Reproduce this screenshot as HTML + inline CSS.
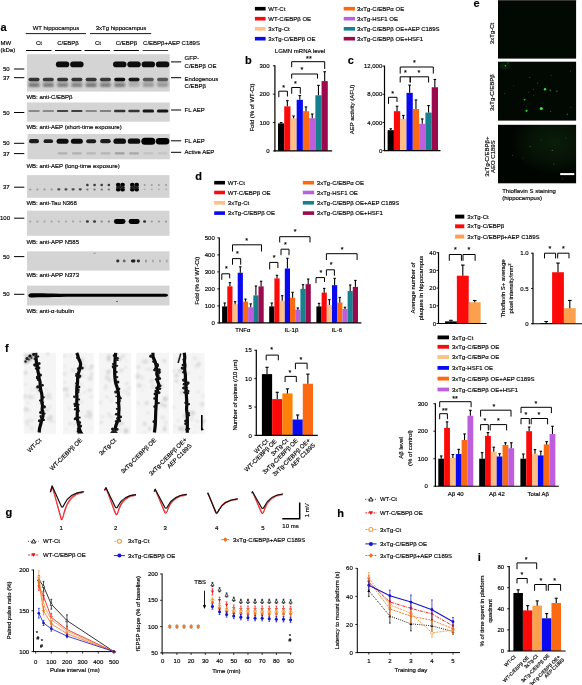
<!DOCTYPE html><html><head><meta charset="utf-8"><title>Figure</title><style>html,body{margin:0;padding:0;background:#fff;width:582px;height:685px;overflow:hidden}svg{display:block}text{stroke:#000;stroke-width:0.16px}</style></head><body><svg width="582" height="685" viewBox="0 0 582 685" font-family="'Liberation Sans', Arial, sans-serif" font-size="6"><defs>
<filter id="b4" x="-50%" y="-50%" width="200%" height="200%"><feGaussianBlur stdDeviation="0.4"/></filter>
<filter id="b5" x="-50%" y="-50%" width="200%" height="200%"><feGaussianBlur stdDeviation="0.5"/></filter>
<filter id="b6" x="-50%" y="-50%" width="200%" height="200%"><feGaussianBlur stdDeviation="0.6"/></filter>
<filter id="b8" x="-50%" y="-50%" width="200%" height="200%"><feGaussianBlur stdDeviation="0.8"/></filter>
<filter id="b9" x="-50%" y="-50%" width="200%" height="200%"><feGaussianBlur stdDeviation="0.9"/></filter>
<radialGradient id="g3" cx="0.72" cy="0.3" r="0.55"><stop offset="0" stop-color="#0a1d0a"/><stop offset="0.6" stop-color="#061206"/><stop offset="1" stop-color="#010501"/></radialGradient>
</defs><text x="0.5" y="30.5" font-size="11" font-weight="bold">a</text>
<text x="56.00" y="30.16" text-anchor="middle">WT hippocampus</text>
<text x="121.00" y="30.16" text-anchor="middle">3xTg hippocampus</text>
<line x1="25.80" y1="33.60" x2="86.00" y2="33.60" stroke="#000" stroke-width="0.9"/>
<line x1="90.00" y1="33.60" x2="151.20" y2="33.60" stroke="#000" stroke-width="0.9"/>
<text x="0.50" y="45.16">MW</text>
<text x="0.50" y="52.16">(kDa)</text>
<text x="39.00" y="45.16" text-anchor="middle">Ct</text>
<text x="68.00" y="45.16" text-anchor="middle">C/EBPβ</text>
<text x="98.00" y="45.16" text-anchor="middle">Ct</text>
<text x="126.50" y="45.16" text-anchor="middle">C/EBPβ</text>
<text x="171.50" y="45.16" text-anchor="middle">C/EBPβ+AEP C189S</text>
<line x1="26.00" y1="50.50" x2="51.50" y2="50.50" stroke="#000" stroke-width="1.0"/>
<line x1="55.00" y1="50.50" x2="81.40" y2="50.50" stroke="#000" stroke-width="1.0"/>
<line x1="84.50" y1="50.50" x2="110.00" y2="50.50" stroke="#000" stroke-width="1.0"/>
<line x1="113.70" y1="50.50" x2="138.90" y2="50.50" stroke="#000" stroke-width="1.0"/>
<line x1="142.60" y1="50.50" x2="168.10" y2="50.50" stroke="#3a3a3a" stroke-width="1.0"/>
<rect x="26.90" y="54.20" width="142.90" height="37.40" fill="#d4d4d4"/>
<rect x="26.90" y="102.50" width="142.90" height="19.20" fill="#d4d4d4"/>
<rect x="27.50" y="134.00" width="142.30" height="25.30" fill="#d4d4d4"/>
<rect x="27.00" y="175.10" width="142.50" height="22.70" fill="#d4d4d4"/>
<rect x="27.00" y="210.70" width="142.50" height="25.10" fill="#d4d4d4"/>
<rect x="27.00" y="251.30" width="142.50" height="19.30" fill="#d4d4d4"/>
<rect x="27.00" y="285.60" width="142.50" height="19.90" fill="#d4d4d4"/>
<text x="3.00" y="71.16">50</text>
<line x1="14.00" y1="69.00" x2="24.30" y2="69.00" stroke="#000" stroke-width="1.0"/>
<text x="3.00" y="79.86">37</text>
<line x1="14.00" y1="77.70" x2="24.30" y2="77.70" stroke="#000" stroke-width="1.0"/>
<text x="3.00" y="114.66">50</text>
<line x1="14.00" y1="112.50" x2="24.30" y2="112.50" stroke="#000" stroke-width="1.0"/>
<text x="3.00" y="145.46">50</text>
<line x1="14.00" y1="143.30" x2="24.30" y2="143.30" stroke="#000" stroke-width="1.0"/>
<text x="3.00" y="155.76">37</text>
<line x1="14.00" y1="153.60" x2="24.30" y2="153.60" stroke="#000" stroke-width="1.0"/>
<text x="3.00" y="189.36">37</text>
<line x1="14.00" y1="187.20" x2="24.30" y2="187.20" stroke="#000" stroke-width="1.0"/>
<text x="0.00" y="220.36">100</text>
<line x1="14.00" y1="218.20" x2="24.30" y2="218.20" stroke="#000" stroke-width="1.0"/>
<text x="3.00" y="258.76">50</text>
<line x1="14.00" y1="256.60" x2="24.30" y2="256.60" stroke="#000" stroke-width="1.0"/>
<text x="3.00" y="296.46">50</text>
<line x1="14.00" y1="294.30" x2="24.30" y2="294.30" stroke="#000" stroke-width="1.0"/>
<text x="26.40" y="98.66">WB: anti-C/EBPβ</text>
<text x="26.40" y="129.16">WB: anti-AEP (short-time exposure)</text>
<text x="26.40" y="168.26">WB: anti-AEP (long-time exposure)</text>
<text x="26.40" y="204.96">WB: anti-Tau N368</text>
<text x="26.40" y="244.16">WB: anti-APP N585</text>
<text x="26.40" y="277.36">WB: anti-APP N373</text>
<text x="26.40" y="312.76">WB: anti-α-tubulin</text>
<text x="184.60" y="59.86">GFP-</text>
<text x="184.60" y="67.76">C/EBPβ OE</text>
<text x="184.60" y="80.96">Endogenous</text>
<text x="184.60" y="87.66">C/EBPβ</text>
<text x="184.60" y="112.16">FL AEP</text>
<text x="184.60" y="142.96">FL AEP</text>
<text x="184.60" y="154.46">Active AEP</text>
<line x1="171.00" y1="61.90" x2="181.20" y2="61.90" stroke="#000" stroke-width="1.0"/>
<line x1="171.00" y1="77.70" x2="181.20" y2="77.70" stroke="#000" stroke-width="1.0"/>
<line x1="171.00" y1="110.00" x2="181.20" y2="110.00" stroke="#000" stroke-width="1.0"/>
<line x1="171.00" y1="140.80" x2="181.20" y2="140.80" stroke="#000" stroke-width="1.0"/>
<line x1="171.00" y1="152.30" x2="181.20" y2="152.30" stroke="#000" stroke-width="1.0"/>
<rect x="55.88" y="61.60" width="13.40" height="5.60" rx="2.80" fill="#0a0a0a" opacity="1.0" filter="url(#b5)"/>
<rect x="70.17" y="61.60" width="13.40" height="5.60" rx="2.80" fill="#0a0a0a" opacity="1.0" filter="url(#b5)"/>
<rect x="113.04" y="61.60" width="13.40" height="5.60" rx="2.80" fill="#0a0a0a" opacity="1.0" filter="url(#b5)"/>
<rect x="127.33" y="61.60" width="13.40" height="5.60" rx="2.80" fill="#0a0a0a" opacity="1.0" filter="url(#b5)"/>
<rect x="141.62" y="61.60" width="13.40" height="5.60" rx="2.80" fill="#0a0a0a" opacity="1.0" filter="url(#b5)"/>
<rect x="155.91" y="61.60" width="13.40" height="5.60" rx="2.80" fill="#0a0a0a" opacity="1.0" filter="url(#b5)"/>
<rect x="28.25" y="79.65" width="11.50" height="5.50" rx="2.75" fill="#acacac" opacity="1.0" filter="url(#b9)"/>
<rect x="28.50" y="77.80" width="11.00" height="3.40" rx="1.70" fill="#303030" opacity="1.0" filter="url(#b6)"/>
<rect x="42.54" y="79.65" width="11.50" height="5.50" rx="2.75" fill="#acacac" opacity="1.0" filter="url(#b9)"/>
<rect x="42.79" y="77.80" width="11.00" height="3.40" rx="1.70" fill="#383838" opacity="1.0" filter="url(#b6)"/>
<rect x="56.83" y="79.65" width="11.50" height="5.50" rx="2.75" fill="#acacac" opacity="1.0" filter="url(#b9)"/>
<rect x="57.08" y="77.80" width="11.00" height="3.40" rx="1.70" fill="#303030" opacity="1.0" filter="url(#b6)"/>
<rect x="71.12" y="79.65" width="11.50" height="5.50" rx="2.75" fill="#acacac" opacity="1.0" filter="url(#b9)"/>
<rect x="71.37" y="77.80" width="11.00" height="3.40" rx="1.70" fill="#303030" opacity="1.0" filter="url(#b6)"/>
<rect x="85.41" y="79.65" width="11.50" height="5.50" rx="2.75" fill="#acacac" opacity="1.0" filter="url(#b9)"/>
<rect x="85.66" y="77.80" width="11.00" height="3.40" rx="1.70" fill="#353535" opacity="1.0" filter="url(#b6)"/>
<rect x="99.70" y="79.65" width="11.50" height="5.50" rx="2.75" fill="#acacac" opacity="1.0" filter="url(#b9)"/>
<rect x="99.95" y="77.80" width="11.00" height="3.40" rx="1.70" fill="#383838" opacity="1.0" filter="url(#b6)"/>
<rect x="113.99" y="79.65" width="11.50" height="5.50" rx="2.75" fill="#acacac" opacity="1.0" filter="url(#b9)"/>
<rect x="114.24" y="77.80" width="11.00" height="3.40" rx="1.70" fill="#101010" opacity="1.0" filter="url(#b6)"/>
<rect x="128.28" y="79.65" width="11.50" height="5.50" rx="2.75" fill="#acacac" opacity="1.0" filter="url(#b9)"/>
<rect x="128.53" y="77.80" width="11.00" height="3.40" rx="1.70" fill="#151515" opacity="1.0" filter="url(#b6)"/>
<rect x="142.57" y="79.65" width="11.50" height="5.50" rx="2.75" fill="#acacac" opacity="1.0" filter="url(#b9)"/>
<rect x="142.82" y="77.80" width="11.00" height="3.40" rx="1.70" fill="#555" opacity="1.0" filter="url(#b6)"/>
<rect x="156.86" y="79.65" width="11.50" height="5.50" rx="2.75" fill="#acacac" opacity="1.0" filter="url(#b9)"/>
<rect x="157.11" y="77.80" width="11.00" height="3.40" rx="1.70" fill="#555" opacity="1.0" filter="url(#b6)"/>
<rect x="28.50" y="83.70" width="11.00" height="3.00" rx="1.50" fill="#6a6a6a" opacity="1.0" filter="url(#b9)"/>
<rect x="42.79" y="83.70" width="11.00" height="3.00" rx="1.50" fill="#707070" opacity="1.0" filter="url(#b9)"/>
<rect x="57.08" y="83.70" width="11.00" height="3.00" rx="1.50" fill="#777" opacity="1.0" filter="url(#b9)"/>
<rect x="71.37" y="83.70" width="11.00" height="3.00" rx="1.50" fill="#777" opacity="1.0" filter="url(#b9)"/>
<rect x="85.66" y="83.70" width="11.00" height="3.00" rx="1.50" fill="#6a6a6a" opacity="1.0" filter="url(#b9)"/>
<rect x="99.95" y="83.70" width="11.00" height="3.00" rx="1.50" fill="#707070" opacity="1.0" filter="url(#b9)"/>
<rect x="114.24" y="83.70" width="11.00" height="3.00" rx="1.50" fill="#707070" opacity="1.0" filter="url(#b9)"/>
<rect x="128.53" y="83.70" width="11.00" height="3.00" rx="1.50" fill="#aaa" opacity="1.0" filter="url(#b9)"/>
<rect x="142.82" y="83.70" width="11.00" height="3.00" rx="1.50" fill="#929292" opacity="1.0" filter="url(#b9)"/>
<rect x="157.11" y="83.70" width="11.00" height="3.00" rx="1.50" fill="#929292" opacity="1.0" filter="url(#b9)"/>
<rect x="28.25" y="110.10" width="11.50" height="1.80" rx="0.90" fill="#8a8a8a" opacity="1.0" filter="url(#b5)"/>
<rect x="42.54" y="110.10" width="11.50" height="1.80" rx="0.90" fill="#8a8a8a" opacity="1.0" filter="url(#b5)"/>
<rect x="56.83" y="109.90" width="11.50" height="2.20" rx="1.10" fill="#454545" opacity="1.0" filter="url(#b5)"/>
<rect x="71.12" y="109.90" width="11.50" height="2.20" rx="1.10" fill="#404040" opacity="1.0" filter="url(#b5)"/>
<rect x="85.41" y="110.10" width="11.50" height="1.80" rx="0.90" fill="#888" opacity="1.0" filter="url(#b5)"/>
<rect x="99.70" y="110.10" width="11.50" height="1.80" rx="0.90" fill="#808080" opacity="1.0" filter="url(#b5)"/>
<rect x="113.99" y="109.80" width="11.50" height="2.40" rx="1.20" fill="#333" opacity="1.0" filter="url(#b5)"/>
<rect x="128.28" y="109.80" width="11.50" height="2.40" rx="1.20" fill="#353535" opacity="1.0" filter="url(#b5)"/>
<rect x="142.57" y="109.50" width="11.50" height="3.00" rx="1.50" fill="#151515" opacity="1.0" filter="url(#b5)"/>
<rect x="156.86" y="109.50" width="11.50" height="3.00" rx="1.50" fill="#151515" opacity="1.0" filter="url(#b5)"/>
<rect x="29.00" y="139.10" width="10.00" height="4.20" rx="2.10" fill="#1a1a1a" opacity="1.0" filter="url(#b5)"/>
<rect x="43.54" y="139.30" width="9.50" height="3.80" rx="1.90" fill="#1f1f1f" opacity="1.0" filter="url(#b5)"/>
<rect x="56.58" y="138.70" width="12.00" height="5.00" rx="2.50" fill="#0a0a0a" opacity="1.0" filter="url(#b5)"/>
<rect x="70.87" y="138.70" width="12.00" height="5.00" rx="2.50" fill="#0c0c0c" opacity="1.0" filter="url(#b5)"/>
<rect x="86.16" y="139.20" width="10.00" height="4.00" rx="2.00" fill="#1c1c1c" opacity="1.0" filter="url(#b5)"/>
<rect x="100.20" y="139.10" width="10.50" height="4.20" rx="2.10" fill="#1c1c1c" opacity="1.0" filter="url(#b5)"/>
<rect x="113.49" y="138.60" width="12.50" height="5.20" rx="2.60" fill="#080808" opacity="1.0" filter="url(#b5)"/>
<rect x="127.78" y="138.60" width="12.50" height="5.20" rx="2.60" fill="#0a0a0a" opacity="1.0" filter="url(#b5)"/>
<rect x="141.32" y="137.70" width="14.00" height="7.00" rx="3.50" fill="#000" opacity="1.0" filter="url(#b5)"/>
<rect x="155.86" y="137.90" width="13.50" height="6.60" rx="3.30" fill="#000" opacity="1.0" filter="url(#b5)"/>
<rect x="57.58" y="152.20" width="10.00" height="2.20" rx="1.10" fill="#b0b0b0" opacity="1.0" filter="url(#b6)"/>
<rect x="71.87" y="152.20" width="10.00" height="2.20" rx="1.10" fill="#b0b0b0" opacity="1.0" filter="url(#b6)"/>
<rect x="86.16" y="152.20" width="10.00" height="2.20" rx="1.10" fill="#b8b8b8" opacity="1.0" filter="url(#b6)"/>
<rect x="100.45" y="152.20" width="10.00" height="2.20" rx="1.10" fill="#b5b5b5" opacity="1.0" filter="url(#b6)"/>
<rect x="114.74" y="152.20" width="10.00" height="2.20" rx="1.10" fill="#a0a0a0" opacity="1.0" filter="url(#b6)"/>
<rect x="129.03" y="152.20" width="10.00" height="2.20" rx="1.10" fill="#a8a8a8" opacity="1.0" filter="url(#b6)"/>
<rect x="143.32" y="152.20" width="10.00" height="2.20" rx="1.10" fill="#c2c2c2" opacity="1.0" filter="url(#b6)"/>
<rect x="157.61" y="152.20" width="10.00" height="2.20" rx="1.10" fill="#c4c4c4" opacity="1.0" filter="url(#b6)"/>
<rect x="29.10" y="188.60" width="2.20" height="1.80" rx="0.90" fill="#9a9a9a" opacity="1.0" filter="url(#b4)"/>
<rect x="36.25" y="188.60" width="2.20" height="1.80" rx="0.90" fill="#9a9a9a" opacity="1.0" filter="url(#b4)"/>
<rect x="43.40" y="188.60" width="2.20" height="1.80" rx="0.90" fill="#9a9a9a" opacity="1.0" filter="url(#b4)"/>
<rect x="50.55" y="188.60" width="2.20" height="1.80" rx="0.90" fill="#9a9a9a" opacity="1.0" filter="url(#b4)"/>
<rect x="57.20" y="188.20" width="3.20" height="2.20" rx="1.10" fill="#4a4a4a" opacity="1.0" filter="url(#b4)"/>
<rect x="64.35" y="188.20" width="3.20" height="2.20" rx="1.10" fill="#4a4a4a" opacity="1.0" filter="url(#b4)"/>
<rect x="71.50" y="188.20" width="3.20" height="2.20" rx="1.10" fill="#4a4a4a" opacity="1.0" filter="url(#b4)"/>
<rect x="78.65" y="188.20" width="3.20" height="2.20" rx="1.10" fill="#4a4a4a" opacity="1.0" filter="url(#b4)"/>
<rect x="86.10" y="183.80" width="2.60" height="2.40" rx="1.20" fill="#3a3a3a" opacity="1.0" filter="url(#b4)"/>
<rect x="86.20" y="188.40" width="2.40" height="2.00" rx="1.00" fill="#777" opacity="1.0" filter="url(#b4)"/>
<rect x="93.25" y="183.80" width="2.60" height="2.40" rx="1.20" fill="#3a3a3a" opacity="1.0" filter="url(#b4)"/>
<rect x="93.35" y="188.40" width="2.40" height="2.00" rx="1.00" fill="#777" opacity="1.0" filter="url(#b4)"/>
<rect x="100.40" y="183.80" width="2.60" height="2.40" rx="1.20" fill="#3a3a3a" opacity="1.0" filter="url(#b4)"/>
<rect x="100.50" y="188.40" width="2.40" height="2.00" rx="1.00" fill="#777" opacity="1.0" filter="url(#b4)"/>
<rect x="107.55" y="183.80" width="2.60" height="2.40" rx="1.20" fill="#3a3a3a" opacity="1.0" filter="url(#b4)"/>
<rect x="107.65" y="188.40" width="2.40" height="2.00" rx="1.00" fill="#777" opacity="1.0" filter="url(#b4)"/>
<rect x="143.60" y="184.00" width="2.00" height="2.00" rx="1.00" fill="#9a9a9a" opacity="1.0" filter="url(#b4)"/>
<rect x="143.60" y="188.60" width="2.00" height="1.60" rx="0.80" fill="#b0b0b0" opacity="1.0" filter="url(#b4)"/>
<rect x="150.75" y="184.00" width="2.00" height="2.00" rx="1.00" fill="#9a9a9a" opacity="1.0" filter="url(#b4)"/>
<rect x="150.75" y="188.60" width="2.00" height="1.60" rx="0.80" fill="#b0b0b0" opacity="1.0" filter="url(#b4)"/>
<rect x="157.90" y="184.00" width="2.00" height="2.00" rx="1.00" fill="#9a9a9a" opacity="1.0" filter="url(#b4)"/>
<rect x="157.90" y="188.60" width="2.00" height="1.60" rx="0.80" fill="#b0b0b0" opacity="1.0" filter="url(#b4)"/>
<rect x="165.05" y="184.00" width="2.00" height="2.00" rx="1.00" fill="#9a9a9a" opacity="1.0" filter="url(#b4)"/>
<rect x="165.05" y="188.60" width="2.00" height="1.60" rx="0.80" fill="#b0b0b0" opacity="1.0" filter="url(#b4)"/>
<rect x="115.90" y="182.70" width="4.60" height="4.20" rx="2.10" fill="#000" opacity="1.0" filter="url(#b4)"/>
<rect x="115.90" y="187.70" width="4.60" height="3.80" rx="1.90" fill="#000" opacity="1.0" filter="url(#b4)"/>
<rect x="120.30" y="182.70" width="4.60" height="4.20" rx="2.10" fill="#000" opacity="1.0" filter="url(#b4)"/>
<rect x="120.30" y="187.70" width="4.60" height="3.80" rx="1.90" fill="#000" opacity="1.0" filter="url(#b4)"/>
<rect x="116.15" y="185.70" width="8.50" height="3.00" rx="1.50" fill="#222" opacity="1.0" filter="url(#b4)"/>
<rect x="130.00" y="182.70" width="4.60" height="4.20" rx="2.10" fill="#000" opacity="1.0" filter="url(#b4)"/>
<rect x="130.00" y="187.70" width="4.60" height="3.80" rx="1.90" fill="#000" opacity="1.0" filter="url(#b4)"/>
<rect x="134.40" y="182.70" width="4.60" height="4.20" rx="2.10" fill="#000" opacity="1.0" filter="url(#b4)"/>
<rect x="134.40" y="187.70" width="4.60" height="3.80" rx="1.90" fill="#000" opacity="1.0" filter="url(#b4)"/>
<rect x="130.25" y="185.70" width="8.50" height="3.00" rx="1.50" fill="#222" opacity="1.0" filter="url(#b4)"/>
<rect x="29.10" y="220.60" width="2.20" height="1.80" rx="0.90" fill="#a5a5a5" opacity="1.0" filter="url(#b4)"/>
<rect x="36.25" y="220.60" width="2.20" height="1.80" rx="0.90" fill="#a5a5a5" opacity="1.0" filter="url(#b4)"/>
<rect x="43.40" y="220.60" width="2.20" height="1.80" rx="0.90" fill="#a5a5a5" opacity="1.0" filter="url(#b4)"/>
<rect x="50.55" y="220.60" width="2.20" height="1.80" rx="0.90" fill="#a5a5a5" opacity="1.0" filter="url(#b4)"/>
<rect x="57.70" y="220.60" width="2.20" height="1.80" rx="0.90" fill="#a5a5a5" opacity="1.0" filter="url(#b4)"/>
<rect x="64.85" y="220.60" width="2.20" height="1.80" rx="0.90" fill="#a5a5a5" opacity="1.0" filter="url(#b4)"/>
<rect x="72.00" y="220.60" width="2.20" height="1.80" rx="0.90" fill="#a5a5a5" opacity="1.0" filter="url(#b4)"/>
<rect x="79.15" y="220.60" width="2.20" height="1.80" rx="0.90" fill="#a5a5a5" opacity="1.0" filter="url(#b4)"/>
<rect x="85.90" y="220.20" width="3.00" height="2.60" rx="1.30" fill="#3a3a3a" opacity="1.0" filter="url(#b4)"/>
<rect x="93.05" y="220.20" width="3.00" height="2.60" rx="1.30" fill="#3a3a3a" opacity="1.0" filter="url(#b4)"/>
<rect x="100.50" y="220.50" width="2.40" height="2.00" rx="1.00" fill="#888" opacity="1.0" filter="url(#b4)"/>
<rect x="107.65" y="220.50" width="2.40" height="2.00" rx="1.00" fill="#888" opacity="1.0" filter="url(#b4)"/>
<rect x="143.10" y="220.20" width="3.00" height="2.60" rx="1.30" fill="#333" opacity="1.0" filter="url(#b4)"/>
<rect x="150.65" y="220.60" width="2.20" height="1.80" rx="0.90" fill="#999" opacity="1.0" filter="url(#b4)"/>
<rect x="157.80" y="220.60" width="2.20" height="1.80" rx="0.90" fill="#999" opacity="1.0" filter="url(#b4)"/>
<rect x="164.95" y="220.60" width="2.20" height="1.80" rx="0.90" fill="#999" opacity="1.0" filter="url(#b4)"/>
<rect x="113.90" y="219.10" width="11.60" height="4.80" rx="2.40" fill="#000" opacity="1.0" filter="url(#b4)"/>
<rect x="128.60" y="219.10" width="11.10" height="4.80" rx="2.40" fill="#000" opacity="1.0" filter="url(#b4)"/>
<rect x="116.20" y="259.60" width="3.20" height="2.80" rx="1.40" fill="#333" opacity="1.0" filter="url(#b4)"/>
<rect x="122.80" y="259.60" width="2.80" height="2.80" rx="1.40" fill="#666" opacity="1.0" filter="url(#b4)"/>
<rect x="130.95" y="259.60" width="4.50" height="2.80" rx="1.40" fill="#1a1a1a" opacity="1.0" filter="url(#b4)"/>
<rect x="136.80" y="259.60" width="3.20" height="2.80" rx="1.40" fill="#333" opacity="1.0" filter="url(#b4)"/>
<rect x="145.00" y="259.60" width="2.00" height="2.80" rx="1.00" fill="#999" opacity="1.0" filter="url(#b4)"/>
<rect x="152.00" y="259.60" width="2.00" height="2.80" rx="1.00" fill="#aaa" opacity="1.0" filter="url(#b4)"/>
<rect x="159.00" y="259.60" width="2.00" height="2.80" rx="1.00" fill="#aaa" opacity="1.0" filter="url(#b4)"/>
<rect x="165.80" y="259.60" width="2.00" height="2.80" rx="1.00" fill="#aaa" opacity="1.0" filter="url(#b4)"/>
<path d="M93.6,252.6 L94.6,254 L95.6,252.6" stroke="#777" stroke-width="0.6" fill="none"/>
<path d="M28.2,295.4 C28.6,293.7 30,293.2 33,293.2 C45,293.3 60,293.7 80,293.8 C110,293.9 140,293.6 165.5,293.7 C167.5,293.8 168,294.6 168,295.2 C168,296 167.3,296.6 165.5,296.7 C140,296.8 110,296.9 80,296.8 C60,296.8 45,297.3 33,297.5 C30,297.5 28.6,297.1 28.2,295.4 Z" fill="#060606" filter="url(#b5)"/>
<rect x="116.20" y="301.10" width="1.80" height="0.80" fill="#444"/>
<rect x="254.90" y="6.90" width="10.70" height="3.60" fill="#000000"/>
<text x="268.30" y="10.86">WT-Ct</text>
<rect x="254.90" y="16.90" width="10.70" height="3.60" fill="#fc0a0a"/>
<text x="268.30" y="20.86">WT-C/EBPβ OE</text>
<rect x="254.90" y="27.00" width="10.70" height="3.60" fill="#fdbf86"/>
<text x="268.30" y="30.96">3xTg-Ct</text>
<rect x="254.90" y="36.90" width="10.70" height="3.60" fill="#0a0af0"/>
<text x="268.30" y="40.86">3xTg-C/EBPβ OE</text>
<rect x="343.70" y="6.90" width="11.30" height="3.60" fill="#fb6a12"/>
<text x="357.00" y="10.86">3xTg-C/EBPα OE</text>
<rect x="343.70" y="16.90" width="11.30" height="3.60" fill="#bd5fdc"/>
<text x="357.00" y="20.86">3xTg-HSF1 OE</text>
<rect x="343.70" y="27.00" width="11.30" height="3.60" fill="#16808f"/>
<text x="357.00" y="30.96">3xTg-C/EBPβ OE+AEP C189S</text>
<rect x="343.70" y="36.90" width="11.30" height="3.60" fill="#9a0a4c"/>
<text x="357.00" y="40.86">3xTg-C/EBPβ OE+HSF1</text>
<text x="300.00" y="52.66" text-anchor="middle">LGMN mRNA level</text>
<text x="245" y="64.3" font-size="11" font-weight="bold">b</text>
<text x="347.8" y="64.3" font-size="11" font-weight="bold">c</text>
<line x1="274.90" y1="65.30" x2="274.90" y2="151.40" stroke="#000" stroke-width="1.2"/>
<line x1="272.90" y1="150.90" x2="274.90" y2="150.90" stroke="#000" stroke-width="0.9"/>
<text x="269.50" y="153.06" text-anchor="end">0</text>
<line x1="272.90" y1="122.53" x2="274.90" y2="122.53" stroke="#000" stroke-width="0.9"/>
<text x="269.50" y="124.69" text-anchor="end">100</text>
<line x1="272.90" y1="94.16" x2="274.90" y2="94.16" stroke="#000" stroke-width="0.9"/>
<text x="269.50" y="96.32" text-anchor="end">200</text>
<line x1="272.90" y1="65.79" x2="274.90" y2="65.79" stroke="#000" stroke-width="0.9"/>
<text x="269.50" y="67.95" text-anchor="end">300</text>
<rect x="278.00" y="123.38" width="6.22" height="27.52" fill="#000000"/>
<line x1="281.11" y1="123.38" x2="281.11" y2="122.53" stroke="#000" stroke-width="1.1"/>
<line x1="279.81" y1="122.53" x2="282.41" y2="122.53" stroke="#000" stroke-width="1.1"/>
<rect x="284.23" y="106.36" width="6.22" height="44.54" fill="#fc0a0a"/>
<line x1="287.34" y1="106.36" x2="287.34" y2="100.69" stroke="#000" stroke-width="1.1"/>
<line x1="286.04" y1="100.69" x2="288.64" y2="100.69" stroke="#000" stroke-width="1.1"/>
<rect x="290.45" y="118.27" width="6.22" height="32.63" fill="#fdbf86"/>
<line x1="293.56" y1="118.27" x2="293.56" y2="116.00" stroke="#000" stroke-width="1.1"/>
<line x1="292.26" y1="116.00" x2="294.86" y2="116.00" stroke="#000" stroke-width="1.1"/>
<rect x="296.68" y="99.83" width="6.22" height="51.07" fill="#0a0af0"/>
<line x1="299.79" y1="99.83" x2="299.79" y2="95.58" stroke="#000" stroke-width="1.1"/>
<line x1="298.49" y1="95.58" x2="301.09" y2="95.58" stroke="#000" stroke-width="1.1"/>
<rect x="302.90" y="111.18" width="6.22" height="39.72" fill="#fb6a12"/>
<line x1="306.01" y1="111.18" x2="306.01" y2="106.93" stroke="#000" stroke-width="1.1"/>
<line x1="304.71" y1="106.93" x2="307.31" y2="106.93" stroke="#000" stroke-width="1.1"/>
<rect x="309.12" y="118.27" width="6.22" height="32.63" fill="#bd5fdc"/>
<line x1="312.24" y1="118.27" x2="312.24" y2="114.02" stroke="#000" stroke-width="1.1"/>
<line x1="310.94" y1="114.02" x2="313.54" y2="114.02" stroke="#000" stroke-width="1.1"/>
<rect x="315.35" y="95.29" width="6.22" height="55.61" fill="#16808f"/>
<line x1="318.46" y1="95.29" x2="318.46" y2="85.37" stroke="#000" stroke-width="1.1"/>
<line x1="317.16" y1="85.37" x2="319.76" y2="85.37" stroke="#000" stroke-width="1.1"/>
<rect x="321.57" y="81.11" width="6.22" height="69.79" fill="#9a0a4c"/>
<line x1="324.69" y1="81.11" x2="324.69" y2="71.75" stroke="#000" stroke-width="1.1"/>
<line x1="323.39" y1="71.75" x2="325.99" y2="71.75" stroke="#000" stroke-width="1.1"/>
<line x1="274.40" y1="150.90" x2="332.10" y2="150.90" stroke="#000" stroke-width="1.1"/>
<text transform="translate(252.20,107.60) rotate(-90)" y="2.16" text-anchor="middle">Fold (% of WT-Ct)</text>
<polyline points="278.80,97.20 278.80,91.20 287.40,91.20 287.40,96.50" fill="none" stroke="#000" stroke-width="1.0"/>
<text x="283.60" y="90.19" text-anchor="middle" font-size="7.2">*</text>
<polyline points="291.70,93.80 291.70,87.50 300.30,87.50 300.30,93.80" fill="none" stroke="#000" stroke-width="1.0"/>
<text x="295.50" y="86.19" text-anchor="middle" font-size="7.2">*</text>
<polyline points="291.70,78.60 291.70,74.00 317.50,74.00 317.50,78.60" fill="none" stroke="#000" stroke-width="1.0"/>
<text x="302.00" y="72.39" text-anchor="middle" font-size="7.2">*</text>
<polyline points="291.70,67.20 291.70,61.70 324.70,61.70 324.70,68.90" fill="none" stroke="#000" stroke-width="1.0"/>
<text x="308.90" y="61.19" text-anchor="middle" font-size="7.2">**</text>
<line x1="384.50" y1="65.60" x2="384.50" y2="151.10" stroke="#000" stroke-width="1.2"/>
<line x1="382.50" y1="150.60" x2="384.50" y2="150.60" stroke="#000" stroke-width="0.9"/>
<text x="382.30" y="152.76" text-anchor="end">0</text>
<line x1="382.50" y1="122.43" x2="384.50" y2="122.43" stroke="#000" stroke-width="0.9"/>
<text x="382.30" y="124.59" text-anchor="end">4,000</text>
<line x1="382.50" y1="94.27" x2="384.50" y2="94.27" stroke="#000" stroke-width="0.9"/>
<text x="382.30" y="96.43" text-anchor="end">8,000</text>
<line x1="382.50" y1="66.10" x2="384.50" y2="66.10" stroke="#000" stroke-width="0.9"/>
<text x="382.30" y="68.26" text-anchor="end">12,000</text>
<rect x="387.60" y="130.18" width="6.30" height="20.42" fill="#000000"/>
<line x1="390.75" y1="130.18" x2="390.75" y2="128.77" stroke="#000" stroke-width="1.1"/>
<line x1="389.45" y1="128.77" x2="392.05" y2="128.77" stroke="#000" stroke-width="1.1"/>
<rect x="393.90" y="111.17" width="6.30" height="39.43" fill="#fc0a0a"/>
<line x1="397.05" y1="111.17" x2="397.05" y2="106.24" stroke="#000" stroke-width="1.1"/>
<line x1="395.75" y1="106.24" x2="398.35" y2="106.24" stroke="#000" stroke-width="1.1"/>
<rect x="400.20" y="118.91" width="6.30" height="31.69" fill="#fdbf86"/>
<line x1="403.35" y1="118.91" x2="403.35" y2="115.39" stroke="#000" stroke-width="1.1"/>
<line x1="402.05" y1="115.39" x2="404.65" y2="115.39" stroke="#000" stroke-width="1.1"/>
<rect x="406.50" y="92.86" width="6.30" height="57.74" fill="#0a0af0"/>
<line x1="409.65" y1="92.86" x2="409.65" y2="85.11" stroke="#000" stroke-width="1.1"/>
<line x1="408.35" y1="85.11" x2="410.95" y2="85.11" stroke="#000" stroke-width="1.1"/>
<rect x="412.80" y="109.05" width="6.30" height="41.55" fill="#fb6a12"/>
<line x1="415.95" y1="109.05" x2="415.95" y2="99.90" stroke="#000" stroke-width="1.1"/>
<line x1="414.65" y1="99.90" x2="417.25" y2="99.90" stroke="#000" stroke-width="1.1"/>
<rect x="419.10" y="123.84" width="6.30" height="26.76" fill="#bd5fdc"/>
<line x1="422.25" y1="123.84" x2="422.25" y2="118.91" stroke="#000" stroke-width="1.1"/>
<line x1="420.95" y1="118.91" x2="423.55" y2="118.91" stroke="#000" stroke-width="1.1"/>
<rect x="425.40" y="112.57" width="6.30" height="38.02" fill="#16808f"/>
<line x1="428.55" y1="112.57" x2="428.55" y2="105.53" stroke="#000" stroke-width="1.1"/>
<line x1="427.25" y1="105.53" x2="429.85" y2="105.53" stroke="#000" stroke-width="1.1"/>
<rect x="431.70" y="87.22" width="6.30" height="63.38" fill="#9a0a4c"/>
<line x1="434.85" y1="87.22" x2="434.85" y2="79.48" stroke="#000" stroke-width="1.1"/>
<line x1="433.55" y1="79.48" x2="436.15" y2="79.48" stroke="#000" stroke-width="1.1"/>
<line x1="384.00" y1="150.60" x2="440.50" y2="150.60" stroke="#000" stroke-width="1.1"/>
<text transform="translate(352.00,109.50) rotate(-90)" y="2.16" text-anchor="middle">AEP activity (AFU)</text>
<polyline points="388.50,103.90 388.50,97.30 397.00,97.30 397.00,102.00" fill="none" stroke="#000" stroke-width="1.0"/>
<text x="392.70" y="95.59" text-anchor="middle" font-size="7.2">*</text>
<polyline points="400.20,82.50 400.20,76.80 410.20,76.80 410.20,82.50" fill="none" stroke="#000" stroke-width="1.0"/>
<text x="405.30" y="74.79" text-anchor="middle" font-size="7.2">*</text>
<polyline points="410.20,82.50 410.20,76.80 428.60,76.80 428.60,82.50" fill="none" stroke="#000" stroke-width="1.0"/>
<text x="419.00" y="74.79" text-anchor="middle" font-size="7.2">*</text>
<polyline points="400.20,73.60 400.20,67.00 433.30,67.00 433.30,73.60" fill="none" stroke="#000" stroke-width="1.0"/>
<text x="414.40" y="65.29" text-anchor="middle" font-size="7.2">*</text>
<text x="195.3" y="180.4" font-size="11" font-weight="bold">d</text>
<rect x="214.20" y="180.90" width="10.80" height="3.60" fill="#000000"/>
<text x="227.80" y="184.86">WT-Ct</text>
<rect x="214.20" y="190.70" width="10.80" height="3.60" fill="#fc0a0a"/>
<text x="227.80" y="194.66">WT-C/EBPβ OE</text>
<rect x="214.20" y="201.00" width="10.80" height="3.60" fill="#fdbf86"/>
<text x="227.80" y="204.96">3xTg-Ct</text>
<rect x="214.20" y="211.30" width="10.80" height="3.60" fill="#0a0af0"/>
<text x="227.80" y="215.26">3xTg-C/EBPβ OE</text>
<rect x="302.80" y="180.90" width="11.30" height="3.60" fill="#fb6a12"/>
<text x="316.80" y="184.86">3xTg-C/EBPα OE</text>
<rect x="302.80" y="190.70" width="11.30" height="3.60" fill="#bd5fdc"/>
<text x="316.80" y="194.66">3xTg-HSF1 OE</text>
<rect x="302.80" y="201.00" width="11.30" height="3.60" fill="#16808f"/>
<text x="316.80" y="204.96">3xTg-C/EBPβ OE+AEP C189S</text>
<rect x="302.80" y="211.30" width="11.30" height="3.60" fill="#9a0a4c"/>
<text x="316.80" y="215.26">3xTg-C/EBPβ OE+HSF1</text>
<line x1="219.30" y1="237.40" x2="219.30" y2="323.40" stroke="#000" stroke-width="1.2"/>
<line x1="217.30" y1="322.90" x2="219.30" y2="322.90" stroke="#000" stroke-width="0.9"/>
<text x="214.80" y="325.06" text-anchor="end">0</text>
<line x1="217.30" y1="305.90" x2="219.30" y2="305.90" stroke="#000" stroke-width="0.9"/>
<text x="214.80" y="308.06" text-anchor="end">100</text>
<line x1="217.30" y1="288.90" x2="219.30" y2="288.90" stroke="#000" stroke-width="0.9"/>
<text x="214.80" y="291.06" text-anchor="end">200</text>
<line x1="217.30" y1="271.90" x2="219.30" y2="271.90" stroke="#000" stroke-width="0.9"/>
<text x="214.80" y="274.06" text-anchor="end">300</text>
<line x1="217.30" y1="254.90" x2="219.30" y2="254.90" stroke="#000" stroke-width="0.9"/>
<text x="214.80" y="257.06" text-anchor="end">400</text>
<line x1="217.30" y1="237.90" x2="219.30" y2="237.90" stroke="#000" stroke-width="0.9"/>
<text x="214.80" y="240.06" text-anchor="end">500</text>
<rect x="222.10" y="306.41" width="5.20" height="16.49" fill="#000000"/>
<line x1="224.70" y1="306.41" x2="224.70" y2="303.01" stroke="#000" stroke-width="1.1"/>
<line x1="223.50" y1="303.01" x2="225.90" y2="303.01" stroke="#000" stroke-width="1.1"/>
<rect x="227.30" y="286.35" width="5.20" height="36.55" fill="#fc0a0a"/>
<line x1="229.90" y1="286.35" x2="229.90" y2="282.61" stroke="#000" stroke-width="1.1"/>
<line x1="228.70" y1="282.61" x2="231.10" y2="282.61" stroke="#000" stroke-width="1.1"/>
<rect x="232.50" y="304.20" width="5.20" height="18.70" fill="#fdbf86"/>
<line x1="235.10" y1="304.20" x2="235.10" y2="301.65" stroke="#000" stroke-width="1.1"/>
<line x1="233.90" y1="301.65" x2="236.30" y2="301.65" stroke="#000" stroke-width="1.1"/>
<rect x="237.70" y="272.75" width="5.20" height="50.15" fill="#0a0af0"/>
<line x1="240.30" y1="272.75" x2="240.30" y2="266.80" stroke="#000" stroke-width="1.1"/>
<line x1="239.10" y1="266.80" x2="241.50" y2="266.80" stroke="#000" stroke-width="1.1"/>
<rect x="242.90" y="301.65" width="5.20" height="21.25" fill="#fb6a12"/>
<line x1="245.50" y1="301.65" x2="245.50" y2="299.10" stroke="#000" stroke-width="1.1"/>
<line x1="244.30" y1="299.10" x2="246.70" y2="299.10" stroke="#000" stroke-width="1.1"/>
<rect x="248.10" y="307.26" width="5.20" height="15.64" fill="#bd5fdc"/>
<line x1="250.70" y1="307.26" x2="250.70" y2="303.86" stroke="#000" stroke-width="1.1"/>
<line x1="249.50" y1="303.86" x2="251.90" y2="303.86" stroke="#000" stroke-width="1.1"/>
<rect x="253.30" y="295.36" width="5.20" height="27.54" fill="#16808f"/>
<line x1="255.90" y1="295.36" x2="255.90" y2="286.01" stroke="#000" stroke-width="1.1"/>
<line x1="254.70" y1="286.01" x2="257.10" y2="286.01" stroke="#000" stroke-width="1.1"/>
<rect x="258.50" y="286.35" width="5.20" height="36.55" fill="#9a0a4c"/>
<line x1="261.10" y1="286.35" x2="261.10" y2="281.25" stroke="#000" stroke-width="1.1"/>
<line x1="259.90" y1="281.25" x2="262.30" y2="281.25" stroke="#000" stroke-width="1.1"/>
<rect x="269.20" y="306.41" width="5.20" height="16.49" fill="#000000"/>
<line x1="271.80" y1="306.41" x2="271.80" y2="303.01" stroke="#000" stroke-width="1.1"/>
<line x1="270.60" y1="303.01" x2="273.00" y2="303.01" stroke="#000" stroke-width="1.1"/>
<rect x="274.40" y="278.36" width="5.20" height="44.54" fill="#fc0a0a"/>
<line x1="277.00" y1="278.36" x2="277.00" y2="275.30" stroke="#000" stroke-width="1.1"/>
<line x1="275.80" y1="275.30" x2="278.20" y2="275.30" stroke="#000" stroke-width="1.1"/>
<rect x="279.60" y="300.80" width="5.20" height="22.10" fill="#fdbf86"/>
<line x1="282.20" y1="300.80" x2="282.20" y2="295.70" stroke="#000" stroke-width="1.1"/>
<line x1="281.00" y1="295.70" x2="283.40" y2="295.70" stroke="#000" stroke-width="1.1"/>
<rect x="284.80" y="268.50" width="5.20" height="54.40" fill="#0a0af0"/>
<line x1="287.40" y1="268.50" x2="287.40" y2="258.30" stroke="#000" stroke-width="1.1"/>
<line x1="286.20" y1="258.30" x2="288.60" y2="258.30" stroke="#000" stroke-width="1.1"/>
<rect x="290.00" y="297.74" width="5.20" height="25.16" fill="#fb6a12"/>
<line x1="292.60" y1="297.74" x2="292.60" y2="292.30" stroke="#000" stroke-width="1.1"/>
<line x1="291.40" y1="292.30" x2="293.80" y2="292.30" stroke="#000" stroke-width="1.1"/>
<rect x="295.20" y="309.64" width="5.20" height="13.26" fill="#bd5fdc"/>
<line x1="297.80" y1="309.64" x2="297.80" y2="307.94" stroke="#000" stroke-width="1.1"/>
<line x1="296.60" y1="307.94" x2="299.00" y2="307.94" stroke="#000" stroke-width="1.1"/>
<rect x="300.40" y="288.90" width="5.20" height="34.00" fill="#16808f"/>
<line x1="303.00" y1="288.90" x2="303.00" y2="284.65" stroke="#000" stroke-width="1.1"/>
<line x1="301.80" y1="284.65" x2="304.20" y2="284.65" stroke="#000" stroke-width="1.1"/>
<rect x="305.60" y="284.14" width="5.20" height="38.76" fill="#9a0a4c"/>
<line x1="308.20" y1="284.14" x2="308.20" y2="279.04" stroke="#000" stroke-width="1.1"/>
<line x1="307.00" y1="279.04" x2="309.40" y2="279.04" stroke="#000" stroke-width="1.1"/>
<rect x="316.40" y="306.41" width="5.20" height="16.49" fill="#000000"/>
<line x1="319.00" y1="306.41" x2="319.00" y2="303.35" stroke="#000" stroke-width="1.1"/>
<line x1="317.80" y1="303.35" x2="320.20" y2="303.35" stroke="#000" stroke-width="1.1"/>
<rect x="321.60" y="292.64" width="5.20" height="30.26" fill="#fc0a0a"/>
<line x1="324.20" y1="292.64" x2="324.20" y2="288.39" stroke="#000" stroke-width="1.1"/>
<line x1="323.00" y1="288.39" x2="325.40" y2="288.39" stroke="#000" stroke-width="1.1"/>
<rect x="326.80" y="305.05" width="5.20" height="17.85" fill="#fdbf86"/>
<line x1="329.40" y1="305.05" x2="329.40" y2="299.61" stroke="#000" stroke-width="1.1"/>
<line x1="328.20" y1="299.61" x2="330.60" y2="299.61" stroke="#000" stroke-width="1.1"/>
<rect x="332.00" y="285.16" width="5.20" height="37.74" fill="#0a0af0"/>
<line x1="334.60" y1="285.16" x2="334.60" y2="278.36" stroke="#000" stroke-width="1.1"/>
<line x1="333.40" y1="278.36" x2="335.80" y2="278.36" stroke="#000" stroke-width="1.1"/>
<rect x="337.20" y="302.50" width="5.20" height="20.40" fill="#fb6a12"/>
<line x1="339.80" y1="302.50" x2="339.80" y2="297.40" stroke="#000" stroke-width="1.1"/>
<line x1="338.60" y1="297.40" x2="341.00" y2="297.40" stroke="#000" stroke-width="1.1"/>
<rect x="342.40" y="308.96" width="5.20" height="13.94" fill="#bd5fdc"/>
<line x1="345.00" y1="308.96" x2="345.00" y2="307.26" stroke="#000" stroke-width="1.1"/>
<line x1="343.80" y1="307.26" x2="346.20" y2="307.26" stroke="#000" stroke-width="1.1"/>
<rect x="347.60" y="290.94" width="5.20" height="31.96" fill="#16808f"/>
<line x1="350.20" y1="290.94" x2="350.20" y2="284.99" stroke="#000" stroke-width="1.1"/>
<line x1="349.00" y1="284.99" x2="351.40" y2="284.99" stroke="#000" stroke-width="1.1"/>
<rect x="352.80" y="286.86" width="5.20" height="36.04" fill="#9a0a4c"/>
<line x1="355.40" y1="286.86" x2="355.40" y2="280.40" stroke="#000" stroke-width="1.1"/>
<line x1="354.20" y1="280.40" x2="356.60" y2="280.40" stroke="#000" stroke-width="1.1"/>
<line x1="218.80" y1="322.90" x2="361.40" y2="322.90" stroke="#000" stroke-width="1.1"/>
<text x="242.90" y="332.26" text-anchor="middle">TNFα</text>
<text x="291.50" y="332.26" text-anchor="middle">IL-1β</text>
<text x="336.80" y="332.26" text-anchor="middle">IL-6</text>
<text transform="translate(196.60,280.80) rotate(-90)" y="2.16" text-anchor="middle">Fold (% of WT-Ct)</text>
<polyline points="221.80,279.80 221.80,273.80 229.70,273.80 229.70,278.30" fill="none" stroke="#000" stroke-width="1.0"/>
<text x="226.30" y="271.19" text-anchor="middle" font-size="7.2">*</text>
<polyline points="232.50,264.70 232.50,258.60 240.70,258.60 240.70,264.70" fill="none" stroke="#000" stroke-width="1.0"/>
<text x="237.30" y="255.99" text-anchor="middle" font-size="7.2">*</text>
<polyline points="232.50,251.50 232.50,244.80 261.50,244.80 261.50,251.50" fill="none" stroke="#000" stroke-width="1.0"/>
<text x="246.70" y="242.79" text-anchor="middle" font-size="7.2">*</text>
<polyline points="269.70,269.40 269.70,262.40 277.90,262.40 277.90,268.00" fill="none" stroke="#000" stroke-width="1.0"/>
<text x="274.10" y="259.79" text-anchor="middle" font-size="7.2">*</text>
<polyline points="281.00,255.20 281.00,249.20 289.00,249.20 289.00,255.20" fill="none" stroke="#000" stroke-width="1.0"/>
<text x="285.40" y="246.89" text-anchor="middle" font-size="7.2">*</text>
<polyline points="279.70,242.40 279.70,236.70 310.00,236.70 310.00,242.40" fill="none" stroke="#000" stroke-width="1.0"/>
<text x="295.20" y="234.29" text-anchor="middle" font-size="7.2">*</text>
<polyline points="316.00,283.20 316.00,277.60 324.50,277.60 324.50,282.00" fill="none" stroke="#000" stroke-width="1.0"/>
<text x="320.80" y="275.49" text-anchor="middle" font-size="7.2">*</text>
<polyline points="326.40,275.70 326.40,269.80 334.40,269.80 334.40,275.70" fill="none" stroke="#000" stroke-width="1.0"/>
<text x="331.20" y="267.39" text-anchor="middle" font-size="7.2">*</text>
<polyline points="326.40,260.00 326.40,253.70 357.10,253.70 357.10,260.00" fill="none" stroke="#000" stroke-width="1.0"/>
<text x="342.10" y="251.69" text-anchor="middle" font-size="7.2">*</text>
<text x="473.4" y="6.6" font-size="11" font-weight="bold">e</text>
<rect x="498.0" y="0" width="78.1" height="58.6" fill="#020902"/>
<rect x="498.0" y="0" width="78.1" height="0.8" fill="#444"/>
<rect x="498.0" y="61.7" width="78.1" height="58.9" fill="#020802"/>
<rect x="498.0" y="124.8" width="78.1" height="58.5" fill="url(#g3)"/>
<ellipse cx="505" cy="66" rx="5.5" ry="3.5" fill="#0c3a0c" opacity="0.5" filter="url(#b9)"/>
<circle cx="505.4" cy="65.8" r="0.8" fill="#2fb02f" filter="url(#b4)"/>
<circle cx="508.1" cy="62.8" r="0.6" fill="#2a8a2a" filter="url(#b4)"/>
<circle cx="545" cy="89.2" r="1.2" fill="#3ae03a" filter="url(#b4)"/>
<circle cx="541.3" cy="108.4" r="1.5" fill="#3ae83a" filter="url(#b4)"/>
<circle cx="526.5" cy="110.8" r="1.1" fill="#38d838" filter="url(#b4)"/>
<circle cx="524.6" cy="99.7" r="0.9" fill="#30b030" filter="url(#b4)"/>
<circle cx="550.3" cy="90.3" r="0.75" fill="#2a9a2a" filter="url(#b4)"/>
<circle cx="556.8" cy="91.3" r="0.75" fill="#237023" filter="url(#b4)"/>
<circle cx="537.6" cy="83" r="0.6" fill="#237523" filter="url(#b4)"/>
<circle cx="533.5" cy="89.2" r="0.55" fill="#237023" filter="url(#b4)"/>
<circle cx="528.3" cy="92.3" r="0.5" fill="#1e621e" filter="url(#b4)"/>
<circle cx="529.7" cy="77.4" r="0.55" fill="#1e641e" filter="url(#b4)"/>
<circle cx="570.5" cy="71.1" r="0.55" fill="#1e641e" filter="url(#b4)"/>
<circle cx="567.3" cy="114.3" r="0.7" fill="#3a6a3a" filter="url(#b4)"/>
<circle cx="550.6" cy="111.5" r="0.6" fill="#2a602a" filter="url(#b4)"/>
<circle cx="570.8" cy="107.3" r="0.5" fill="#2a5a2a" filter="url(#b4)"/>
<circle cx="504.7" cy="93.4" r="0.5" fill="#1e5e1e" filter="url(#b4)"/>
<circle cx="533.9" cy="95.5" r="0.5" fill="#1e5e1e" filter="url(#b4)"/>
<circle cx="526.2" cy="106" r="0.5" fill="#1e5e1e" filter="url(#b4)"/>
<circle cx="513.7" cy="85.7" r="0.5" fill="#1a4a1a" filter="url(#b4)"/>
<circle cx="551.3" cy="75.3" r="0.5" fill="#1a4a1a" filter="url(#b4)"/>
<circle cx="530.2" cy="146.6" r="0.5" fill="#4a7a4a" filter="url(#b4)"/>
<circle cx="552.2" cy="150.4" r="0.55" fill="#4a7a4a" filter="url(#b4)"/>
<circle cx="553.9" cy="164" r="0.55" fill="#4a7a4a" filter="url(#b4)"/>
<circle cx="562.3" cy="178.7" r="0.45" fill="#4a7a4a" filter="url(#b4)"/>
<circle cx="512.4" cy="155.2" r="0.45" fill="#4a7a4a" filter="url(#b4)"/>
<circle cx="541" cy="140" r="0.4" fill="#4a7a4a" filter="url(#b4)"/>
<circle cx="566" cy="138" r="0.4" fill="#4a7a4a" filter="url(#b4)"/>
<circle cx="523" cy="158" r="0.4" fill="#4a7a4a" filter="url(#b4)"/>
<rect x="560.20" y="173.10" width="14.10" height="2.00" fill="#ffffff"/>
<text transform="translate(491.90,33.50) rotate(-90)" y="2.16" text-anchor="middle">3xTg-Ct</text>
<text transform="translate(491.40,92.70) rotate(-90)" y="2.16" text-anchor="middle">3xTg-C/EBPβ</text>
<text transform="translate(486.60,156.70) rotate(-90)" y="2.16" text-anchor="middle">3xTg-C/EBPβ+</text>
<text transform="translate(493.20,156.70) rotate(-90)" y="2.16" text-anchor="middle">AEO C189S</text>
<text x="502.20" y="193.16">Thioflavin S staining</text>
<text x="502.20" y="200.46">(hippocampus)</text>
<rect x="455.10" y="214.65" width="9.20" height="3.90" fill="#000000"/>
<text x="467.30" y="218.76">3xTg-Ct</text>
<rect x="455.10" y="224.35" width="9.20" height="3.90" fill="#fc0a0a"/>
<text x="467.30" y="228.46">3xTg-C/EBPβ</text>
<rect x="455.10" y="234.65" width="9.20" height="3.90" fill="#fba04c"/>
<text x="467.30" y="238.76">3xTg-C/EBPβ+AEP C189S</text>
<line x1="438.50" y1="252.20" x2="438.50" y2="324.00" stroke="#000" stroke-width="1.2"/>
<line x1="436.50" y1="323.50" x2="438.50" y2="323.50" stroke="#000" stroke-width="0.9"/>
<text x="436.00" y="325.66" text-anchor="end">0</text>
<line x1="436.50" y1="305.80" x2="438.50" y2="305.80" stroke="#000" stroke-width="0.9"/>
<text x="436.00" y="307.96" text-anchor="end">10</text>
<line x1="436.50" y1="288.10" x2="438.50" y2="288.10" stroke="#000" stroke-width="0.9"/>
<text x="436.00" y="290.26" text-anchor="end">20</text>
<line x1="436.50" y1="270.40" x2="438.50" y2="270.40" stroke="#000" stroke-width="0.9"/>
<text x="436.00" y="272.56" text-anchor="end">30</text>
<line x1="436.50" y1="252.70" x2="438.50" y2="252.70" stroke="#000" stroke-width="0.9"/>
<text x="436.00" y="254.86" text-anchor="end">40</text>
<rect x="445.00" y="321.38" width="11.87" height="2.12" fill="#000000"/>
<line x1="450.94" y1="321.38" x2="450.94" y2="320.31" stroke="#000" stroke-width="1.1"/>
<line x1="449.13" y1="320.31" x2="452.74" y2="320.31" stroke="#000" stroke-width="1.1"/>
<rect x="456.87" y="275.71" width="11.87" height="47.79" fill="#fc0a0a"/>
<line x1="462.81" y1="275.71" x2="462.81" y2="265.09" stroke="#000" stroke-width="1.1"/>
<line x1="461.00" y1="265.09" x2="464.61" y2="265.09" stroke="#000" stroke-width="1.1"/>
<rect x="468.74" y="302.26" width="11.87" height="21.24" fill="#fba04c"/>
<line x1="474.68" y1="302.26" x2="474.68" y2="300.49" stroke="#000" stroke-width="1.1"/>
<line x1="472.88" y1="300.49" x2="476.48" y2="300.49" stroke="#000" stroke-width="1.1"/>
<line x1="438.00" y1="323.50" x2="486.60" y2="323.50" stroke="#000" stroke-width="1.1"/>
<text transform="translate(412.70,288.00) rotate(-90)" y="2.16" text-anchor="middle">Average number of</text>
<text transform="translate(420.50,288.00) rotate(-90)" y="2.16" text-anchor="middle">plaques in hippocampus</text>
<polyline points="449.30,260.80 449.30,254.50 461.40,254.50 461.40,260.80" fill="none" stroke="#000" stroke-width="1.0"/>
<text x="455.30" y="252.39" text-anchor="middle" font-size="7.2">*</text>
<polyline points="463.00,260.80 463.00,254.50 475.10,254.50 475.10,260.80" fill="none" stroke="#000" stroke-width="1.0"/>
<text x="468.90" y="252.39" text-anchor="middle" font-size="7.2">*</text>
<line x1="533.00" y1="252.70" x2="533.00" y2="324.20" stroke="#000" stroke-width="1.2"/>
<line x1="531.00" y1="323.70" x2="533.00" y2="323.70" stroke="#000" stroke-width="0.9"/>
<text x="528.70" y="325.86" text-anchor="end">0</text>
<line x1="531.00" y1="288.45" x2="533.00" y2="288.45" stroke="#000" stroke-width="0.9"/>
<text x="528.70" y="290.61" text-anchor="end">0.5</text>
<line x1="531.00" y1="253.20" x2="533.00" y2="253.20" stroke="#000" stroke-width="0.9"/>
<text x="528.70" y="255.36" text-anchor="end">1.0</text>
<rect x="540.30" y="323.00" width="11.80" height="0.70" fill="#000000"/>
<line x1="546.20" y1="323.00" x2="546.20" y2="321.58" stroke="#000" stroke-width="1.1"/>
<line x1="544.40" y1="321.58" x2="548.00" y2="321.58" stroke="#000" stroke-width="1.1"/>
<rect x="552.10" y="272.24" width="11.80" height="51.46" fill="#fc0a0a"/>
<line x1="558.00" y1="272.24" x2="558.00" y2="263.07" stroke="#000" stroke-width="1.1"/>
<line x1="556.20" y1="263.07" x2="559.80" y2="263.07" stroke="#000" stroke-width="1.1"/>
<rect x="563.90" y="308.19" width="11.80" height="15.51" fill="#fba04c"/>
<line x1="569.80" y1="308.19" x2="569.80" y2="300.44" stroke="#000" stroke-width="1.1"/>
<line x1="568.00" y1="300.44" x2="571.60" y2="300.44" stroke="#000" stroke-width="1.1"/>
<line x1="532.50" y1="323.70" x2="582.00" y2="323.70" stroke="#000" stroke-width="1.1"/>
<text transform="translate(502.60,288.50) rotate(-90)" y="2.16" text-anchor="middle">Thioflavin S+ average</text>
<text transform="translate(511.3,288.5) rotate(-90)" y="2.16" text-anchor="middle">pixel intensity/mm<tspan font-size="4.2" dy="-2.2">2</tspan></text>
<polyline points="544.50,258.40 544.50,253.20 555.60,253.20 555.60,258.40" fill="none" stroke="#000" stroke-width="1.0"/>
<text x="550.00" y="251.39" text-anchor="middle" font-size="7.2">*</text>
<polyline points="557.70,258.40 557.70,253.20 569.00,253.20 569.00,258.40" fill="none" stroke="#000" stroke-width="1.0"/>
<text x="563.50" y="251.39" text-anchor="middle" font-size="7.2">*</text>
<text x="5" y="351.5" font-size="11" font-weight="bold">f</text>
<rect x="23.7" y="352.8" width="32.30" height="81.00" fill="#f5f5f5"/>
<circle cx="28.8" cy="420.7" r="2.0" fill="#c8c8c8" opacity="0.40" filter="url(#b8)"/>
<circle cx="39.7" cy="389.3" r="1.8" fill="#c8c8c8" opacity="0.62" filter="url(#b8)"/>
<circle cx="27.5" cy="356.0" r="2.1" fill="#c8c8c8" opacity="0.47" filter="url(#b8)"/>
<circle cx="47.8" cy="354.0" r="1.5" fill="#c8c8c8" opacity="0.59" filter="url(#b8)"/>
<circle cx="31.6" cy="428.5" r="2.2" fill="#c8c8c8" opacity="0.31" filter="url(#b8)"/>
<circle cx="25.5" cy="396.6" r="2.3" fill="#c8c8c8" opacity="0.45" filter="url(#b8)"/>
<circle cx="31.3" cy="387.1" r="0.8" fill="#c8c8c8" opacity="0.39" filter="url(#b8)"/>
<circle cx="38.0" cy="393.0" r="1.2" fill="#c8c8c8" opacity="0.39" filter="url(#b8)"/>
<circle cx="31.3" cy="390.1" r="1.3" fill="#c8c8c8" opacity="0.31" filter="url(#b8)"/>
<circle cx="50.1" cy="397.8" r="1.8" fill="#c8c8c8" opacity="0.37" filter="url(#b8)"/>
<circle cx="54.8" cy="421.7" r="1.0" fill="#c8c8c8" opacity="0.43" filter="url(#b8)"/>
<circle cx="46.6" cy="410.0" r="2.3" fill="#c8c8c8" opacity="0.47" filter="url(#b8)"/>
<circle cx="49.9" cy="406.8" r="1.3" fill="#c8c8c8" opacity="0.54" filter="url(#b8)"/>
<circle cx="51.4" cy="420.6" r="1.6" fill="#c8c8c8" opacity="0.54" filter="url(#b8)"/>
<circle cx="25.7" cy="373.0" r="2.1" fill="#c8c8c8" opacity="0.47" filter="url(#b8)"/>
<circle cx="29.9" cy="397.2" r="1.9" fill="#c8c8c8" opacity="0.57" filter="url(#b8)"/>
<circle cx="36.1" cy="388.5" r="1.6" fill="#c8c8c8" opacity="0.61" filter="url(#b8)"/>
<circle cx="40.5" cy="384.9" r="1.6" fill="#c8c8c8" opacity="0.31" filter="url(#b8)"/>
<circle cx="26.0" cy="409.4" r="2.4" fill="#c8c8c8" opacity="0.54" filter="url(#b8)"/>
<circle cx="36.6" cy="367.3" r="1.6" fill="#c8c8c8" opacity="0.69" filter="url(#b8)"/>
<circle cx="48.0" cy="396.4" r="2.2" fill="#c8c8c8" opacity="0.39" filter="url(#b8)"/>
<circle cx="40.3" cy="429.0" r="1.7" fill="#c8c8c8" opacity="0.48" filter="url(#b8)"/>
<circle cx="32.9" cy="397.1" r="2.3" fill="#c8c8c8" opacity="0.30" filter="url(#b8)"/>
<circle cx="48.4" cy="418.6" r="2.2" fill="#c8c8c8" opacity="0.60" filter="url(#b8)"/>
<circle cx="49.2" cy="394.8" r="1.7" fill="#c8c8c8" opacity="0.47" filter="url(#b8)"/>
<circle cx="26.4" cy="422.5" r="1.7" fill="#c8c8c8" opacity="0.38" filter="url(#b8)"/>
<circle cx="40.0" cy="392.1" r="1.4" fill="#c8c8c8" opacity="0.44" filter="url(#b8)"/>
<circle cx="41.0" cy="403.1" r="1.8" fill="#c8c8c8" opacity="0.48" filter="url(#b8)"/>
<circle cx="25.5" cy="371.9" r="1.1" fill="#c8c8c8" opacity="0.53" filter="url(#b8)"/>
<circle cx="50.8" cy="416.9" r="2.1" fill="#c8c8c8" opacity="0.63" filter="url(#b8)"/>
<circle cx="32.4" cy="420.3" r="1.9" fill="#c8c8c8" opacity="0.33" filter="url(#b8)"/>
<circle cx="25.2" cy="355.0" r="2.0" fill="#c8c8c8" opacity="0.40" filter="url(#b8)"/>
<circle cx="28.0" cy="403.2" r="1.4" fill="#c8c8c8" opacity="0.33" filter="url(#b8)"/>
<circle cx="29.5" cy="395.5" r="1.1" fill="#c8c8c8" opacity="0.41" filter="url(#b8)"/>
<circle cx="46.3" cy="389.7" r="1.3" fill="#c8c8c8" opacity="0.49" filter="url(#b8)"/>
<circle cx="25.4" cy="384.3" r="1.5" fill="#c8c8c8" opacity="0.38" filter="url(#b8)"/>
<circle cx="28.0" cy="424.9" r="1.6" fill="#c8c8c8" opacity="0.38" filter="url(#b8)"/>
<circle cx="43.1" cy="418.3" r="0.8" fill="#c8c8c8" opacity="0.31" filter="url(#b8)"/>
<circle cx="29.1" cy="410.6" r="1.1" fill="#c8c8c8" opacity="0.58" filter="url(#b8)"/>
<circle cx="45.2" cy="396.8" r="1.2" fill="#c8c8c8" opacity="0.69" filter="url(#b8)"/>
<path d="M35.70,352.80 C35.76,353.54 35.93,355.77 36.04,357.25 C36.15,358.73 36.14,360.22 36.37,361.70 C36.60,363.18 37.19,364.67 37.42,366.15 C37.66,367.63 37.59,369.23 37.79,370.60 C38.00,371.97 38.44,373.12 38.65,374.38 C38.86,375.63 38.84,376.89 39.07,378.15 C39.31,379.41 39.87,380.67 40.06,381.93 C40.24,383.18 40.04,384.38 40.16,385.70 C40.27,387.02 40.48,388.45 40.75,389.82 C41.02,391.20 41.56,392.57 41.77,393.95 C41.98,395.32 42.02,396.70 42.03,398.07 C42.03,399.45 41.72,400.94 41.81,402.20 C41.89,403.46 42.47,404.50 42.53,405.65 C42.59,406.80 42.09,407.95 42.16,409.10 C42.23,410.25 42.83,411.40 42.96,412.55 C43.09,413.70 43.15,414.74 42.94,416.00 C42.74,417.26 42.11,418.75 41.74,420.12 C41.37,421.50 41.06,422.88 40.70,424.25 C40.34,425.62 39.83,427.00 39.58,428.38 C39.33,429.75 39.26,431.81 39.20,432.50" stroke="#0a0a0a" stroke-width="3.2" fill="none" stroke-linejoin="round" stroke-linecap="butt"/>
<line x1="41.5" y1="421.2" x2="39.4" y2="420.7" stroke="#151515" stroke-width="1.1"/>
<circle cx="39.4" cy="420.7" r="1.5" fill="#151515"/>
<line x1="41.0" y1="390.8" x2="39.3" y2="390.5" stroke="#151515" stroke-width="1.1"/>
<circle cx="39.3" cy="390.5" r="1.0" fill="#151515"/>
<line x1="42.4" y1="406.8" x2="44.4" y2="406.8" stroke="#151515" stroke-width="1.1"/>
<circle cx="44.4" cy="406.8" r="1.6" fill="#151515"/>
<line x1="40.1" y1="385.3" x2="41.4" y2="385.5" stroke="#151515" stroke-width="1.1"/>
<circle cx="41.4" cy="385.5" r="1.1" fill="#151515"/>
<line x1="39.0" y1="377.4" x2="37.5" y2="377.1" stroke="#151515" stroke-width="1.1"/>
<circle cx="37.5" cy="377.1" r="1.6" fill="#151515"/>
<line x1="43.0" y1="414.0" x2="44.8" y2="413.6" stroke="#151515" stroke-width="1.1"/>
<circle cx="44.8" cy="413.6" r="0.9" fill="#151515"/>
<line x1="40.1" y1="384.5" x2="42.6" y2="385.2" stroke="#151515" stroke-width="1.1"/>
<circle cx="42.6" cy="385.2" r="1.2" fill="#151515"/>
<line x1="43.0" y1="413.0" x2="41.7" y2="412.1" stroke="#151515" stroke-width="1.1"/>
<circle cx="41.7" cy="412.1" r="0.9" fill="#151515"/>
<line x1="37.6" y1="368.8" x2="36.1" y2="368.5" stroke="#151515" stroke-width="1.1"/>
<circle cx="36.1" cy="368.5" r="1.2" fill="#151515"/>
<line x1="38.8" y1="375.5" x2="40.5" y2="375.1" stroke="#151515" stroke-width="1.1"/>
<circle cx="40.5" cy="375.1" r="1.5" fill="#151515"/>
<line x1="41.8" y1="402.2" x2="43.2" y2="402.3" stroke="#151515" stroke-width="1.1"/>
<circle cx="43.2" cy="402.3" r="0.9" fill="#151515"/>
<line x1="36.1" y1="357.9" x2="34.4" y2="358.9" stroke="#151515" stroke-width="1.1"/>
<circle cx="34.4" cy="358.9" r="0.9" fill="#151515"/>
<line x1="37.2" y1="365.3" x2="35.2" y2="365.8" stroke="#151515" stroke-width="1.1"/>
<circle cx="35.2" cy="365.8" r="1.1" fill="#151515"/>
<line x1="41.9" y1="399.6" x2="40.0" y2="400.5" stroke="#151515" stroke-width="1.1"/>
<circle cx="40.0" cy="400.5" r="1.1" fill="#151515"/>
<line x1="39.1" y1="378.4" x2="37.3" y2="378.0" stroke="#151515" stroke-width="1.1"/>
<circle cx="37.3" cy="378.0" r="1.4" fill="#151515"/>
<line x1="42.6" y1="417.2" x2="40.5" y2="416.2" stroke="#151515" stroke-width="1.1"/>
<circle cx="40.5" cy="416.2" r="1.1" fill="#151515"/>
<line x1="42.6" y1="417.1" x2="41.2" y2="417.6" stroke="#151515" stroke-width="1.1"/>
<circle cx="41.2" cy="417.6" r="1.3" fill="#151515"/>
<line x1="37.6" y1="368.4" x2="39.0" y2="367.9" stroke="#151515" stroke-width="1.1"/>
<circle cx="39.0" cy="367.9" r="1.4" fill="#151515"/>
<line x1="36.8" y1="363.4" x2="39.1" y2="363.5" stroke="#151515" stroke-width="1.1"/>
<circle cx="39.1" cy="363.5" r="1.5" fill="#151515"/>
<line x1="42.0" y1="397.9" x2="43.7" y2="397.3" stroke="#151515" stroke-width="1.1"/>
<circle cx="43.7" cy="397.3" r="1.1" fill="#151515"/>
<line x1="36.0" y1="356.9" x2="38.2" y2="356.5" stroke="#151515" stroke-width="1.1"/>
<circle cx="38.2" cy="356.5" r="1.1" fill="#151515"/>
<line x1="40.2" y1="385.9" x2="37.7" y2="386.9" stroke="#151515" stroke-width="1.1"/>
<circle cx="37.7" cy="386.9" r="1.6" fill="#151515"/>
<line x1="36.9" y1="364.1" x2="34.6" y2="364.7" stroke="#151515" stroke-width="1.1"/>
<circle cx="34.6" cy="364.7" r="1.5" fill="#151515"/>
<line x1="41.7" y1="420.4" x2="43.8" y2="419.9" stroke="#151515" stroke-width="1.1"/>
<circle cx="43.8" cy="419.9" r="1.2" fill="#151515"/>
<line x1="39.4" y1="379.3" x2="37.7" y2="379.9" stroke="#151515" stroke-width="1.1"/>
<circle cx="37.7" cy="379.9" r="0.9" fill="#151515"/>
<line x1="42.9" y1="412.1" x2="40.7" y2="412.4" stroke="#151515" stroke-width="1.1"/>
<circle cx="40.7" cy="412.4" r="1.6" fill="#151515"/>
<path d="M24.5,360 C26,357 29,354.5 33,353 L37,354 C35,357 32,360 29,362 C27,363.5 25.5,364 24.5,364 Z" fill="#777" opacity="0.55" filter="url(#b8)"/><circle cx="27" cy="358.5" r="1.5" fill="#1a1a1a"/><circle cx="30" cy="356" r="1.6" fill="#111"/><circle cx="33.5" cy="354.5" r="1.4" fill="#111"/><circle cx="25.5" cy="361.5" r="1.2" fill="#222"/><circle cx="29" cy="359.5" r="1.0" fill="#333"/><circle cx="31.5" cy="358" r="0.9" fill="#333"/>
<rect x="63.0" y="352.8" width="30.80" height="81.00" fill="#f5f5f5"/>
<circle cx="91.5" cy="428.7" r="0.9" fill="#c8c8c8" opacity="0.33" filter="url(#b8)"/>
<circle cx="88.1" cy="411.9" r="1.9" fill="#c8c8c8" opacity="0.42" filter="url(#b8)"/>
<circle cx="81.5" cy="401.7" r="1.7" fill="#c8c8c8" opacity="0.36" filter="url(#b8)"/>
<circle cx="76.4" cy="384.9" r="2.0" fill="#c8c8c8" opacity="0.70" filter="url(#b8)"/>
<circle cx="91.3" cy="396.8" r="1.5" fill="#c8c8c8" opacity="0.41" filter="url(#b8)"/>
<circle cx="65.0" cy="356.0" r="1.5" fill="#c8c8c8" opacity="0.43" filter="url(#b8)"/>
<circle cx="74.9" cy="424.3" r="1.6" fill="#c8c8c8" opacity="0.52" filter="url(#b8)"/>
<circle cx="70.8" cy="355.7" r="1.3" fill="#c8c8c8" opacity="0.35" filter="url(#b8)"/>
<circle cx="78.7" cy="432.7" r="1.9" fill="#c8c8c8" opacity="0.37" filter="url(#b8)"/>
<circle cx="89.7" cy="416.7" r="2.0" fill="#c8c8c8" opacity="0.66" filter="url(#b8)"/>
<circle cx="86.0" cy="416.2" r="1.4" fill="#c8c8c8" opacity="0.69" filter="url(#b8)"/>
<circle cx="91.7" cy="366.5" r="2.0" fill="#c8c8c8" opacity="0.59" filter="url(#b8)"/>
<circle cx="77.3" cy="395.7" r="1.6" fill="#c8c8c8" opacity="0.67" filter="url(#b8)"/>
<circle cx="78.4" cy="419.5" r="1.4" fill="#c8c8c8" opacity="0.65" filter="url(#b8)"/>
<circle cx="89.9" cy="390.2" r="1.7" fill="#c8c8c8" opacity="0.67" filter="url(#b8)"/>
<circle cx="84.8" cy="392.2" r="1.2" fill="#c8c8c8" opacity="0.43" filter="url(#b8)"/>
<circle cx="84.1" cy="366.9" r="2.3" fill="#c8c8c8" opacity="0.41" filter="url(#b8)"/>
<circle cx="90.2" cy="378.3" r="2.3" fill="#c8c8c8" opacity="0.58" filter="url(#b8)"/>
<circle cx="78.5" cy="394.7" r="1.8" fill="#c8c8c8" opacity="0.54" filter="url(#b8)"/>
<circle cx="73.0" cy="370.2" r="1.6" fill="#c8c8c8" opacity="0.67" filter="url(#b8)"/>
<circle cx="82.0" cy="359.8" r="2.1" fill="#c8c8c8" opacity="0.59" filter="url(#b8)"/>
<circle cx="90.1" cy="368.9" r="2.0" fill="#c8c8c8" opacity="0.32" filter="url(#b8)"/>
<circle cx="82.8" cy="375.4" r="1.2" fill="#c8c8c8" opacity="0.65" filter="url(#b8)"/>
<circle cx="67.1" cy="395.1" r="2.2" fill="#c8c8c8" opacity="0.40" filter="url(#b8)"/>
<circle cx="70.1" cy="423.4" r="1.5" fill="#c8c8c8" opacity="0.59" filter="url(#b8)"/>
<circle cx="64.9" cy="382.4" r="1.1" fill="#c8c8c8" opacity="0.57" filter="url(#b8)"/>
<circle cx="66.4" cy="429.2" r="0.8" fill="#c8c8c8" opacity="0.59" filter="url(#b8)"/>
<circle cx="64.6" cy="374.0" r="2.1" fill="#c8c8c8" opacity="0.36" filter="url(#b8)"/>
<circle cx="69.3" cy="408.4" r="1.4" fill="#c8c8c8" opacity="0.32" filter="url(#b8)"/>
<circle cx="92.5" cy="365.8" r="0.9" fill="#c8c8c8" opacity="0.44" filter="url(#b8)"/>
<circle cx="81.7" cy="412.5" r="1.0" fill="#c8c8c8" opacity="0.43" filter="url(#b8)"/>
<circle cx="64.9" cy="389.2" r="2.0" fill="#c8c8c8" opacity="0.60" filter="url(#b8)"/>
<circle cx="90.0" cy="413.5" r="2.2" fill="#c8c8c8" opacity="0.58" filter="url(#b8)"/>
<circle cx="77.6" cy="371.6" r="1.9" fill="#c8c8c8" opacity="0.43" filter="url(#b8)"/>
<circle cx="66.9" cy="389.2" r="2.2" fill="#c8c8c8" opacity="0.35" filter="url(#b8)"/>
<circle cx="80.8" cy="384.8" r="1.6" fill="#c8c8c8" opacity="0.36" filter="url(#b8)"/>
<circle cx="91.6" cy="374.3" r="1.8" fill="#c8c8c8" opacity="0.47" filter="url(#b8)"/>
<circle cx="64.5" cy="397.9" r="1.0" fill="#c8c8c8" opacity="0.32" filter="url(#b8)"/>
<circle cx="65.0" cy="366.5" r="1.0" fill="#c8c8c8" opacity="0.55" filter="url(#b8)"/>
<circle cx="78.6" cy="431.5" r="2.3" fill="#c8c8c8" opacity="0.70" filter="url(#b8)"/>
<path d="M76.73,352.80 C76.91,353.25 77.52,354.62 77.82,355.52 C78.11,356.43 78.18,357.34 78.50,358.25 C78.82,359.16 79.36,360.07 79.72,360.98 C80.07,361.88 80.56,362.67 80.62,363.70 C80.69,364.73 80.32,366.00 80.10,367.15 C79.88,368.30 79.63,369.45 79.31,370.60 C78.99,371.75 78.44,372.90 78.16,374.05 C77.88,375.20 77.72,376.07 77.62,377.50 C77.52,378.93 77.68,380.93 77.55,382.65 C77.42,384.37 76.99,386.08 76.85,387.80 C76.71,389.52 76.70,391.23 76.71,392.95 C76.72,394.67 76.90,396.38 76.91,398.10 C76.92,399.82 76.68,401.53 76.79,403.25 C76.90,404.97 77.49,406.68 77.57,408.40 C77.65,410.12 77.31,411.83 77.27,413.55 C77.22,415.27 77.16,417.27 77.30,418.70 C77.44,420.13 77.83,421.00 78.08,422.15 C78.34,423.30 78.59,424.45 78.83,425.60 C79.07,426.75 79.24,427.90 79.52,429.05 C79.80,430.20 80.34,431.93 80.50,432.50" stroke="#0a0a0a" stroke-width="3.2" fill="none" stroke-linejoin="round" stroke-linecap="butt"/>
<line x1="76.8" y1="389.9" x2="78.6" y2="389.9" stroke="#151515" stroke-width="1.1"/>
<circle cx="78.6" cy="389.9" r="1.1" fill="#151515"/>
<line x1="77.2" y1="406.1" x2="75.0" y2="405.9" stroke="#151515" stroke-width="1.1"/>
<circle cx="75.0" cy="405.9" r="1.2" fill="#151515"/>
<line x1="76.8" y1="395.8" x2="74.4" y2="396.7" stroke="#151515" stroke-width="1.1"/>
<circle cx="74.4" cy="396.7" r="1.3" fill="#151515"/>
<line x1="78.9" y1="425.9" x2="80.6" y2="425.9" stroke="#151515" stroke-width="1.1"/>
<circle cx="80.6" cy="425.9" r="1.5" fill="#151515"/>
<line x1="76.9" y1="398.7" x2="79.1" y2="399.6" stroke="#151515" stroke-width="1.1"/>
<circle cx="79.1" cy="399.6" r="1.0" fill="#151515"/>
<line x1="78.2" y1="422.8" x2="79.6" y2="422.4" stroke="#151515" stroke-width="1.1"/>
<circle cx="79.6" cy="422.4" r="1.5" fill="#151515"/>
<line x1="77.0" y1="404.9" x2="74.7" y2="404.0" stroke="#151515" stroke-width="1.1"/>
<circle cx="74.7" cy="404.0" r="1.3" fill="#151515"/>
<line x1="77.3" y1="384.2" x2="76.1" y2="383.2" stroke="#151515" stroke-width="1.1"/>
<circle cx="76.1" cy="383.2" r="1.0" fill="#151515"/>
<line x1="77.5" y1="409.9" x2="75.2" y2="409.3" stroke="#151515" stroke-width="1.1"/>
<circle cx="75.2" cy="409.3" r="1.3" fill="#151515"/>
<line x1="77.7" y1="377.2" x2="79.1" y2="376.9" stroke="#151515" stroke-width="1.1"/>
<circle cx="79.1" cy="376.9" r="1.5" fill="#151515"/>
<line x1="79.9" y1="368.1" x2="78.6" y2="368.8" stroke="#151515" stroke-width="1.1"/>
<circle cx="78.6" cy="368.8" r="1.3" fill="#151515"/>
<line x1="79.4" y1="428.4" x2="78.2" y2="428.8" stroke="#151515" stroke-width="1.1"/>
<circle cx="78.2" cy="428.8" r="1.4" fill="#151515"/>
<line x1="77.5" y1="409.9" x2="79.1" y2="410.8" stroke="#151515" stroke-width="1.1"/>
<circle cx="79.1" cy="410.8" r="0.9" fill="#151515"/>
<line x1="77.8" y1="376.1" x2="79.8" y2="376.1" stroke="#151515" stroke-width="1.1"/>
<circle cx="79.8" cy="376.1" r="1.6" fill="#151515"/>
<line x1="77.3" y1="417.9" x2="79.7" y2="417.5" stroke="#151515" stroke-width="1.1"/>
<circle cx="79.7" cy="417.5" r="1.0" fill="#151515"/>
<line x1="77.0" y1="386.7" x2="79.0" y2="387.1" stroke="#151515" stroke-width="1.1"/>
<circle cx="79.0" cy="387.1" r="1.4" fill="#151515"/>
<line x1="78.5" y1="358.3" x2="77.2" y2="357.7" stroke="#151515" stroke-width="1.1"/>
<circle cx="77.2" cy="357.7" r="1.2" fill="#151515"/>
<line x1="77.3" y1="418.1" x2="75.0" y2="418.9" stroke="#151515" stroke-width="1.1"/>
<circle cx="75.0" cy="418.9" r="1.3" fill="#151515"/>
<line x1="77.3" y1="418.4" x2="75.9" y2="418.0" stroke="#151515" stroke-width="1.1"/>
<circle cx="75.9" cy="418.0" r="1.0" fill="#151515"/>
<line x1="77.0" y1="404.7" x2="78.8" y2="404.7" stroke="#151515" stroke-width="1.1"/>
<circle cx="78.8" cy="404.7" r="0.9" fill="#151515"/>
<line x1="76.7" y1="391.8" x2="78.1" y2="391.9" stroke="#151515" stroke-width="1.1"/>
<circle cx="78.1" cy="391.9" r="1.4" fill="#151515"/>
<line x1="79.8" y1="368.3" x2="78.0" y2="368.7" stroke="#151515" stroke-width="1.1"/>
<circle cx="78.0" cy="368.7" r="1.1" fill="#151515"/>
<line x1="80.0" y1="430.8" x2="78.2" y2="431.2" stroke="#151515" stroke-width="1.1"/>
<circle cx="78.2" cy="431.2" r="1.4" fill="#151515"/>
<line x1="77.8" y1="376.7" x2="76.0" y2="375.8" stroke="#151515" stroke-width="1.1"/>
<circle cx="76.0" cy="375.8" r="1.0" fill="#151515"/>
<line x1="79.9" y1="368.1" x2="82.1" y2="368.0" stroke="#151515" stroke-width="1.1"/>
<circle cx="82.1" cy="368.0" r="1.6" fill="#151515"/>
<line x1="78.4" y1="373.2" x2="76.2" y2="373.9" stroke="#151515" stroke-width="1.1"/>
<circle cx="76.2" cy="373.9" r="1.0" fill="#151515"/>
<path d="M78.2,426 L83.5,433.6 L77.5,433.6 Z" fill="#0a0a0a"/>
<rect x="99.1" y="352.8" width="31.90" height="81.00" fill="#f5f5f5"/>
<circle cx="107.2" cy="396.8" r="1.4" fill="#c8c8c8" opacity="0.54" filter="url(#b8)"/>
<circle cx="118.8" cy="359.0" r="0.8" fill="#c8c8c8" opacity="0.63" filter="url(#b8)"/>
<circle cx="107.9" cy="372.3" r="2.4" fill="#c8c8c8" opacity="0.49" filter="url(#b8)"/>
<circle cx="125.1" cy="391.4" r="1.8" fill="#c8c8c8" opacity="0.36" filter="url(#b8)"/>
<circle cx="119.1" cy="422.4" r="1.6" fill="#c8c8c8" opacity="0.60" filter="url(#b8)"/>
<circle cx="120.2" cy="358.9" r="2.0" fill="#c8c8c8" opacity="0.54" filter="url(#b8)"/>
<circle cx="109.1" cy="356.2" r="2.2" fill="#c8c8c8" opacity="0.49" filter="url(#b8)"/>
<circle cx="121.6" cy="423.2" r="1.9" fill="#c8c8c8" opacity="0.67" filter="url(#b8)"/>
<circle cx="111.9" cy="417.1" r="1.5" fill="#c8c8c8" opacity="0.67" filter="url(#b8)"/>
<circle cx="126.4" cy="361.5" r="1.0" fill="#c8c8c8" opacity="0.39" filter="url(#b8)"/>
<circle cx="129.0" cy="388.3" r="1.8" fill="#c8c8c8" opacity="0.42" filter="url(#b8)"/>
<circle cx="115.3" cy="384.3" r="1.4" fill="#c8c8c8" opacity="0.53" filter="url(#b8)"/>
<circle cx="117.6" cy="425.2" r="1.9" fill="#c8c8c8" opacity="0.67" filter="url(#b8)"/>
<circle cx="125.7" cy="432.1" r="1.9" fill="#c8c8c8" opacity="0.37" filter="url(#b8)"/>
<circle cx="125.8" cy="430.0" r="2.2" fill="#c8c8c8" opacity="0.53" filter="url(#b8)"/>
<circle cx="121.4" cy="370.5" r="2.1" fill="#c8c8c8" opacity="0.53" filter="url(#b8)"/>
<circle cx="108.6" cy="358.8" r="2.2" fill="#c8c8c8" opacity="0.70" filter="url(#b8)"/>
<circle cx="102.7" cy="417.0" r="1.5" fill="#c8c8c8" opacity="0.36" filter="url(#b8)"/>
<circle cx="108.9" cy="414.5" r="2.2" fill="#c8c8c8" opacity="0.32" filter="url(#b8)"/>
<circle cx="118.5" cy="357.4" r="1.9" fill="#c8c8c8" opacity="0.43" filter="url(#b8)"/>
<circle cx="126.4" cy="431.3" r="1.6" fill="#c8c8c8" opacity="0.70" filter="url(#b8)"/>
<circle cx="109.4" cy="359.9" r="1.8" fill="#c8c8c8" opacity="0.31" filter="url(#b8)"/>
<circle cx="106.0" cy="386.0" r="1.8" fill="#c8c8c8" opacity="0.36" filter="url(#b8)"/>
<circle cx="101.4" cy="422.4" r="1.3" fill="#c8c8c8" opacity="0.68" filter="url(#b8)"/>
<circle cx="126.9" cy="383.6" r="1.5" fill="#c8c8c8" opacity="0.51" filter="url(#b8)"/>
<circle cx="119.4" cy="400.9" r="1.7" fill="#c8c8c8" opacity="0.55" filter="url(#b8)"/>
<circle cx="128.2" cy="393.9" r="1.5" fill="#c8c8c8" opacity="0.59" filter="url(#b8)"/>
<circle cx="107.2" cy="377.6" r="2.4" fill="#c8c8c8" opacity="0.51" filter="url(#b8)"/>
<circle cx="116.5" cy="354.7" r="1.5" fill="#c8c8c8" opacity="0.53" filter="url(#b8)"/>
<circle cx="100.7" cy="402.4" r="1.8" fill="#c8c8c8" opacity="0.32" filter="url(#b8)"/>
<circle cx="118.9" cy="390.6" r="1.9" fill="#c8c8c8" opacity="0.44" filter="url(#b8)"/>
<circle cx="121.2" cy="412.1" r="0.8" fill="#c8c8c8" opacity="0.32" filter="url(#b8)"/>
<circle cx="120.3" cy="429.9" r="1.2" fill="#c8c8c8" opacity="0.48" filter="url(#b8)"/>
<circle cx="117.8" cy="379.1" r="1.4" fill="#c8c8c8" opacity="0.43" filter="url(#b8)"/>
<circle cx="111.1" cy="400.9" r="1.3" fill="#c8c8c8" opacity="0.45" filter="url(#b8)"/>
<circle cx="123.2" cy="355.9" r="1.7" fill="#c8c8c8" opacity="0.59" filter="url(#b8)"/>
<circle cx="109.4" cy="371.4" r="2.1" fill="#c8c8c8" opacity="0.40" filter="url(#b8)"/>
<circle cx="105.7" cy="388.2" r="1.9" fill="#c8c8c8" opacity="0.34" filter="url(#b8)"/>
<circle cx="109.7" cy="380.2" r="2.1" fill="#c8c8c8" opacity="0.48" filter="url(#b8)"/>
<circle cx="125.7" cy="367.2" r="1.3" fill="#c8c8c8" opacity="0.56" filter="url(#b8)"/>
<path d="M115.68,352.80 C115.60,353.83 115.29,356.92 115.15,358.98 C115.01,361.03 114.91,363.09 114.83,365.15 C114.74,367.21 114.60,369.27 114.62,371.32 C114.64,373.38 114.76,375.61 114.93,377.50 C115.10,379.39 115.23,380.93 115.62,382.65 C116.00,384.37 116.81,386.08 117.26,387.80 C117.71,389.52 118.08,391.23 118.31,392.95 C118.55,394.67 118.63,396.38 118.68,398.10 C118.74,399.82 118.57,401.53 118.63,403.25 C118.68,404.97 119.00,406.68 119.01,408.40 C119.02,410.12 118.74,411.83 118.69,413.55 C118.64,415.27 118.96,417.27 118.71,418.70 C118.46,420.13 117.66,421.00 117.20,422.15 C116.73,423.30 116.29,424.45 115.93,425.60 C115.57,426.75 115.33,427.90 115.04,429.05 C114.75,430.20 114.34,431.93 114.20,432.50" stroke="#0a0a0a" stroke-width="3.2" fill="none" stroke-linejoin="round" stroke-linecap="butt"/>
<line x1="117.9" y1="420.5" x2="119.8" y2="420.7" stroke="#151515" stroke-width="1.1"/>
<circle cx="119.8" cy="420.7" r="1.0" fill="#151515"/>
<line x1="118.6" y1="403.5" x2="116.2" y2="402.8" stroke="#151515" stroke-width="1.1"/>
<circle cx="116.2" cy="402.8" r="0.8" fill="#151515"/>
<line x1="115.2" y1="428.4" x2="117.2" y2="429.4" stroke="#151515" stroke-width="1.1"/>
<circle cx="117.2" cy="429.4" r="1.4" fill="#151515"/>
<line x1="115.2" y1="357.8" x2="117.6" y2="358.2" stroke="#151515" stroke-width="1.1"/>
<circle cx="117.6" cy="358.2" r="1.2" fill="#151515"/>
<line x1="115.5" y1="381.4" x2="117.9" y2="382.1" stroke="#151515" stroke-width="1.1"/>
<circle cx="117.9" cy="382.1" r="1.5" fill="#151515"/>
<line x1="114.8" y1="429.9" x2="112.5" y2="428.9" stroke="#151515" stroke-width="1.1"/>
<circle cx="112.5" cy="428.9" r="1.5" fill="#151515"/>
<line x1="118.7" y1="413.4" x2="116.2" y2="414.2" stroke="#151515" stroke-width="1.1"/>
<circle cx="116.2" cy="414.2" r="1.3" fill="#151515"/>
<line x1="115.4" y1="356.0" x2="114.0" y2="355.6" stroke="#151515" stroke-width="1.1"/>
<circle cx="114.0" cy="355.6" r="1.3" fill="#151515"/>
<line x1="118.7" y1="400.1" x2="119.9" y2="400.9" stroke="#151515" stroke-width="1.1"/>
<circle cx="119.9" cy="400.9" r="0.9" fill="#151515"/>
<line x1="114.8" y1="366.7" x2="117.1" y2="365.8" stroke="#151515" stroke-width="1.1"/>
<circle cx="117.1" cy="365.8" r="1.0" fill="#151515"/>
<line x1="114.8" y1="366.4" x2="113.3" y2="367.0" stroke="#151515" stroke-width="1.1"/>
<circle cx="113.3" cy="367.0" r="1.5" fill="#151515"/>
<line x1="117.6" y1="421.1" x2="115.8" y2="421.3" stroke="#151515" stroke-width="1.1"/>
<circle cx="115.8" cy="421.3" r="1.1" fill="#151515"/>
<line x1="118.7" y1="418.4" x2="117.1" y2="418.4" stroke="#151515" stroke-width="1.1"/>
<circle cx="117.1" cy="418.4" r="1.1" fill="#151515"/>
<line x1="118.5" y1="396.0" x2="116.1" y2="396.5" stroke="#151515" stroke-width="1.1"/>
<circle cx="116.1" cy="396.5" r="0.8" fill="#151515"/>
<line x1="115.1" y1="359.5" x2="117.7" y2="360.2" stroke="#151515" stroke-width="1.1"/>
<circle cx="117.7" cy="360.2" r="0.9" fill="#151515"/>
<line x1="118.7" y1="398.3" x2="120.1" y2="397.4" stroke="#151515" stroke-width="1.1"/>
<circle cx="120.1" cy="397.4" r="1.1" fill="#151515"/>
<line x1="117.6" y1="389.4" x2="119.3" y2="388.8" stroke="#151515" stroke-width="1.1"/>
<circle cx="119.3" cy="388.8" r="1.1" fill="#151515"/>
<line x1="114.8" y1="366.5" x2="112.6" y2="366.3" stroke="#151515" stroke-width="1.1"/>
<circle cx="112.6" cy="366.3" r="0.9" fill="#151515"/>
<line x1="114.6" y1="371.7" x2="116.5" y2="372.0" stroke="#151515" stroke-width="1.1"/>
<circle cx="116.5" cy="372.0" r="1.2" fill="#151515"/>
<line x1="119.0" y1="408.9" x2="116.9" y2="408.8" stroke="#151515" stroke-width="1.1"/>
<circle cx="116.9" cy="408.8" r="1.1" fill="#151515"/>
<line x1="118.7" y1="397.8" x2="120.5" y2="398.2" stroke="#151515" stroke-width="1.1"/>
<circle cx="120.5" cy="398.2" r="1.2" fill="#151515"/>
<line x1="115.0" y1="377.9" x2="117.2" y2="377.1" stroke="#151515" stroke-width="1.1"/>
<circle cx="117.2" cy="377.1" r="1.1" fill="#151515"/>
<line x1="118.2" y1="392.2" x2="115.7" y2="392.0" stroke="#151515" stroke-width="1.1"/>
<circle cx="115.7" cy="392.0" r="1.5" fill="#151515"/>
<line x1="118.0" y1="420.3" x2="119.4" y2="420.7" stroke="#151515" stroke-width="1.1"/>
<circle cx="119.4" cy="420.7" r="1.6" fill="#151515"/>
<line x1="118.7" y1="416.4" x2="120.8" y2="416.9" stroke="#151515" stroke-width="1.1"/>
<circle cx="120.8" cy="416.9" r="1.3" fill="#151515"/>
<line x1="114.9" y1="364.6" x2="113.0" y2="364.0" stroke="#151515" stroke-width="1.1"/>
<circle cx="113.0" cy="364.0" r="1.1" fill="#151515"/>
<path d="M110,433 L114,428 L118,433 Z" fill="#222"/>
<rect x="136.2" y="352.8" width="32.60" height="81.00" fill="#f5f5f5"/>
<circle cx="144.4" cy="362.0" r="1.4" fill="#c8c8c8" opacity="0.36" filter="url(#b8)"/>
<circle cx="139.2" cy="385.5" r="2.3" fill="#c8c8c8" opacity="0.62" filter="url(#b8)"/>
<circle cx="160.6" cy="371.3" r="1.7" fill="#c8c8c8" opacity="0.41" filter="url(#b8)"/>
<circle cx="142.5" cy="362.2" r="1.1" fill="#c8c8c8" opacity="0.67" filter="url(#b8)"/>
<circle cx="162.6" cy="417.5" r="2.1" fill="#c8c8c8" opacity="0.38" filter="url(#b8)"/>
<circle cx="146.7" cy="403.3" r="2.0" fill="#c8c8c8" opacity="0.64" filter="url(#b8)"/>
<circle cx="164.1" cy="360.7" r="1.8" fill="#c8c8c8" opacity="0.57" filter="url(#b8)"/>
<circle cx="152.7" cy="367.8" r="1.6" fill="#c8c8c8" opacity="0.34" filter="url(#b8)"/>
<circle cx="165.8" cy="422.2" r="1.7" fill="#c8c8c8" opacity="0.42" filter="url(#b8)"/>
<circle cx="165.0" cy="399.0" r="2.2" fill="#c8c8c8" opacity="0.64" filter="url(#b8)"/>
<circle cx="152.8" cy="386.5" r="1.8" fill="#c8c8c8" opacity="0.47" filter="url(#b8)"/>
<circle cx="142.1" cy="377.9" r="2.1" fill="#c8c8c8" opacity="0.32" filter="url(#b8)"/>
<circle cx="138.6" cy="403.3" r="1.2" fill="#c8c8c8" opacity="0.51" filter="url(#b8)"/>
<circle cx="151.6" cy="380.9" r="2.4" fill="#c8c8c8" opacity="0.38" filter="url(#b8)"/>
<circle cx="149.8" cy="369.8" r="1.8" fill="#c8c8c8" opacity="0.41" filter="url(#b8)"/>
<circle cx="148.1" cy="412.8" r="1.3" fill="#c8c8c8" opacity="0.52" filter="url(#b8)"/>
<circle cx="164.9" cy="361.8" r="0.9" fill="#c8c8c8" opacity="0.39" filter="url(#b8)"/>
<circle cx="160.6" cy="402.4" r="1.2" fill="#c8c8c8" opacity="0.43" filter="url(#b8)"/>
<circle cx="142.6" cy="390.1" r="0.9" fill="#c8c8c8" opacity="0.58" filter="url(#b8)"/>
<circle cx="164.6" cy="429.2" r="2.0" fill="#c8c8c8" opacity="0.68" filter="url(#b8)"/>
<circle cx="137.8" cy="376.6" r="2.3" fill="#c8c8c8" opacity="0.61" filter="url(#b8)"/>
<circle cx="149.8" cy="428.3" r="1.8" fill="#c8c8c8" opacity="0.63" filter="url(#b8)"/>
<circle cx="146.2" cy="368.9" r="1.5" fill="#c8c8c8" opacity="0.35" filter="url(#b8)"/>
<circle cx="148.9" cy="429.8" r="1.3" fill="#c8c8c8" opacity="0.30" filter="url(#b8)"/>
<circle cx="138.6" cy="367.2" r="2.1" fill="#c8c8c8" opacity="0.45" filter="url(#b8)"/>
<circle cx="146.1" cy="361.5" r="2.4" fill="#c8c8c8" opacity="0.47" filter="url(#b8)"/>
<circle cx="143.6" cy="358.5" r="0.9" fill="#c8c8c8" opacity="0.37" filter="url(#b8)"/>
<circle cx="157.9" cy="365.6" r="0.9" fill="#c8c8c8" opacity="0.50" filter="url(#b8)"/>
<circle cx="144.8" cy="432.6" r="1.0" fill="#c8c8c8" opacity="0.51" filter="url(#b8)"/>
<circle cx="160.9" cy="386.1" r="2.4" fill="#c8c8c8" opacity="0.49" filter="url(#b8)"/>
<circle cx="144.6" cy="386.2" r="0.9" fill="#c8c8c8" opacity="0.47" filter="url(#b8)"/>
<circle cx="144.8" cy="424.1" r="2.1" fill="#c8c8c8" opacity="0.50" filter="url(#b8)"/>
<circle cx="138.2" cy="373.9" r="1.2" fill="#c8c8c8" opacity="0.38" filter="url(#b8)"/>
<circle cx="144.3" cy="422.5" r="1.0" fill="#c8c8c8" opacity="0.32" filter="url(#b8)"/>
<circle cx="165.6" cy="398.5" r="2.4" fill="#c8c8c8" opacity="0.46" filter="url(#b8)"/>
<circle cx="164.8" cy="405.5" r="2.1" fill="#c8c8c8" opacity="0.60" filter="url(#b8)"/>
<circle cx="152.3" cy="361.1" r="1.1" fill="#c8c8c8" opacity="0.65" filter="url(#b8)"/>
<circle cx="164.7" cy="426.8" r="1.3" fill="#c8c8c8" opacity="0.56" filter="url(#b8)"/>
<circle cx="161.7" cy="404.6" r="2.1" fill="#c8c8c8" opacity="0.51" filter="url(#b8)"/>
<circle cx="157.2" cy="408.0" r="1.2" fill="#c8c8c8" opacity="0.67" filter="url(#b8)"/>
<path d="M152.96,352.80 C152.99,353.54 152.81,355.77 153.17,357.25 C153.54,358.73 154.66,360.22 155.17,361.70 C155.69,363.18 155.95,364.67 156.26,366.15 C156.58,367.63 156.98,369.28 157.07,370.60 C157.15,371.92 156.62,372.90 156.77,374.05 C156.92,375.20 157.83,376.35 157.95,377.50 C158.07,378.65 157.38,379.80 157.50,380.95 C157.62,382.10 158.61,383.08 158.67,384.40 C158.73,385.72 158.19,387.37 157.87,388.85 C157.55,390.33 157.01,391.82 156.76,393.30 C156.51,394.78 156.44,396.27 156.37,397.75 C156.30,399.23 156.43,400.20 156.34,402.20 C156.24,404.20 155.95,407.25 155.82,409.77 C155.69,412.30 155.64,414.83 155.55,417.35 C155.46,419.88 155.47,422.40 155.28,424.93 C155.09,427.45 154.55,431.24 154.40,432.50" stroke="#0a0a0a" stroke-width="3.2" fill="none" stroke-linejoin="round" stroke-linecap="butt"/>
<line x1="156.8" y1="369.2" x2="155.3" y2="368.5" stroke="#151515" stroke-width="1.1"/>
<circle cx="155.3" cy="368.5" r="1.3" fill="#151515"/>
<line x1="157.0" y1="371.5" x2="159.3" y2="372.1" stroke="#151515" stroke-width="1.1"/>
<circle cx="159.3" cy="372.1" r="1.5" fill="#151515"/>
<line x1="158.0" y1="387.9" x2="156.6" y2="388.1" stroke="#151515" stroke-width="1.1"/>
<circle cx="156.6" cy="388.1" r="1.5" fill="#151515"/>
<line x1="157.9" y1="388.7" x2="160.4" y2="388.5" stroke="#151515" stroke-width="1.1"/>
<circle cx="160.4" cy="388.5" r="0.9" fill="#151515"/>
<line x1="156.4" y1="397.8" x2="154.5" y2="398.5" stroke="#151515" stroke-width="1.1"/>
<circle cx="154.5" cy="398.5" r="1.3" fill="#151515"/>
<line x1="155.7" y1="363.7" x2="157.0" y2="364.5" stroke="#151515" stroke-width="1.1"/>
<circle cx="157.0" cy="364.5" r="1.5" fill="#151515"/>
<line x1="156.8" y1="373.6" x2="159.2" y2="372.8" stroke="#151515" stroke-width="1.1"/>
<circle cx="159.2" cy="372.8" r="1.2" fill="#151515"/>
<line x1="157.9" y1="378.1" x2="159.6" y2="378.6" stroke="#151515" stroke-width="1.1"/>
<circle cx="159.6" cy="378.6" r="1.5" fill="#151515"/>
<line x1="157.7" y1="379.1" x2="156.4" y2="379.3" stroke="#151515" stroke-width="1.1"/>
<circle cx="156.4" cy="379.3" r="1.5" fill="#151515"/>
<line x1="158.5" y1="385.3" x2="160.3" y2="385.7" stroke="#151515" stroke-width="1.1"/>
<circle cx="160.3" cy="385.7" r="1.2" fill="#151515"/>
<line x1="156.8" y1="393.2" x2="154.7" y2="394.0" stroke="#151515" stroke-width="1.1"/>
<circle cx="154.7" cy="394.0" r="1.2" fill="#151515"/>
<line x1="155.3" y1="362.3" x2="153.6" y2="361.6" stroke="#151515" stroke-width="1.1"/>
<circle cx="153.6" cy="361.6" r="1.4" fill="#151515"/>
<line x1="157.2" y1="375.2" x2="158.7" y2="376.2" stroke="#151515" stroke-width="1.1"/>
<circle cx="158.7" cy="376.2" r="0.8" fill="#151515"/>
<line x1="156.2" y1="365.8" x2="157.5" y2="365.0" stroke="#151515" stroke-width="1.1"/>
<circle cx="157.5" cy="365.0" r="1.4" fill="#151515"/>
<line x1="157.3" y1="391.3" x2="155.3" y2="391.1" stroke="#151515" stroke-width="1.1"/>
<circle cx="155.3" cy="391.1" r="1.0" fill="#151515"/>
<line x1="156.9" y1="369.9" x2="154.4" y2="370.1" stroke="#151515" stroke-width="1.1"/>
<circle cx="154.4" cy="370.1" r="1.3" fill="#151515"/>
<line x1="157.1" y1="391.9" x2="159.1" y2="392.7" stroke="#151515" stroke-width="1.1"/>
<circle cx="159.1" cy="392.7" r="1.4" fill="#151515"/>
<line x1="157.8" y1="389.1" x2="159.9" y2="389.0" stroke="#151515" stroke-width="1.1"/>
<circle cx="159.9" cy="389.0" r="0.9" fill="#151515"/>
<line x1="156.3" y1="403.4" x2="158.8" y2="403.1" stroke="#151515" stroke-width="1.1"/>
<circle cx="158.8" cy="403.1" r="1.1" fill="#151515"/>
<line x1="157.2" y1="391.6" x2="155.6" y2="392.5" stroke="#151515" stroke-width="1.1"/>
<circle cx="155.6" cy="392.5" r="1.0" fill="#151515"/>
<line x1="156.1" y1="406.1" x2="154.8" y2="406.4" stroke="#151515" stroke-width="1.1"/>
<circle cx="154.8" cy="406.4" r="1.5" fill="#151515"/>
<line x1="157.2" y1="375.4" x2="158.9" y2="375.0" stroke="#151515" stroke-width="1.1"/>
<circle cx="158.9" cy="375.0" r="0.8" fill="#151515"/>
<line x1="153.1" y1="355.6" x2="150.8" y2="356.2" stroke="#151515" stroke-width="1.1"/>
<circle cx="150.8" cy="356.2" r="1.6" fill="#151515"/>
<line x1="156.0" y1="365.1" x2="158.1" y2="366.0" stroke="#151515" stroke-width="1.1"/>
<circle cx="158.1" cy="366.0" r="0.9" fill="#151515"/>
<line x1="155.4" y1="421.4" x2="154.0" y2="421.4" stroke="#151515" stroke-width="1.1"/>
<circle cx="154.0" cy="421.4" r="1.5" fill="#151515"/>
<line x1="156.9" y1="369.4" x2="159.2" y2="369.8" stroke="#151515" stroke-width="1.1"/>
<circle cx="159.2" cy="369.8" r="1.5" fill="#151515"/>
<rect x="172.9" y="352.8" width="31.70" height="81.00" fill="#f5f5f5"/>
<circle cx="192.4" cy="412.4" r="2.1" fill="#c8c8c8" opacity="0.68" filter="url(#b8)"/>
<circle cx="195.9" cy="426.7" r="0.8" fill="#c8c8c8" opacity="0.49" filter="url(#b8)"/>
<circle cx="201.9" cy="405.1" r="2.2" fill="#c8c8c8" opacity="0.35" filter="url(#b8)"/>
<circle cx="187.8" cy="373.3" r="1.7" fill="#c8c8c8" opacity="0.53" filter="url(#b8)"/>
<circle cx="174.3" cy="370.9" r="1.2" fill="#c8c8c8" opacity="0.67" filter="url(#b8)"/>
<circle cx="196.6" cy="366.4" r="2.1" fill="#c8c8c8" opacity="0.36" filter="url(#b8)"/>
<circle cx="192.2" cy="363.8" r="0.8" fill="#c8c8c8" opacity="0.65" filter="url(#b8)"/>
<circle cx="180.1" cy="370.8" r="2.4" fill="#c8c8c8" opacity="0.65" filter="url(#b8)"/>
<circle cx="182.5" cy="429.8" r="1.7" fill="#c8c8c8" opacity="0.57" filter="url(#b8)"/>
<circle cx="180.0" cy="428.1" r="1.9" fill="#c8c8c8" opacity="0.69" filter="url(#b8)"/>
<circle cx="200.4" cy="377.4" r="1.4" fill="#c8c8c8" opacity="0.37" filter="url(#b8)"/>
<circle cx="178.2" cy="358.9" r="1.3" fill="#c8c8c8" opacity="0.54" filter="url(#b8)"/>
<circle cx="174.0" cy="407.4" r="1.3" fill="#c8c8c8" opacity="0.42" filter="url(#b8)"/>
<circle cx="198.2" cy="391.8" r="1.3" fill="#c8c8c8" opacity="0.49" filter="url(#b8)"/>
<circle cx="194.8" cy="358.3" r="2.4" fill="#c8c8c8" opacity="0.31" filter="url(#b8)"/>
<circle cx="196.2" cy="420.5" r="0.8" fill="#c8c8c8" opacity="0.62" filter="url(#b8)"/>
<circle cx="184.8" cy="399.5" r="0.8" fill="#c8c8c8" opacity="0.32" filter="url(#b8)"/>
<circle cx="179.3" cy="429.3" r="1.1" fill="#c8c8c8" opacity="0.60" filter="url(#b8)"/>
<circle cx="201.5" cy="428.2" r="1.4" fill="#c8c8c8" opacity="0.44" filter="url(#b8)"/>
<circle cx="189.5" cy="415.1" r="1.0" fill="#c8c8c8" opacity="0.60" filter="url(#b8)"/>
<circle cx="197.6" cy="421.7" r="0.9" fill="#c8c8c8" opacity="0.68" filter="url(#b8)"/>
<circle cx="176.6" cy="380.7" r="1.8" fill="#c8c8c8" opacity="0.67" filter="url(#b8)"/>
<circle cx="184.0" cy="426.8" r="1.7" fill="#c8c8c8" opacity="0.42" filter="url(#b8)"/>
<circle cx="183.3" cy="367.8" r="0.9" fill="#c8c8c8" opacity="0.36" filter="url(#b8)"/>
<circle cx="194.4" cy="432.5" r="1.1" fill="#c8c8c8" opacity="0.32" filter="url(#b8)"/>
<circle cx="203.2" cy="395.9" r="1.4" fill="#c8c8c8" opacity="0.39" filter="url(#b8)"/>
<circle cx="191.5" cy="419.1" r="1.5" fill="#c8c8c8" opacity="0.47" filter="url(#b8)"/>
<circle cx="175.6" cy="426.2" r="0.9" fill="#c8c8c8" opacity="0.50" filter="url(#b8)"/>
<circle cx="198.8" cy="364.1" r="2.0" fill="#c8c8c8" opacity="0.68" filter="url(#b8)"/>
<circle cx="192.6" cy="416.1" r="1.0" fill="#c8c8c8" opacity="0.47" filter="url(#b8)"/>
<circle cx="178.3" cy="420.5" r="1.3" fill="#c8c8c8" opacity="0.48" filter="url(#b8)"/>
<circle cx="203.6" cy="421.1" r="2.4" fill="#c8c8c8" opacity="0.48" filter="url(#b8)"/>
<circle cx="188.4" cy="411.4" r="1.6" fill="#c8c8c8" opacity="0.42" filter="url(#b8)"/>
<circle cx="185.9" cy="365.4" r="1.4" fill="#c8c8c8" opacity="0.70" filter="url(#b8)"/>
<circle cx="202.4" cy="403.3" r="1.6" fill="#c8c8c8" opacity="0.44" filter="url(#b8)"/>
<circle cx="176.5" cy="375.3" r="2.1" fill="#c8c8c8" opacity="0.65" filter="url(#b8)"/>
<circle cx="184.6" cy="415.9" r="2.0" fill="#c8c8c8" opacity="0.58" filter="url(#b8)"/>
<circle cx="193.6" cy="413.8" r="1.4" fill="#c8c8c8" opacity="0.58" filter="url(#b8)"/>
<circle cx="182.2" cy="392.2" r="2.0" fill="#c8c8c8" opacity="0.58" filter="url(#b8)"/>
<circle cx="182.6" cy="428.5" r="1.8" fill="#c8c8c8" opacity="0.53" filter="url(#b8)"/>
<path d="M184.21,352.80 C184.30,353.50 184.71,355.62 184.75,357.02 C184.79,358.43 184.43,359.84 184.45,361.25 C184.47,362.66 184.84,364.07 184.87,365.48 C184.91,366.88 184.58,368.18 184.66,369.70 C184.74,371.22 185.20,372.98 185.34,374.62 C185.48,376.27 185.39,377.91 185.50,379.55 C185.60,381.19 185.91,382.83 185.97,384.47 C186.03,386.12 185.79,387.76 185.85,389.40 C185.91,391.04 186.20,392.68 186.32,394.32 C186.44,395.97 186.50,397.61 186.59,399.25 C186.68,400.89 186.86,402.53 186.85,404.18 C186.85,405.82 186.49,407.29 186.55,409.10 C186.61,410.91 187.06,413.05 187.19,415.03 C187.33,417.00 187.35,418.98 187.37,420.95 C187.39,422.93 187.35,424.90 187.34,426.88 C187.33,428.85 187.31,431.81 187.30,432.80" stroke="#0a0a0a" stroke-width="3.2" fill="none" stroke-linejoin="round" stroke-linecap="butt"/>
<line x1="187.3" y1="428.7" x2="189.3" y2="428.8" stroke="#151515" stroke-width="1.1"/>
<circle cx="189.3" cy="428.8" r="0.9" fill="#151515"/>
<line x1="187.2" y1="416.0" x2="188.8" y2="415.2" stroke="#151515" stroke-width="1.1"/>
<circle cx="188.8" cy="415.2" r="1.3" fill="#151515"/>
<line x1="185.8" y1="383.1" x2="187.5" y2="383.2" stroke="#151515" stroke-width="1.1"/>
<circle cx="187.5" cy="383.2" r="1.5" fill="#151515"/>
<line x1="185.0" y1="372.1" x2="183.5" y2="372.2" stroke="#151515" stroke-width="1.1"/>
<circle cx="183.5" cy="372.2" r="1.3" fill="#151515"/>
<line x1="184.9" y1="365.9" x2="182.8" y2="365.0" stroke="#151515" stroke-width="1.1"/>
<circle cx="182.8" cy="365.0" r="1.2" fill="#151515"/>
<line x1="184.7" y1="368.8" x2="182.3" y2="368.1" stroke="#151515" stroke-width="1.1"/>
<circle cx="182.3" cy="368.1" r="1.6" fill="#151515"/>
<line x1="185.9" y1="388.1" x2="184.1" y2="387.8" stroke="#151515" stroke-width="1.1"/>
<circle cx="184.1" cy="387.8" r="1.3" fill="#151515"/>
<line x1="184.6" y1="358.8" x2="183.1" y2="359.6" stroke="#151515" stroke-width="1.1"/>
<circle cx="183.1" cy="359.6" r="0.8" fill="#151515"/>
<line x1="185.8" y1="382.2" x2="188.2" y2="383.0" stroke="#151515" stroke-width="1.1"/>
<circle cx="188.2" cy="383.0" r="1.4" fill="#151515"/>
<line x1="186.2" y1="393.0" x2="184.2" y2="392.6" stroke="#151515" stroke-width="1.1"/>
<circle cx="184.2" cy="392.6" r="1.0" fill="#151515"/>
<line x1="185.9" y1="390.4" x2="188.5" y2="391.0" stroke="#151515" stroke-width="1.1"/>
<circle cx="188.5" cy="391.0" r="1.1" fill="#151515"/>
<line x1="187.1" y1="413.9" x2="188.9" y2="413.2" stroke="#151515" stroke-width="1.1"/>
<circle cx="188.9" cy="413.2" r="1.1" fill="#151515"/>
<line x1="185.9" y1="387.7" x2="183.3" y2="387.9" stroke="#151515" stroke-width="1.1"/>
<circle cx="183.3" cy="387.9" r="1.1" fill="#151515"/>
<line x1="187.4" y1="421.2" x2="185.6" y2="420.9" stroke="#151515" stroke-width="1.1"/>
<circle cx="185.6" cy="420.9" r="1.5" fill="#151515"/>
<line x1="186.1" y1="392.4" x2="188.2" y2="393.2" stroke="#151515" stroke-width="1.1"/>
<circle cx="188.2" cy="393.2" r="1.1" fill="#151515"/>
<line x1="185.9" y1="384.2" x2="184.1" y2="384.2" stroke="#151515" stroke-width="1.1"/>
<circle cx="184.1" cy="384.2" r="1.4" fill="#151515"/>
<line x1="185.6" y1="380.6" x2="183.6" y2="380.1" stroke="#151515" stroke-width="1.1"/>
<circle cx="183.6" cy="380.1" r="1.6" fill="#151515"/>
<line x1="185.9" y1="389.1" x2="187.1" y2="390.0" stroke="#151515" stroke-width="1.1"/>
<circle cx="187.1" cy="390.0" r="1.0" fill="#151515"/>
<line x1="187.4" y1="424.5" x2="185.5" y2="423.7" stroke="#151515" stroke-width="1.1"/>
<circle cx="185.5" cy="423.7" r="1.3" fill="#151515"/>
<line x1="186.0" y1="385.1" x2="187.2" y2="384.4" stroke="#151515" stroke-width="1.1"/>
<circle cx="187.2" cy="384.4" r="1.1" fill="#151515"/>
<line x1="185.9" y1="387.9" x2="187.4" y2="387.9" stroke="#151515" stroke-width="1.1"/>
<circle cx="187.4" cy="387.9" r="0.8" fill="#151515"/>
<line x1="185.9" y1="388.7" x2="183.7" y2="388.2" stroke="#151515" stroke-width="1.1"/>
<circle cx="183.7" cy="388.2" r="1.2" fill="#151515"/>
<line x1="187.3" y1="430.2" x2="186.1" y2="429.5" stroke="#151515" stroke-width="1.1"/>
<circle cx="186.1" cy="429.5" r="1.0" fill="#151515"/>
<line x1="186.8" y1="405.1" x2="189.0" y2="404.2" stroke="#151515" stroke-width="1.1"/>
<circle cx="189.0" cy="404.2" r="1.1" fill="#151515"/>
<line x1="186.8" y1="403.1" x2="185.5" y2="402.7" stroke="#151515" stroke-width="1.1"/>
<circle cx="185.5" cy="402.7" r="1.2" fill="#151515"/>
<line x1="187.4" y1="423.3" x2="186.1" y2="423.9" stroke="#151515" stroke-width="1.1"/>
<circle cx="186.1" cy="423.9" r="1.1" fill="#151515"/>
<path d="M178.1,363 L180.8,353.5" stroke="#222" stroke-width="1.6"/>
<rect x="201.00" y="415.00" width="1.60" height="15.00" fill="#000"/>
<path d="M201,427 L204,430 L201,430.5 Z" fill="#000"/>
<text transform="translate(40.30,439.20) rotate(-45)" y="2.16" text-anchor="end">WT-Ct</text>
<text transform="translate(81.00,439.00) rotate(-45)" y="2.16" text-anchor="end">WT-C/EBPβ OE</text>
<text transform="translate(115.00,439.20) rotate(-45)" y="2.16" text-anchor="end">3xTg-Ct</text>
<text transform="translate(155.00,439.00) rotate(-45)" y="2.16" text-anchor="end">3xTg-C/EBPβ OE</text>
<text transform="translate(185.70,438.60) rotate(-45)" y="2.16" text-anchor="end">3xTg-C/EBPβ OE+</text>
<text transform="translate(190.50,444.70) rotate(-45)" y="2.16" text-anchor="end">AEP C189S</text>
<line x1="256.30" y1="349.80" x2="256.30" y2="435.90" stroke="#000" stroke-width="1.2"/>
<line x1="254.30" y1="435.40" x2="256.30" y2="435.40" stroke="#000" stroke-width="0.9"/>
<text x="251.80" y="437.56" text-anchor="end">0</text>
<line x1="254.30" y1="407.03" x2="256.30" y2="407.03" stroke="#000" stroke-width="0.9"/>
<text x="251.80" y="409.19" text-anchor="end">5</text>
<line x1="254.30" y1="378.66" x2="256.30" y2="378.66" stroke="#000" stroke-width="0.9"/>
<text x="251.80" y="380.82" text-anchor="end">10</text>
<line x1="254.30" y1="350.29" x2="256.30" y2="350.29" stroke="#000" stroke-width="0.9"/>
<text x="251.80" y="352.45" text-anchor="end">15</text>
<rect x="261.90" y="374.12" width="10.22" height="61.28" fill="#000000"/>
<line x1="267.01" y1="374.12" x2="267.01" y2="367.31" stroke="#000" stroke-width="1.1"/>
<line x1="265.41" y1="367.31" x2="268.61" y2="367.31" stroke="#000" stroke-width="1.1"/>
<rect x="272.12" y="399.09" width="10.22" height="36.31" fill="#fc0a0a"/>
<line x1="277.23" y1="399.09" x2="277.23" y2="392.28" stroke="#000" stroke-width="1.1"/>
<line x1="275.63" y1="392.28" x2="278.83" y2="392.28" stroke="#000" stroke-width="1.1"/>
<rect x="282.34" y="393.41" width="10.22" height="41.99" fill="#ff8208"/>
<line x1="287.45" y1="393.41" x2="287.45" y2="388.87" stroke="#000" stroke-width="1.1"/>
<line x1="285.85" y1="388.87" x2="289.05" y2="388.87" stroke="#000" stroke-width="1.1"/>
<rect x="292.56" y="419.51" width="10.22" height="15.89" fill="#0a0af0"/>
<line x1="297.67" y1="419.51" x2="297.67" y2="414.97" stroke="#000" stroke-width="1.1"/>
<line x1="296.07" y1="414.97" x2="299.27" y2="414.97" stroke="#000" stroke-width="1.1"/>
<rect x="302.78" y="383.77" width="10.22" height="51.63" fill="#fb6a12"/>
<line x1="307.89" y1="383.77" x2="307.89" y2="374.12" stroke="#000" stroke-width="1.1"/>
<line x1="306.29" y1="374.12" x2="309.49" y2="374.12" stroke="#000" stroke-width="1.1"/>
<line x1="255.80" y1="435.40" x2="317.80" y2="435.40" stroke="#000" stroke-width="1.1"/>
<text transform="translate(234.50,395.00) rotate(-90)" y="2.16" text-anchor="middle">Number of spines (/10 μm)</text>
<polyline points="266.20,360.30 266.20,355.10 278.30,355.10 278.30,360.30" fill="none" stroke="#000" stroke-width="1.0"/>
<text x="271.70" y="351.79" text-anchor="middle" font-size="7.2">*</text>
<polyline points="285.10,382.10 285.10,376.40 296.30,376.40 296.30,382.10" fill="none" stroke="#000" stroke-width="1.0"/>
<text x="290.00" y="374.89" text-anchor="middle" font-size="7.2">*</text>
<polyline points="295.40,369.20 295.40,363.20 307.10,363.20 307.10,369.20" fill="none" stroke="#000" stroke-width="1.0"/>
<text x="301.00" y="361.59" text-anchor="middle" font-size="7.2">*</text>
<text transform="translate(267.00,440.10) rotate(-45)" y="2.16" text-anchor="end">WT-Ct</text>
<text transform="translate(275.60,440.10) rotate(-45)" y="2.16" text-anchor="end">WT-C/EBPβ OE</text>
<text transform="translate(286.80,439.50) rotate(-45)" y="2.16" text-anchor="end">3xTg-Ct</text>
<text transform="translate(296.90,439.50) rotate(-45)" y="2.16" text-anchor="end">3xTg-C/EBPβ OE</text>
<text transform="translate(309.20,439.20) rotate(-45)" y="2.16" text-anchor="end">3xTg-C/EBPβ OE+</text>
<text transform="translate(314.00,444.10) rotate(-45)" y="2.16" text-anchor="end">AEP C189S</text>
<rect x="437.50" y="335.50" width="11.50" height="3.80" fill="#000000"/>
<text x="452.00" y="339.56">3xTg-Ct</text>
<rect x="437.50" y="344.90" width="11.50" height="3.80" fill="#fc0a0a"/>
<text x="452.00" y="348.96">3xTg-C/EBPβ OE</text>
<rect x="437.50" y="355.10" width="11.50" height="3.80" fill="#fdbf86"/>
<text x="452.00" y="359.16">3xTg-C/EBPα OE</text>
<rect x="437.50" y="366.00" width="11.50" height="3.80" fill="#0a0af0"/>
<text x="452.00" y="370.06">3xTg-HSF1 OE</text>
<rect x="437.50" y="376.70" width="11.50" height="3.80" fill="#fb6a12"/>
<text x="452.00" y="380.76">3xTg-C/EBPβ OE+AEP C189S</text>
<rect x="437.50" y="387.60" width="11.50" height="3.80" fill="#bd5fdc"/>
<text x="452.00" y="391.66">3xTg-C/EBPβ OE+HSF1</text>
<line x1="435.40" y1="403.20" x2="435.40" y2="486.70" stroke="#000" stroke-width="1.2"/>
<line x1="433.40" y1="486.20" x2="435.40" y2="486.20" stroke="#000" stroke-width="0.9"/>
<text x="427.80" y="488.36" text-anchor="end">0</text>
<line x1="433.40" y1="458.70" x2="435.40" y2="458.70" stroke="#000" stroke-width="0.9"/>
<text x="427.80" y="460.86" text-anchor="end">100</text>
<line x1="433.40" y1="431.20" x2="435.40" y2="431.20" stroke="#000" stroke-width="0.9"/>
<text x="427.80" y="433.36" text-anchor="end">200</text>
<line x1="433.40" y1="403.70" x2="435.40" y2="403.70" stroke="#000" stroke-width="0.9"/>
<text x="427.80" y="405.86" text-anchor="end">300</text>
<rect x="438.30" y="458.70" width="5.83" height="27.50" fill="#000000"/>
<line x1="441.22" y1="458.70" x2="441.22" y2="455.95" stroke="#000" stroke-width="1.1"/>
<line x1="439.92" y1="455.95" x2="442.52" y2="455.95" stroke="#000" stroke-width="1.1"/>
<rect x="444.13" y="427.90" width="5.83" height="58.30" fill="#fc0a0a"/>
<line x1="447.05" y1="427.90" x2="447.05" y2="421.85" stroke="#000" stroke-width="1.1"/>
<line x1="445.75" y1="421.85" x2="448.35" y2="421.85" stroke="#000" stroke-width="1.1"/>
<rect x="449.96" y="457.88" width="5.83" height="28.33" fill="#fdbf86"/>
<line x1="452.88" y1="457.88" x2="452.88" y2="454.57" stroke="#000" stroke-width="1.1"/>
<line x1="451.58" y1="454.57" x2="454.18" y2="454.57" stroke="#000" stroke-width="1.1"/>
<rect x="455.79" y="454.02" width="5.83" height="32.18" fill="#0a0af0"/>
<line x1="458.71" y1="454.02" x2="458.71" y2="449.35" stroke="#000" stroke-width="1.1"/>
<line x1="457.41" y1="449.35" x2="460.01" y2="449.35" stroke="#000" stroke-width="1.1"/>
<rect x="461.62" y="440.00" width="5.83" height="46.20" fill="#fb6a12"/>
<line x1="464.54" y1="440.00" x2="464.54" y2="433.95" stroke="#000" stroke-width="1.1"/>
<line x1="463.24" y1="433.95" x2="465.84" y2="433.95" stroke="#000" stroke-width="1.1"/>
<rect x="467.45" y="415.80" width="5.83" height="70.40" fill="#bd5fdc"/>
<line x1="470.37" y1="415.80" x2="470.37" y2="410.30" stroke="#000" stroke-width="1.1"/>
<line x1="469.06" y1="410.30" x2="471.67" y2="410.30" stroke="#000" stroke-width="1.1"/>
<rect x="479.20" y="458.70" width="5.83" height="27.50" fill="#000000"/>
<line x1="482.12" y1="458.70" x2="482.12" y2="452.65" stroke="#000" stroke-width="1.1"/>
<line x1="480.81" y1="452.65" x2="483.42" y2="452.65" stroke="#000" stroke-width="1.1"/>
<rect x="485.03" y="435.88" width="5.83" height="50.33" fill="#fc0a0a"/>
<line x1="487.94" y1="435.88" x2="487.94" y2="432.57" stroke="#000" stroke-width="1.1"/>
<line x1="486.64" y1="432.57" x2="489.25" y2="432.57" stroke="#000" stroke-width="1.1"/>
<rect x="490.86" y="451.82" width="5.83" height="34.38" fill="#fdbf86"/>
<line x1="493.78" y1="451.82" x2="493.78" y2="447.15" stroke="#000" stroke-width="1.1"/>
<line x1="492.48" y1="447.15" x2="495.08" y2="447.15" stroke="#000" stroke-width="1.1"/>
<rect x="496.69" y="456.50" width="5.83" height="29.70" fill="#0a0af0"/>
<line x1="499.61" y1="456.50" x2="499.61" y2="453.75" stroke="#000" stroke-width="1.1"/>
<line x1="498.31" y1="453.75" x2="500.91" y2="453.75" stroke="#000" stroke-width="1.1"/>
<rect x="502.52" y="444.95" width="5.83" height="41.25" fill="#fb6a12"/>
<line x1="505.44" y1="444.95" x2="505.44" y2="442.75" stroke="#000" stroke-width="1.1"/>
<line x1="504.13" y1="442.75" x2="506.74" y2="442.75" stroke="#000" stroke-width="1.1"/>
<rect x="508.35" y="448.25" width="5.83" height="37.95" fill="#bd5fdc"/>
<line x1="511.26" y1="448.25" x2="511.26" y2="442.75" stroke="#000" stroke-width="1.1"/>
<line x1="509.96" y1="442.75" x2="512.56" y2="442.75" stroke="#000" stroke-width="1.1"/>
<rect x="520.40" y="458.70" width="5.83" height="27.50" fill="#000000"/>
<line x1="523.31" y1="458.70" x2="523.31" y2="454.02" stroke="#000" stroke-width="1.1"/>
<line x1="522.01" y1="454.02" x2="524.61" y2="454.02" stroke="#000" stroke-width="1.1"/>
<rect x="526.23" y="431.20" width="5.83" height="55.00" fill="#fc0a0a"/>
<line x1="529.14" y1="431.20" x2="529.14" y2="427.07" stroke="#000" stroke-width="1.1"/>
<line x1="527.85" y1="427.07" x2="530.44" y2="427.07" stroke="#000" stroke-width="1.1"/>
<rect x="532.06" y="453.75" width="5.83" height="32.45" fill="#fdbf86"/>
<line x1="534.97" y1="453.75" x2="534.97" y2="449.62" stroke="#000" stroke-width="1.1"/>
<line x1="533.67" y1="449.62" x2="536.27" y2="449.62" stroke="#000" stroke-width="1.1"/>
<rect x="537.89" y="455.40" width="5.83" height="30.80" fill="#0a0af0"/>
<line x1="540.80" y1="455.40" x2="540.80" y2="451.27" stroke="#000" stroke-width="1.1"/>
<line x1="539.50" y1="451.27" x2="542.10" y2="451.27" stroke="#000" stroke-width="1.1"/>
<rect x="543.72" y="444.40" width="5.83" height="41.80" fill="#fb6a12"/>
<line x1="546.63" y1="444.40" x2="546.63" y2="441.65" stroke="#000" stroke-width="1.1"/>
<line x1="545.34" y1="441.65" x2="547.93" y2="441.65" stroke="#000" stroke-width="1.1"/>
<rect x="549.55" y="433.95" width="5.83" height="52.25" fill="#bd5fdc"/>
<line x1="552.46" y1="433.95" x2="552.46" y2="426.25" stroke="#000" stroke-width="1.1"/>
<line x1="551.16" y1="426.25" x2="553.76" y2="426.25" stroke="#000" stroke-width="1.1"/>
<line x1="434.90" y1="486.20" x2="558.90" y2="486.20" stroke="#000" stroke-width="1.1"/>
<text x="455.70" y="496.06" text-anchor="middle">Aβ 40</text>
<text x="496.90" y="496.06" text-anchor="middle">Aβ 42</text>
<text x="538.30" y="496.06" text-anchor="middle">Total Aβ</text>
<text transform="translate(401.30,448.00) rotate(-90)" y="2.16" text-anchor="middle">Aβ level</text>
<text transform="translate(409.60,448.10) rotate(-90)" y="2.16" text-anchor="middle">(% of  control)</text>
<polyline points="439.70,419.20 439.70,413.70 447.40,413.70 447.40,419.20" fill="none" stroke="#000" stroke-width="1.0"/>
<text x="444.80" y="412.59" text-anchor="middle" font-size="7.2">**</text>
<polyline points="439.70,407.20 439.70,401.70 471.10,401.70 471.10,407.20" fill="none" stroke="#000" stroke-width="1.0"/>
<text x="455.10" y="400.59" text-anchor="middle" font-size="7.2">**</text>
<polyline points="480.60,430.40 480.60,424.60 488.30,424.60 488.30,430.40" fill="none" stroke="#000" stroke-width="1.0"/>
<text x="485.00" y="423.19" text-anchor="middle" font-size="7.2">*</text>
<polyline points="490.20,430.40 490.20,424.60 506.60,424.60 506.60,430.40" fill="none" stroke="#000" stroke-width="1.0"/>
<text x="498.50" y="423.19" text-anchor="middle" font-size="7.2">*</text>
<polyline points="480.60,416.60 480.60,410.20 511.00,410.20 511.00,416.60" fill="none" stroke="#000" stroke-width="1.0"/>
<text x="494.00" y="408.79" text-anchor="middle" font-size="7.2">*</text>
<polyline points="521.00,424.30 521.00,418.50 529.30,418.50 529.30,424.30" fill="none" stroke="#000" stroke-width="1.0"/>
<text x="525.80" y="416.89" text-anchor="middle" font-size="7.2">*</text>
<polyline points="531.20,424.30 531.20,418.50 547.60,418.50 547.60,424.30" fill="none" stroke="#000" stroke-width="1.0"/>
<text x="538.90" y="416.89" text-anchor="middle" font-size="7.2">*</text>
<polyline points="521.00,413.10 521.00,407.30 551.40,407.30 551.40,413.10" fill="none" stroke="#000" stroke-width="1.0"/>
<text x="535.80" y="405.89" text-anchor="middle" font-size="7.2">*</text>
<text x="5.5" y="516" font-size="11" font-weight="bold">g</text>
<path d="M50.20,492.00 L52.20,486.00 L60.89,518.40 Q61.80,522.40 63.41,515.14 Q67.93,493.81 83.70,491.70" fill="none" stroke="#e8202a" stroke-width="1.1" stroke-linejoin="round"/>
<path d="M50.20,492.60 L52.20,486.60 L61.21,517.42 Q62.20,521.40 63.87,514.54 Q68.65,494.48 83.70,492.50" fill="none" stroke="#f04848" stroke-width="0.8" stroke-linejoin="round"/>
<path d="M50.50,492.00 L52.20,486.00 L61.03,505.77 Q62.20,509.00 64.05,504.70 Q69.51,492.87 83.70,491.70" fill="none" stroke="#111" stroke-width="1.2" stroke-linejoin="round"/>
<text x="61.10" y="529.96" text-anchor="middle">1</text>
<path d="M104.30,490.30 L106.00,487.70 L114.45,511.28 Q116.50,517.60 117.93,512.04 Q121.96,496.17 136.00,494.60" fill="none" stroke="#e8202a" stroke-width="1.1" stroke-linejoin="round"/>
<path d="M104.30,490.90 L106.00,488.30 L114.67,510.34 Q116.90,516.60 118.39,511.44 Q122.63,496.84 136.00,495.40" fill="none" stroke="#f04848" stroke-width="0.8" stroke-linejoin="round"/>
<path d="M104.60,490.30 L106.00,487.70 L114.92,506.31 Q116.30,509.80 118.00,505.97 Q123.00,495.62 136.00,494.60" fill="none" stroke="#111" stroke-width="1.2" stroke-linejoin="round"/>
<text x="115.60" y="529.96" text-anchor="middle">2</text>
<path d="M154.00,491.50 L155.20,489.20 L164.11,511.05 Q165.80,515.80 167.34,510.60 Q171.65,495.86 186.70,494.40" fill="none" stroke="#e8202a" stroke-width="1.1" stroke-linejoin="round"/>
<path d="M154.00,492.10 L155.20,489.80 L164.36,510.12 Q166.20,514.80 167.79,509.99 Q172.35,496.53 186.70,495.20" fill="none" stroke="#f04848" stroke-width="0.8" stroke-linejoin="round"/>
<path d="M154.30,491.50 L155.20,489.20 L164.50,506.67 Q166.00,510.10 167.78,506.16 Q173.04,495.46 186.70,494.40" fill="none" stroke="#111" stroke-width="1.2" stroke-linejoin="round"/>
<text x="165.20" y="529.96" text-anchor="middle">3</text>
<path d="M207.30,493.70 L208.00,493.20 L215.43,512.02 Q216.60,515.60 218.15,511.41 Q222.51,499.93 237.70,498.80" fill="none" stroke="#e8202a" stroke-width="1.1" stroke-linejoin="round"/>
<path d="M207.30,494.30 L208.00,493.80 L215.70,511.08 Q217.00,514.60 218.61,510.81 Q223.21,500.61 237.70,499.60" fill="none" stroke="#f04848" stroke-width="0.8" stroke-linejoin="round"/>
<path d="M207.60,493.70 L208.00,493.20 L215.48,511.34 Q216.70,514.90 218.51,510.87 Q223.84,499.88 237.70,498.80" fill="none" stroke="#111" stroke-width="1.2" stroke-linejoin="round"/>
<text x="216.70" y="529.96" text-anchor="middle">4</text>
<path d="M251.60,492.80 L252.50,491.80 L260.84,511.28 Q262.60,516.00 264.09,510.66 Q268.28,495.50 282.90,494.00" fill="none" stroke="#e8202a" stroke-width="1.1" stroke-linejoin="round"/>
<path d="M251.60,493.40 L252.50,492.40 L261.07,510.36 Q263.00,515.00 264.55,510.06 Q268.97,496.17 282.90,494.80" fill="none" stroke="#f04848" stroke-width="0.8" stroke-linejoin="round"/>
<path d="M251.90,492.80 L252.50,491.80 L261.20,506.93 Q262.80,510.30 264.53,506.22 Q269.63,495.10 282.90,494.00" fill="none" stroke="#111" stroke-width="1.2" stroke-linejoin="round"/>
<text x="262.80" y="529.96" text-anchor="middle">5</text>
<polyline points="299.70,502.40 299.70,518.70 282.30,518.70" fill="none" stroke="#000" stroke-width="1.5"/>
<text transform="translate(307.00,510.30) rotate(-90)" y="2.16" text-anchor="middle">1 mV</text>
<text x="290.50" y="528.06" text-anchor="middle">10 ms</text>
<line x1="28.20" y1="541.30" x2="38.60" y2="541.30" stroke="#000" stroke-width="0.9" stroke-dasharray="0.8,1.7"/>
<path d="M33.60,539.20 L35.70,542.98 L31.50,542.98 Z" fill="#fff" stroke="#000" stroke-width="0.88"/>
<text x="43.00" y="543.46">WT-Ct</text>
<line x1="28.20" y1="555.00" x2="38.70" y2="555.00" stroke="#e8101a" stroke-width="0.9" stroke-dasharray="1.8,0.9"/>
<path d="M31.30,553.32 L35.50,553.32 L33.40,557.10 Z" fill="#e8101a"/>
<text x="43.00" y="557.16">WT-C/EBPβ OE</text>
<line x1="114.30" y1="541.30" x2="122.50" y2="541.30" stroke="#f39a3c" stroke-width="0.9" stroke-dasharray="2,1"/>
<circle cx="119.40" cy="541.30" r="1.99" fill="#fff" stroke="#f39a3c" stroke-width="1.05"/>
<text x="128.00" y="543.46">3xTg-Ct</text>
<line x1="113.90" y1="555.60" x2="124.90" y2="555.60" stroke="#1414c8" stroke-width="0.9"/>
<circle cx="119.40" cy="555.60" r="1.99" fill="#1414c8"/>
<text x="128.00" y="557.76">3xTg-C/EBPβ OE</text>
<line x1="221.20" y1="539.60" x2="229.80" y2="539.60" stroke="#f0701e" stroke-width="0.9" stroke-dasharray="2,1"/>
<path d="M225.30,537.29 L227.61,539.60 L225.30,541.91 L222.99,539.60 Z" fill="#f0701e"/>
<text x="233.00" y="541.76">3xTg-C/EBPβ+AEP C189S</text>
<line x1="33.50" y1="569.50" x2="33.50" y2="652.10" stroke="#000" stroke-width="1.0"/>
<line x1="31.50" y1="651.60" x2="33.50" y2="651.60" stroke="#000" stroke-width="0.8"/>
<text x="29.20" y="653.76" text-anchor="end">100</text>
<line x1="31.50" y1="610.80" x2="33.50" y2="610.80" stroke="#000" stroke-width="0.8"/>
<text x="29.20" y="612.96" text-anchor="end">150</text>
<line x1="31.50" y1="570.00" x2="33.50" y2="570.00" stroke="#000" stroke-width="0.8"/>
<text x="29.20" y="572.16" text-anchor="end">200</text>
<line x1="33.00" y1="651.60" x2="116.10" y2="651.60" stroke="#000" stroke-width="1.0"/>
<line x1="35.70" y1="651.60" x2="35.70" y2="653.60" stroke="#000" stroke-width="0.8"/>
<text x="35.70" y="663.76" text-anchor="middle">0</text>
<line x1="51.34" y1="651.60" x2="51.34" y2="653.60" stroke="#000" stroke-width="0.8"/>
<text x="51.34" y="663.76" text-anchor="middle">100</text>
<line x1="66.98" y1="651.60" x2="66.98" y2="653.60" stroke="#000" stroke-width="0.8"/>
<text x="66.98" y="663.76" text-anchor="middle">200</text>
<line x1="82.62" y1="651.60" x2="82.62" y2="653.60" stroke="#000" stroke-width="0.8"/>
<text x="82.62" y="663.76" text-anchor="middle">300</text>
<line x1="98.26" y1="651.60" x2="98.26" y2="653.60" stroke="#000" stroke-width="0.8"/>
<text x="98.26" y="663.76" text-anchor="middle">400</text>
<line x1="113.90" y1="651.60" x2="113.90" y2="653.60" stroke="#000" stroke-width="0.8"/>
<text x="113.90" y="663.76" text-anchor="middle">500</text>
<text x="74.80" y="672.06" text-anchor="middle">Pulse interval (ms)</text>
<text transform="translate(8.90,610.30) rotate(-90)" y="2.16" text-anchor="middle">Paired pulse ratio (%)</text>
<polyline points="38.83,579.79 43.52,586.32 51.34,604.27 66.98,620.59 113.90,651.60" fill="none" stroke="#000" stroke-width="0.8"/>
<line x1="38.83" y1="575.71" x2="38.83" y2="583.87" stroke="#000" stroke-width="0.7"/>
<line x1="37.93" y1="575.71" x2="39.73" y2="575.71" stroke="#000" stroke-width="0.7"/>
<line x1="37.93" y1="583.87" x2="39.73" y2="583.87" stroke="#000" stroke-width="0.7"/>
<line x1="43.52" y1="581.42" x2="43.52" y2="591.22" stroke="#000" stroke-width="0.7"/>
<line x1="42.62" y1="581.42" x2="44.42" y2="581.42" stroke="#000" stroke-width="0.7"/>
<line x1="42.62" y1="591.22" x2="44.42" y2="591.22" stroke="#000" stroke-width="0.7"/>
<line x1="51.34" y1="599.38" x2="51.34" y2="609.17" stroke="#000" stroke-width="0.7"/>
<line x1="50.44" y1="599.38" x2="52.24" y2="599.38" stroke="#000" stroke-width="0.7"/>
<line x1="50.44" y1="609.17" x2="52.24" y2="609.17" stroke="#000" stroke-width="0.7"/>
<line x1="66.98" y1="614.88" x2="66.98" y2="626.30" stroke="#000" stroke-width="0.7"/>
<line x1="66.08" y1="614.88" x2="67.88" y2="614.88" stroke="#000" stroke-width="0.7"/>
<line x1="66.08" y1="626.30" x2="67.88" y2="626.30" stroke="#000" stroke-width="0.7"/>
<path d="M38.83,578.39 L40.23,580.91 L37.43,580.91 Z" fill="#fff" stroke="#000" stroke-width="0.59"/>
<path d="M43.52,584.92 L44.92,587.44 L42.12,587.44 Z" fill="#fff" stroke="#000" stroke-width="0.59"/>
<path d="M51.34,602.87 L52.74,605.39 L49.94,605.39 Z" fill="#fff" stroke="#000" stroke-width="0.59"/>
<path d="M66.98,619.19 L68.38,621.71 L65.58,621.71 Z" fill="#fff" stroke="#000" stroke-width="0.59"/>
<path d="M113.90,650.20 L115.30,652.72 L112.50,652.72 Z" fill="#fff" stroke="#000" stroke-width="0.59"/>
<polyline points="38.83,586.32 43.52,596.11 51.34,617.33 66.98,629.57 113.90,651.60" fill="none" stroke="#e8101a" stroke-width="0.8"/>
<line x1="38.83" y1="582.24" x2="38.83" y2="590.40" stroke="#e8101a" stroke-width="0.7"/>
<line x1="37.93" y1="582.24" x2="39.73" y2="582.24" stroke="#e8101a" stroke-width="0.7"/>
<line x1="37.93" y1="590.40" x2="39.73" y2="590.40" stroke="#e8101a" stroke-width="0.7"/>
<line x1="43.52" y1="592.03" x2="43.52" y2="600.19" stroke="#e8101a" stroke-width="0.7"/>
<line x1="42.62" y1="592.03" x2="44.42" y2="592.03" stroke="#e8101a" stroke-width="0.7"/>
<line x1="42.62" y1="600.19" x2="44.42" y2="600.19" stroke="#e8101a" stroke-width="0.7"/>
<line x1="51.34" y1="613.25" x2="51.34" y2="621.41" stroke="#e8101a" stroke-width="0.7"/>
<line x1="50.44" y1="613.25" x2="52.24" y2="613.25" stroke="#e8101a" stroke-width="0.7"/>
<line x1="50.44" y1="621.41" x2="52.24" y2="621.41" stroke="#e8101a" stroke-width="0.7"/>
<line x1="66.98" y1="627.12" x2="66.98" y2="632.02" stroke="#e8101a" stroke-width="0.7"/>
<line x1="66.08" y1="627.12" x2="67.88" y2="627.12" stroke="#e8101a" stroke-width="0.7"/>
<line x1="66.08" y1="632.02" x2="67.88" y2="632.02" stroke="#e8101a" stroke-width="0.7"/>
<path d="M37.43,585.20 L40.23,585.20 L38.83,587.72 Z" fill="#e8101a"/>
<path d="M42.12,594.99 L44.92,594.99 L43.52,597.51 Z" fill="#e8101a"/>
<path d="M49.94,616.21 L52.74,616.21 L51.34,618.73 Z" fill="#e8101a"/>
<path d="M65.58,628.45 L68.38,628.45 L66.98,630.97 Z" fill="#e8101a"/>
<path d="M112.50,650.48 L115.30,650.48 L113.90,653.00 Z" fill="#e8101a"/>
<polyline points="38.83,577.34 43.52,605.09 51.34,619.78 66.98,631.20 113.90,651.60" fill="none" stroke="#f39a3c" stroke-width="0.8"/>
<line x1="38.83" y1="570.82" x2="38.83" y2="583.87" stroke="#f39a3c" stroke-width="0.7"/>
<line x1="37.93" y1="570.82" x2="39.73" y2="570.82" stroke="#f39a3c" stroke-width="0.7"/>
<line x1="37.93" y1="583.87" x2="39.73" y2="583.87" stroke="#f39a3c" stroke-width="0.7"/>
<line x1="43.52" y1="601.01" x2="43.52" y2="609.17" stroke="#f39a3c" stroke-width="0.7"/>
<line x1="42.62" y1="601.01" x2="44.42" y2="601.01" stroke="#f39a3c" stroke-width="0.7"/>
<line x1="42.62" y1="609.17" x2="44.42" y2="609.17" stroke="#f39a3c" stroke-width="0.7"/>
<line x1="51.34" y1="615.70" x2="51.34" y2="623.86" stroke="#f39a3c" stroke-width="0.7"/>
<line x1="50.44" y1="615.70" x2="52.24" y2="615.70" stroke="#f39a3c" stroke-width="0.7"/>
<line x1="50.44" y1="623.86" x2="52.24" y2="623.86" stroke="#f39a3c" stroke-width="0.7"/>
<line x1="66.98" y1="628.75" x2="66.98" y2="633.65" stroke="#f39a3c" stroke-width="0.7"/>
<line x1="66.08" y1="628.75" x2="67.88" y2="628.75" stroke="#f39a3c" stroke-width="0.7"/>
<line x1="66.08" y1="633.65" x2="67.88" y2="633.65" stroke="#f39a3c" stroke-width="0.7"/>
<circle cx="38.83" cy="577.34" r="1.33" fill="#fff" stroke="#f39a3c" stroke-width="0.70"/>
<circle cx="43.52" cy="605.09" r="1.33" fill="#fff" stroke="#f39a3c" stroke-width="0.70"/>
<circle cx="51.34" cy="619.78" r="1.33" fill="#fff" stroke="#f39a3c" stroke-width="0.70"/>
<circle cx="66.98" cy="631.20" r="1.33" fill="#fff" stroke="#f39a3c" stroke-width="0.70"/>
<circle cx="113.90" cy="651.60" r="1.33" fill="#fff" stroke="#f39a3c" stroke-width="0.70"/>
<polyline points="38.83,582.24 43.52,610.80 51.34,623.86 66.98,633.65 113.90,651.60" fill="none" stroke="#f0701e" stroke-width="0.8"/>
<line x1="38.83" y1="577.34" x2="38.83" y2="587.14" stroke="#f0701e" stroke-width="0.7"/>
<line x1="37.93" y1="577.34" x2="39.73" y2="577.34" stroke="#f0701e" stroke-width="0.7"/>
<line x1="37.93" y1="587.14" x2="39.73" y2="587.14" stroke="#f0701e" stroke-width="0.7"/>
<line x1="43.52" y1="606.72" x2="43.52" y2="614.88" stroke="#f0701e" stroke-width="0.7"/>
<line x1="42.62" y1="606.72" x2="44.42" y2="606.72" stroke="#f0701e" stroke-width="0.7"/>
<line x1="42.62" y1="614.88" x2="44.42" y2="614.88" stroke="#f0701e" stroke-width="0.7"/>
<line x1="51.34" y1="620.59" x2="51.34" y2="627.12" stroke="#f0701e" stroke-width="0.7"/>
<line x1="50.44" y1="620.59" x2="52.24" y2="620.59" stroke="#f0701e" stroke-width="0.7"/>
<line x1="50.44" y1="627.12" x2="52.24" y2="627.12" stroke="#f0701e" stroke-width="0.7"/>
<line x1="66.98" y1="631.20" x2="66.98" y2="636.10" stroke="#f0701e" stroke-width="0.7"/>
<line x1="66.08" y1="631.20" x2="67.88" y2="631.20" stroke="#f0701e" stroke-width="0.7"/>
<line x1="66.08" y1="636.10" x2="67.88" y2="636.10" stroke="#f0701e" stroke-width="0.7"/>
<path d="M38.83,580.70 L40.37,582.24 L38.83,583.78 L37.29,582.24 Z" fill="#f0701e"/>
<path d="M43.52,609.26 L45.06,610.80 L43.52,612.34 L41.98,610.80 Z" fill="#f0701e"/>
<path d="M51.34,622.32 L52.88,623.86 L51.34,625.40 L49.80,623.86 Z" fill="#f0701e"/>
<path d="M66.98,632.11 L68.52,633.65 L66.98,635.19 L65.44,633.65 Z" fill="#f0701e"/>
<path d="M113.90,650.06 L115.44,651.60 L113.90,653.14 L112.36,651.60 Z" fill="#f0701e"/>
<polyline points="38.83,613.25 43.52,623.04 51.34,628.75 66.98,636.10 113.90,651.60" fill="none" stroke="#1414c8" stroke-width="0.8"/>
<line x1="38.83" y1="608.35" x2="38.83" y2="618.14" stroke="#1414c8" stroke-width="0.7"/>
<line x1="37.93" y1="608.35" x2="39.73" y2="608.35" stroke="#1414c8" stroke-width="0.7"/>
<line x1="37.93" y1="618.14" x2="39.73" y2="618.14" stroke="#1414c8" stroke-width="0.7"/>
<line x1="43.52" y1="620.59" x2="43.52" y2="625.49" stroke="#1414c8" stroke-width="0.7"/>
<line x1="42.62" y1="620.59" x2="44.42" y2="620.59" stroke="#1414c8" stroke-width="0.7"/>
<line x1="42.62" y1="625.49" x2="44.42" y2="625.49" stroke="#1414c8" stroke-width="0.7"/>
<line x1="51.34" y1="626.30" x2="51.34" y2="631.20" stroke="#1414c8" stroke-width="0.7"/>
<line x1="50.44" y1="626.30" x2="52.24" y2="626.30" stroke="#1414c8" stroke-width="0.7"/>
<line x1="50.44" y1="631.20" x2="52.24" y2="631.20" stroke="#1414c8" stroke-width="0.7"/>
<line x1="66.98" y1="634.46" x2="66.98" y2="637.73" stroke="#1414c8" stroke-width="0.7"/>
<line x1="66.08" y1="634.46" x2="67.88" y2="634.46" stroke="#1414c8" stroke-width="0.7"/>
<line x1="66.08" y1="637.73" x2="67.88" y2="637.73" stroke="#1414c8" stroke-width="0.7"/>
<circle cx="38.83" cy="613.25" r="1.33" fill="#1414c8"/>
<circle cx="43.52" cy="623.04" r="1.33" fill="#1414c8"/>
<circle cx="51.34" cy="628.75" r="1.33" fill="#1414c8"/>
<circle cx="66.98" cy="636.10" r="1.33" fill="#1414c8"/>
<circle cx="113.90" cy="651.60" r="1.33" fill="#1414c8"/>
<text x="36.90" y="635.36" text-anchor="middle">*</text>
<text x="38.00" y="640.40" text-anchor="middle" font-size="5">#</text>
<text x="42.00" y="643.36" text-anchor="middle">*</text>
<text x="41.30" y="647.80" text-anchor="middle" font-size="5">#</text>
<line x1="162.10" y1="573.50" x2="162.10" y2="653.40" stroke="#000" stroke-width="1.0"/>
<line x1="160.10" y1="652.90" x2="162.10" y2="652.90" stroke="#000" stroke-width="0.8"/>
<text x="157.90" y="655.06" text-anchor="end">50</text>
<line x1="160.10" y1="626.60" x2="162.10" y2="626.60" stroke="#000" stroke-width="0.8"/>
<text x="157.90" y="628.76" text-anchor="end">100</text>
<line x1="160.10" y1="600.30" x2="162.10" y2="600.30" stroke="#000" stroke-width="0.8"/>
<text x="157.90" y="602.46" text-anchor="end">150</text>
<line x1="160.10" y1="574.00" x2="162.10" y2="574.00" stroke="#000" stroke-width="0.8"/>
<text x="157.90" y="576.16" text-anchor="end">200</text>
<line x1="161.60" y1="652.90" x2="291.50" y2="652.90" stroke="#000" stroke-width="1.0"/>
<line x1="162.70" y1="652.90" x2="162.70" y2="654.90" stroke="#000" stroke-width="0.8"/>
<text x="162.70" y="662.96" text-anchor="middle">0</text>
<line x1="176.91" y1="652.90" x2="176.91" y2="654.90" stroke="#000" stroke-width="0.8"/>
<text x="176.91" y="662.96" text-anchor="middle">10</text>
<line x1="191.12" y1="652.90" x2="191.12" y2="654.90" stroke="#000" stroke-width="0.8"/>
<text x="191.12" y="662.96" text-anchor="middle">20</text>
<line x1="205.33" y1="652.90" x2="205.33" y2="654.90" stroke="#000" stroke-width="0.8"/>
<text x="205.33" y="662.96" text-anchor="middle">30</text>
<line x1="219.54" y1="652.90" x2="219.54" y2="654.90" stroke="#000" stroke-width="0.8"/>
<text x="219.54" y="662.96" text-anchor="middle">40</text>
<line x1="233.75" y1="652.90" x2="233.75" y2="654.90" stroke="#000" stroke-width="0.8"/>
<text x="233.75" y="662.96" text-anchor="middle">50</text>
<line x1="247.96" y1="652.90" x2="247.96" y2="654.90" stroke="#000" stroke-width="0.8"/>
<text x="247.96" y="662.96" text-anchor="middle">60</text>
<line x1="262.17" y1="652.90" x2="262.17" y2="654.90" stroke="#000" stroke-width="0.8"/>
<text x="262.17" y="662.96" text-anchor="middle">70</text>
<line x1="276.38" y1="652.90" x2="276.38" y2="654.90" stroke="#000" stroke-width="0.8"/>
<text x="276.38" y="662.96" text-anchor="middle">80</text>
<line x1="290.59" y1="652.90" x2="290.59" y2="654.90" stroke="#000" stroke-width="0.8"/>
<text x="290.59" y="662.96" text-anchor="middle">90</text>
<text x="226.40" y="673.16" text-anchor="middle">Time (min)</text>
<text transform="translate(137.60,613.60) rotate(-90)" y="2.16" text-anchor="middle">fEPSP slope (% of baseline)</text>
<text x="200.10" y="584.06" text-anchor="middle">TBS</text>
<line x1="204.50" y1="590.70" x2="204.50" y2="606.50" stroke="#000" stroke-width="0.9"/>
<path d="M202.9,605 L206.1,605 L204.5,609 Z" fill="#000"/>
<line x1="169.80" y1="624.20" x2="169.80" y2="629.00" stroke="#804020" stroke-width="0.7"/>
<rect x="168.27" y="625.07" width="3.06" height="3.06" fill="#f07a22"/>
<line x1="176.91" y1="624.20" x2="176.91" y2="629.00" stroke="#804020" stroke-width="0.7"/>
<rect x="175.38" y="625.07" width="3.06" height="3.06" fill="#f07a22"/>
<line x1="184.01" y1="624.20" x2="184.01" y2="629.00" stroke="#804020" stroke-width="0.7"/>
<rect x="182.48" y="625.07" width="3.06" height="3.06" fill="#f07a22"/>
<line x1="191.12" y1="624.20" x2="191.12" y2="629.00" stroke="#804020" stroke-width="0.7"/>
<rect x="189.59" y="625.07" width="3.06" height="3.06" fill="#f07a22"/>
<line x1="198.22" y1="624.20" x2="198.22" y2="629.00" stroke="#804020" stroke-width="0.7"/>
<rect x="196.69" y="625.07" width="3.06" height="3.06" fill="#f07a22"/>
<line x1="212.44" y1="582.42" x2="212.44" y2="586.62" stroke="#000" stroke-width="0.7"/>
<line x1="211.53" y1="582.42" x2="213.34" y2="582.42" stroke="#000" stroke-width="0.7"/>
<line x1="211.53" y1="586.62" x2="213.34" y2="586.62" stroke="#000" stroke-width="0.7"/>
<line x1="219.54" y1="587.68" x2="219.54" y2="591.88" stroke="#000" stroke-width="0.7"/>
<line x1="218.64" y1="587.68" x2="220.44" y2="587.68" stroke="#000" stroke-width="0.7"/>
<line x1="218.64" y1="591.88" x2="220.44" y2="591.88" stroke="#000" stroke-width="0.7"/>
<line x1="226.64" y1="592.94" x2="226.64" y2="597.14" stroke="#000" stroke-width="0.7"/>
<line x1="225.74" y1="592.94" x2="227.54" y2="592.94" stroke="#000" stroke-width="0.7"/>
<line x1="225.74" y1="597.14" x2="227.54" y2="597.14" stroke="#000" stroke-width="0.7"/>
<line x1="233.75" y1="597.14" x2="233.75" y2="601.35" stroke="#000" stroke-width="0.7"/>
<line x1="232.85" y1="597.14" x2="234.65" y2="597.14" stroke="#000" stroke-width="0.7"/>
<line x1="232.85" y1="601.35" x2="234.65" y2="601.35" stroke="#000" stroke-width="0.7"/>
<line x1="240.85" y1="599.25" x2="240.85" y2="603.46" stroke="#000" stroke-width="0.7"/>
<line x1="239.95" y1="599.25" x2="241.75" y2="599.25" stroke="#000" stroke-width="0.7"/>
<line x1="239.95" y1="603.46" x2="241.75" y2="603.46" stroke="#000" stroke-width="0.7"/>
<line x1="247.96" y1="599.25" x2="247.96" y2="603.46" stroke="#000" stroke-width="0.7"/>
<line x1="247.06" y1="599.25" x2="248.86" y2="599.25" stroke="#000" stroke-width="0.7"/>
<line x1="247.06" y1="603.46" x2="248.86" y2="603.46" stroke="#000" stroke-width="0.7"/>
<line x1="255.06" y1="599.25" x2="255.06" y2="603.46" stroke="#000" stroke-width="0.7"/>
<line x1="254.16" y1="599.25" x2="255.97" y2="599.25" stroke="#000" stroke-width="0.7"/>
<line x1="254.16" y1="603.46" x2="255.97" y2="603.46" stroke="#000" stroke-width="0.7"/>
<line x1="262.17" y1="599.25" x2="262.17" y2="603.46" stroke="#000" stroke-width="0.7"/>
<line x1="261.27" y1="599.25" x2="263.07" y2="599.25" stroke="#000" stroke-width="0.7"/>
<line x1="261.27" y1="603.46" x2="263.07" y2="603.46" stroke="#000" stroke-width="0.7"/>
<line x1="269.27" y1="599.25" x2="269.27" y2="603.46" stroke="#000" stroke-width="0.7"/>
<line x1="268.38" y1="599.25" x2="270.17" y2="599.25" stroke="#000" stroke-width="0.7"/>
<line x1="268.38" y1="603.46" x2="270.17" y2="603.46" stroke="#000" stroke-width="0.7"/>
<line x1="276.38" y1="599.25" x2="276.38" y2="603.46" stroke="#000" stroke-width="0.7"/>
<line x1="275.48" y1="599.25" x2="277.28" y2="599.25" stroke="#000" stroke-width="0.7"/>
<line x1="275.48" y1="603.46" x2="277.28" y2="603.46" stroke="#000" stroke-width="0.7"/>
<line x1="283.49" y1="599.25" x2="283.49" y2="603.46" stroke="#000" stroke-width="0.7"/>
<line x1="282.59" y1="599.25" x2="284.38" y2="599.25" stroke="#000" stroke-width="0.7"/>
<line x1="282.59" y1="603.46" x2="284.38" y2="603.46" stroke="#000" stroke-width="0.7"/>
<line x1="290.59" y1="599.77" x2="290.59" y2="603.98" stroke="#000" stroke-width="0.7"/>
<line x1="289.69" y1="599.77" x2="291.49" y2="599.77" stroke="#000" stroke-width="0.7"/>
<line x1="289.69" y1="603.98" x2="291.49" y2="603.98" stroke="#000" stroke-width="0.7"/>
<path d="M212.44,582.92 L214.03,585.80 L210.84,585.80 Z" fill="#fff" stroke="#000" stroke-width="0.67"/>
<path d="M219.54,588.18 L221.14,591.06 L217.94,591.06 Z" fill="#fff" stroke="#000" stroke-width="0.67"/>
<path d="M226.64,593.44 L228.24,596.32 L225.04,596.32 Z" fill="#fff" stroke="#000" stroke-width="0.67"/>
<path d="M233.75,597.65 L235.35,600.53 L232.15,600.53 Z" fill="#fff" stroke="#000" stroke-width="0.67"/>
<path d="M240.85,599.75 L242.45,602.63 L239.25,602.63 Z" fill="#fff" stroke="#000" stroke-width="0.67"/>
<path d="M247.96,599.75 L249.56,602.63 L246.36,602.63 Z" fill="#fff" stroke="#000" stroke-width="0.67"/>
<path d="M255.06,599.75 L256.67,602.63 L253.47,602.63 Z" fill="#fff" stroke="#000" stroke-width="0.67"/>
<path d="M262.17,599.75 L263.77,602.63 L260.57,602.63 Z" fill="#fff" stroke="#000" stroke-width="0.67"/>
<path d="M269.27,599.75 L270.88,602.63 L267.67,602.63 Z" fill="#fff" stroke="#000" stroke-width="0.67"/>
<path d="M276.38,599.75 L277.98,602.63 L274.78,602.63 Z" fill="#fff" stroke="#000" stroke-width="0.67"/>
<path d="M283.49,599.75 L285.09,602.63 L281.88,602.63 Z" fill="#fff" stroke="#000" stroke-width="0.67"/>
<path d="M290.59,600.28 L292.19,603.16 L288.99,603.16 Z" fill="#fff" stroke="#000" stroke-width="0.67"/>
<line x1="212.44" y1="588.73" x2="212.44" y2="595.04" stroke="#e8101a" stroke-width="0.7"/>
<line x1="211.53" y1="588.73" x2="213.34" y2="588.73" stroke="#e8101a" stroke-width="0.7"/>
<line x1="211.53" y1="595.04" x2="213.34" y2="595.04" stroke="#e8101a" stroke-width="0.7"/>
<line x1="219.54" y1="597.14" x2="219.54" y2="603.46" stroke="#e8101a" stroke-width="0.7"/>
<line x1="218.64" y1="597.14" x2="220.44" y2="597.14" stroke="#e8101a" stroke-width="0.7"/>
<line x1="218.64" y1="603.46" x2="220.44" y2="603.46" stroke="#e8101a" stroke-width="0.7"/>
<line x1="226.64" y1="601.88" x2="226.64" y2="608.19" stroke="#e8101a" stroke-width="0.7"/>
<line x1="225.74" y1="601.88" x2="227.54" y2="601.88" stroke="#e8101a" stroke-width="0.7"/>
<line x1="225.74" y1="608.19" x2="227.54" y2="608.19" stroke="#e8101a" stroke-width="0.7"/>
<line x1="233.75" y1="605.03" x2="233.75" y2="611.35" stroke="#e8101a" stroke-width="0.7"/>
<line x1="232.85" y1="605.03" x2="234.65" y2="605.03" stroke="#e8101a" stroke-width="0.7"/>
<line x1="232.85" y1="611.35" x2="234.65" y2="611.35" stroke="#e8101a" stroke-width="0.7"/>
<line x1="240.85" y1="606.09" x2="240.85" y2="612.40" stroke="#e8101a" stroke-width="0.7"/>
<line x1="239.95" y1="606.09" x2="241.75" y2="606.09" stroke="#e8101a" stroke-width="0.7"/>
<line x1="239.95" y1="612.40" x2="241.75" y2="612.40" stroke="#e8101a" stroke-width="0.7"/>
<line x1="247.96" y1="606.09" x2="247.96" y2="612.40" stroke="#e8101a" stroke-width="0.7"/>
<line x1="247.06" y1="606.09" x2="248.86" y2="606.09" stroke="#e8101a" stroke-width="0.7"/>
<line x1="247.06" y1="612.40" x2="248.86" y2="612.40" stroke="#e8101a" stroke-width="0.7"/>
<line x1="255.06" y1="606.09" x2="255.06" y2="612.40" stroke="#e8101a" stroke-width="0.7"/>
<line x1="254.16" y1="606.09" x2="255.97" y2="606.09" stroke="#e8101a" stroke-width="0.7"/>
<line x1="254.16" y1="612.40" x2="255.97" y2="612.40" stroke="#e8101a" stroke-width="0.7"/>
<line x1="262.17" y1="606.09" x2="262.17" y2="612.40" stroke="#e8101a" stroke-width="0.7"/>
<line x1="261.27" y1="606.09" x2="263.07" y2="606.09" stroke="#e8101a" stroke-width="0.7"/>
<line x1="261.27" y1="612.40" x2="263.07" y2="612.40" stroke="#e8101a" stroke-width="0.7"/>
<line x1="269.27" y1="606.09" x2="269.27" y2="612.40" stroke="#e8101a" stroke-width="0.7"/>
<line x1="268.38" y1="606.09" x2="270.17" y2="606.09" stroke="#e8101a" stroke-width="0.7"/>
<line x1="268.38" y1="612.40" x2="270.17" y2="612.40" stroke="#e8101a" stroke-width="0.7"/>
<line x1="276.38" y1="606.09" x2="276.38" y2="612.40" stroke="#e8101a" stroke-width="0.7"/>
<line x1="275.48" y1="606.09" x2="277.28" y2="606.09" stroke="#e8101a" stroke-width="0.7"/>
<line x1="275.48" y1="612.40" x2="277.28" y2="612.40" stroke="#e8101a" stroke-width="0.7"/>
<line x1="283.49" y1="606.09" x2="283.49" y2="612.40" stroke="#e8101a" stroke-width="0.7"/>
<line x1="282.59" y1="606.09" x2="284.38" y2="606.09" stroke="#e8101a" stroke-width="0.7"/>
<line x1="282.59" y1="612.40" x2="284.38" y2="612.40" stroke="#e8101a" stroke-width="0.7"/>
<line x1="290.59" y1="606.61" x2="290.59" y2="612.92" stroke="#e8101a" stroke-width="0.7"/>
<line x1="289.69" y1="606.61" x2="291.49" y2="606.61" stroke="#e8101a" stroke-width="0.7"/>
<line x1="289.69" y1="612.92" x2="291.49" y2="612.92" stroke="#e8101a" stroke-width="0.7"/>
<path d="M210.84,590.60 L214.03,590.60 L212.44,593.48 Z" fill="#e8101a"/>
<path d="M217.94,599.02 L221.14,599.02 L219.54,601.90 Z" fill="#e8101a"/>
<path d="M225.04,603.75 L228.24,603.75 L226.64,606.63 Z" fill="#e8101a"/>
<path d="M232.15,606.91 L235.35,606.91 L233.75,609.79 Z" fill="#e8101a"/>
<path d="M239.25,607.96 L242.45,607.96 L240.85,610.84 Z" fill="#e8101a"/>
<path d="M246.36,607.96 L249.56,607.96 L247.96,610.84 Z" fill="#e8101a"/>
<path d="M253.47,607.96 L256.67,607.96 L255.06,610.84 Z" fill="#e8101a"/>
<path d="M260.57,607.96 L263.77,607.96 L262.17,610.84 Z" fill="#e8101a"/>
<path d="M267.67,607.96 L270.88,607.96 L269.27,610.84 Z" fill="#e8101a"/>
<path d="M274.78,607.96 L277.98,607.96 L276.38,610.84 Z" fill="#e8101a"/>
<path d="M281.88,607.96 L285.09,607.96 L283.49,610.84 Z" fill="#e8101a"/>
<path d="M288.99,608.49 L292.19,608.49 L290.59,611.37 Z" fill="#e8101a"/>
<line x1="212.44" y1="597.14" x2="212.44" y2="603.46" stroke="#f39a3c" stroke-width="0.7"/>
<line x1="211.53" y1="597.14" x2="213.34" y2="597.14" stroke="#f39a3c" stroke-width="0.7"/>
<line x1="211.53" y1="603.46" x2="213.34" y2="603.46" stroke="#f39a3c" stroke-width="0.7"/>
<line x1="219.54" y1="603.46" x2="219.54" y2="609.77" stroke="#f39a3c" stroke-width="0.7"/>
<line x1="218.64" y1="603.46" x2="220.44" y2="603.46" stroke="#f39a3c" stroke-width="0.7"/>
<line x1="218.64" y1="609.77" x2="220.44" y2="609.77" stroke="#f39a3c" stroke-width="0.7"/>
<line x1="226.64" y1="606.61" x2="226.64" y2="612.92" stroke="#f39a3c" stroke-width="0.7"/>
<line x1="225.74" y1="606.61" x2="227.54" y2="606.61" stroke="#f39a3c" stroke-width="0.7"/>
<line x1="225.74" y1="612.92" x2="227.54" y2="612.92" stroke="#f39a3c" stroke-width="0.7"/>
<line x1="233.75" y1="607.66" x2="233.75" y2="613.98" stroke="#f39a3c" stroke-width="0.7"/>
<line x1="232.85" y1="607.66" x2="234.65" y2="607.66" stroke="#f39a3c" stroke-width="0.7"/>
<line x1="232.85" y1="613.98" x2="234.65" y2="613.98" stroke="#f39a3c" stroke-width="0.7"/>
<line x1="240.85" y1="608.19" x2="240.85" y2="614.50" stroke="#f39a3c" stroke-width="0.7"/>
<line x1="239.95" y1="608.19" x2="241.75" y2="608.19" stroke="#f39a3c" stroke-width="0.7"/>
<line x1="239.95" y1="614.50" x2="241.75" y2="614.50" stroke="#f39a3c" stroke-width="0.7"/>
<line x1="247.96" y1="608.19" x2="247.96" y2="614.50" stroke="#f39a3c" stroke-width="0.7"/>
<line x1="247.06" y1="608.19" x2="248.86" y2="608.19" stroke="#f39a3c" stroke-width="0.7"/>
<line x1="247.06" y1="614.50" x2="248.86" y2="614.50" stroke="#f39a3c" stroke-width="0.7"/>
<line x1="255.06" y1="608.19" x2="255.06" y2="614.50" stroke="#f39a3c" stroke-width="0.7"/>
<line x1="254.16" y1="608.19" x2="255.97" y2="608.19" stroke="#f39a3c" stroke-width="0.7"/>
<line x1="254.16" y1="614.50" x2="255.97" y2="614.50" stroke="#f39a3c" stroke-width="0.7"/>
<line x1="262.17" y1="608.72" x2="262.17" y2="615.03" stroke="#f39a3c" stroke-width="0.7"/>
<line x1="261.27" y1="608.72" x2="263.07" y2="608.72" stroke="#f39a3c" stroke-width="0.7"/>
<line x1="261.27" y1="615.03" x2="263.07" y2="615.03" stroke="#f39a3c" stroke-width="0.7"/>
<line x1="269.27" y1="608.72" x2="269.27" y2="615.03" stroke="#f39a3c" stroke-width="0.7"/>
<line x1="268.38" y1="608.72" x2="270.17" y2="608.72" stroke="#f39a3c" stroke-width="0.7"/>
<line x1="268.38" y1="615.03" x2="270.17" y2="615.03" stroke="#f39a3c" stroke-width="0.7"/>
<line x1="276.38" y1="608.72" x2="276.38" y2="615.03" stroke="#f39a3c" stroke-width="0.7"/>
<line x1="275.48" y1="608.72" x2="277.28" y2="608.72" stroke="#f39a3c" stroke-width="0.7"/>
<line x1="275.48" y1="615.03" x2="277.28" y2="615.03" stroke="#f39a3c" stroke-width="0.7"/>
<line x1="283.49" y1="608.72" x2="283.49" y2="615.03" stroke="#f39a3c" stroke-width="0.7"/>
<line x1="282.59" y1="608.72" x2="284.38" y2="608.72" stroke="#f39a3c" stroke-width="0.7"/>
<line x1="282.59" y1="615.03" x2="284.38" y2="615.03" stroke="#f39a3c" stroke-width="0.7"/>
<line x1="290.59" y1="609.24" x2="290.59" y2="615.55" stroke="#f39a3c" stroke-width="0.7"/>
<line x1="289.69" y1="609.24" x2="291.49" y2="609.24" stroke="#f39a3c" stroke-width="0.7"/>
<line x1="289.69" y1="615.55" x2="291.49" y2="615.55" stroke="#f39a3c" stroke-width="0.7"/>
<circle cx="212.44" cy="600.30" r="1.52" fill="#fff" stroke="#f39a3c" stroke-width="0.80"/>
<circle cx="219.54" cy="606.61" r="1.52" fill="#fff" stroke="#f39a3c" stroke-width="0.80"/>
<circle cx="226.64" cy="609.77" r="1.52" fill="#fff" stroke="#f39a3c" stroke-width="0.80"/>
<circle cx="233.75" cy="610.82" r="1.52" fill="#fff" stroke="#f39a3c" stroke-width="0.80"/>
<circle cx="240.85" cy="611.35" r="1.52" fill="#fff" stroke="#f39a3c" stroke-width="0.80"/>
<circle cx="247.96" cy="611.35" r="1.52" fill="#fff" stroke="#f39a3c" stroke-width="0.80"/>
<circle cx="255.06" cy="611.35" r="1.52" fill="#fff" stroke="#f39a3c" stroke-width="0.80"/>
<circle cx="262.17" cy="611.87" r="1.52" fill="#fff" stroke="#f39a3c" stroke-width="0.80"/>
<circle cx="269.27" cy="611.87" r="1.52" fill="#fff" stroke="#f39a3c" stroke-width="0.80"/>
<circle cx="276.38" cy="611.87" r="1.52" fill="#fff" stroke="#f39a3c" stroke-width="0.80"/>
<circle cx="283.49" cy="611.87" r="1.52" fill="#fff" stroke="#f39a3c" stroke-width="0.80"/>
<circle cx="290.59" cy="612.40" r="1.52" fill="#fff" stroke="#f39a3c" stroke-width="0.80"/>
<line x1="212.44" y1="599.25" x2="212.44" y2="605.56" stroke="#f0701e" stroke-width="0.7"/>
<line x1="211.53" y1="599.25" x2="213.34" y2="599.25" stroke="#f0701e" stroke-width="0.7"/>
<line x1="211.53" y1="605.56" x2="213.34" y2="605.56" stroke="#f0701e" stroke-width="0.7"/>
<line x1="219.54" y1="605.03" x2="219.54" y2="611.35" stroke="#f0701e" stroke-width="0.7"/>
<line x1="218.64" y1="605.03" x2="220.44" y2="605.03" stroke="#f0701e" stroke-width="0.7"/>
<line x1="218.64" y1="611.35" x2="220.44" y2="611.35" stroke="#f0701e" stroke-width="0.7"/>
<line x1="226.64" y1="608.72" x2="226.64" y2="615.03" stroke="#f0701e" stroke-width="0.7"/>
<line x1="225.74" y1="608.72" x2="227.54" y2="608.72" stroke="#f0701e" stroke-width="0.7"/>
<line x1="225.74" y1="615.03" x2="227.54" y2="615.03" stroke="#f0701e" stroke-width="0.7"/>
<line x1="233.75" y1="609.77" x2="233.75" y2="616.08" stroke="#f0701e" stroke-width="0.7"/>
<line x1="232.85" y1="609.77" x2="234.65" y2="609.77" stroke="#f0701e" stroke-width="0.7"/>
<line x1="232.85" y1="616.08" x2="234.65" y2="616.08" stroke="#f0701e" stroke-width="0.7"/>
<line x1="240.85" y1="610.29" x2="240.85" y2="616.61" stroke="#f0701e" stroke-width="0.7"/>
<line x1="239.95" y1="610.29" x2="241.75" y2="610.29" stroke="#f0701e" stroke-width="0.7"/>
<line x1="239.95" y1="616.61" x2="241.75" y2="616.61" stroke="#f0701e" stroke-width="0.7"/>
<line x1="247.96" y1="610.82" x2="247.96" y2="617.13" stroke="#f0701e" stroke-width="0.7"/>
<line x1="247.06" y1="610.82" x2="248.86" y2="610.82" stroke="#f0701e" stroke-width="0.7"/>
<line x1="247.06" y1="617.13" x2="248.86" y2="617.13" stroke="#f0701e" stroke-width="0.7"/>
<line x1="255.06" y1="610.82" x2="255.06" y2="617.13" stroke="#f0701e" stroke-width="0.7"/>
<line x1="254.16" y1="610.82" x2="255.97" y2="610.82" stroke="#f0701e" stroke-width="0.7"/>
<line x1="254.16" y1="617.13" x2="255.97" y2="617.13" stroke="#f0701e" stroke-width="0.7"/>
<line x1="262.17" y1="610.82" x2="262.17" y2="617.13" stroke="#f0701e" stroke-width="0.7"/>
<line x1="261.27" y1="610.82" x2="263.07" y2="610.82" stroke="#f0701e" stroke-width="0.7"/>
<line x1="261.27" y1="617.13" x2="263.07" y2="617.13" stroke="#f0701e" stroke-width="0.7"/>
<line x1="269.27" y1="610.82" x2="269.27" y2="617.13" stroke="#f0701e" stroke-width="0.7"/>
<line x1="268.38" y1="610.82" x2="270.17" y2="610.82" stroke="#f0701e" stroke-width="0.7"/>
<line x1="268.38" y1="617.13" x2="270.17" y2="617.13" stroke="#f0701e" stroke-width="0.7"/>
<line x1="276.38" y1="610.82" x2="276.38" y2="617.13" stroke="#f0701e" stroke-width="0.7"/>
<line x1="275.48" y1="610.82" x2="277.28" y2="610.82" stroke="#f0701e" stroke-width="0.7"/>
<line x1="275.48" y1="617.13" x2="277.28" y2="617.13" stroke="#f0701e" stroke-width="0.7"/>
<line x1="283.49" y1="610.82" x2="283.49" y2="617.13" stroke="#f0701e" stroke-width="0.7"/>
<line x1="282.59" y1="610.82" x2="284.38" y2="610.82" stroke="#f0701e" stroke-width="0.7"/>
<line x1="282.59" y1="617.13" x2="284.38" y2="617.13" stroke="#f0701e" stroke-width="0.7"/>
<line x1="290.59" y1="610.82" x2="290.59" y2="617.13" stroke="#f0701e" stroke-width="0.7"/>
<line x1="289.69" y1="610.82" x2="291.49" y2="610.82" stroke="#f0701e" stroke-width="0.7"/>
<line x1="289.69" y1="617.13" x2="291.49" y2="617.13" stroke="#f0701e" stroke-width="0.7"/>
<path d="M212.44,600.64 L214.19,602.40 L212.44,604.16 L210.68,602.40 Z" fill="#f0701e"/>
<path d="M219.54,606.43 L221.30,608.19 L219.54,609.95 L217.78,608.19 Z" fill="#f0701e"/>
<path d="M226.64,610.11 L228.40,611.87 L226.64,613.63 L224.88,611.87 Z" fill="#f0701e"/>
<path d="M233.75,611.16 L235.51,612.92 L233.75,614.68 L231.99,612.92 Z" fill="#f0701e"/>
<path d="M240.85,611.69 L242.61,613.45 L240.85,615.21 L239.09,613.45 Z" fill="#f0701e"/>
<path d="M247.96,612.22 L249.72,613.98 L247.96,615.74 L246.20,613.98 Z" fill="#f0701e"/>
<path d="M255.06,612.22 L256.82,613.98 L255.06,615.74 L253.31,613.98 Z" fill="#f0701e"/>
<path d="M262.17,612.22 L263.93,613.98 L262.17,615.74 L260.41,613.98 Z" fill="#f0701e"/>
<path d="M269.27,612.22 L271.03,613.98 L269.27,615.74 L267.51,613.98 Z" fill="#f0701e"/>
<path d="M276.38,612.22 L278.14,613.98 L276.38,615.74 L274.62,613.98 Z" fill="#f0701e"/>
<path d="M283.49,612.22 L285.25,613.98 L283.49,615.74 L281.73,613.98 Z" fill="#f0701e"/>
<path d="M290.59,612.22 L292.35,613.98 L290.59,615.74 L288.83,613.98 Z" fill="#f0701e"/>
<line x1="212.44" y1="603.98" x2="212.44" y2="609.24" stroke="#1414c8" stroke-width="0.7"/>
<line x1="211.53" y1="603.98" x2="213.34" y2="603.98" stroke="#1414c8" stroke-width="0.7"/>
<line x1="211.53" y1="609.24" x2="213.34" y2="609.24" stroke="#1414c8" stroke-width="0.7"/>
<line x1="219.54" y1="609.24" x2="219.54" y2="614.50" stroke="#1414c8" stroke-width="0.7"/>
<line x1="218.64" y1="609.24" x2="220.44" y2="609.24" stroke="#1414c8" stroke-width="0.7"/>
<line x1="218.64" y1="614.50" x2="220.44" y2="614.50" stroke="#1414c8" stroke-width="0.7"/>
<line x1="226.64" y1="611.87" x2="226.64" y2="617.13" stroke="#1414c8" stroke-width="0.7"/>
<line x1="225.74" y1="611.87" x2="227.54" y2="611.87" stroke="#1414c8" stroke-width="0.7"/>
<line x1="225.74" y1="617.13" x2="227.54" y2="617.13" stroke="#1414c8" stroke-width="0.7"/>
<line x1="233.75" y1="613.45" x2="233.75" y2="618.71" stroke="#1414c8" stroke-width="0.7"/>
<line x1="232.85" y1="613.45" x2="234.65" y2="613.45" stroke="#1414c8" stroke-width="0.7"/>
<line x1="232.85" y1="618.71" x2="234.65" y2="618.71" stroke="#1414c8" stroke-width="0.7"/>
<line x1="240.85" y1="614.50" x2="240.85" y2="619.76" stroke="#1414c8" stroke-width="0.7"/>
<line x1="239.95" y1="614.50" x2="241.75" y2="614.50" stroke="#1414c8" stroke-width="0.7"/>
<line x1="239.95" y1="619.76" x2="241.75" y2="619.76" stroke="#1414c8" stroke-width="0.7"/>
<line x1="247.96" y1="615.03" x2="247.96" y2="620.29" stroke="#1414c8" stroke-width="0.7"/>
<line x1="247.06" y1="615.03" x2="248.86" y2="615.03" stroke="#1414c8" stroke-width="0.7"/>
<line x1="247.06" y1="620.29" x2="248.86" y2="620.29" stroke="#1414c8" stroke-width="0.7"/>
<line x1="255.06" y1="615.55" x2="255.06" y2="620.81" stroke="#1414c8" stroke-width="0.7"/>
<line x1="254.16" y1="615.55" x2="255.97" y2="615.55" stroke="#1414c8" stroke-width="0.7"/>
<line x1="254.16" y1="620.81" x2="255.97" y2="620.81" stroke="#1414c8" stroke-width="0.7"/>
<line x1="262.17" y1="615.55" x2="262.17" y2="620.81" stroke="#1414c8" stroke-width="0.7"/>
<line x1="261.27" y1="615.55" x2="263.07" y2="615.55" stroke="#1414c8" stroke-width="0.7"/>
<line x1="261.27" y1="620.81" x2="263.07" y2="620.81" stroke="#1414c8" stroke-width="0.7"/>
<line x1="269.27" y1="616.08" x2="269.27" y2="621.34" stroke="#1414c8" stroke-width="0.7"/>
<line x1="268.38" y1="616.08" x2="270.17" y2="616.08" stroke="#1414c8" stroke-width="0.7"/>
<line x1="268.38" y1="621.34" x2="270.17" y2="621.34" stroke="#1414c8" stroke-width="0.7"/>
<line x1="276.38" y1="616.61" x2="276.38" y2="621.87" stroke="#1414c8" stroke-width="0.7"/>
<line x1="275.48" y1="616.61" x2="277.28" y2="616.61" stroke="#1414c8" stroke-width="0.7"/>
<line x1="275.48" y1="621.87" x2="277.28" y2="621.87" stroke="#1414c8" stroke-width="0.7"/>
<line x1="283.49" y1="616.61" x2="283.49" y2="621.87" stroke="#1414c8" stroke-width="0.7"/>
<line x1="282.59" y1="616.61" x2="284.38" y2="616.61" stroke="#1414c8" stroke-width="0.7"/>
<line x1="282.59" y1="621.87" x2="284.38" y2="621.87" stroke="#1414c8" stroke-width="0.7"/>
<line x1="290.59" y1="617.13" x2="290.59" y2="622.39" stroke="#1414c8" stroke-width="0.7"/>
<line x1="289.69" y1="617.13" x2="291.49" y2="617.13" stroke="#1414c8" stroke-width="0.7"/>
<line x1="289.69" y1="622.39" x2="291.49" y2="622.39" stroke="#1414c8" stroke-width="0.7"/>
<circle cx="212.44" cy="606.61" r="1.52" fill="#1414c8"/>
<circle cx="219.54" cy="611.87" r="1.52" fill="#1414c8"/>
<circle cx="226.64" cy="614.50" r="1.52" fill="#1414c8"/>
<circle cx="233.75" cy="616.08" r="1.52" fill="#1414c8"/>
<circle cx="240.85" cy="617.13" r="1.52" fill="#1414c8"/>
<circle cx="247.96" cy="617.66" r="1.52" fill="#1414c8"/>
<circle cx="255.06" cy="618.18" r="1.52" fill="#1414c8"/>
<circle cx="262.17" cy="618.18" r="1.52" fill="#1414c8"/>
<circle cx="269.27" cy="618.71" r="1.52" fill="#1414c8"/>
<circle cx="276.38" cy="619.24" r="1.52" fill="#1414c8"/>
<circle cx="283.49" cy="619.24" r="1.52" fill="#1414c8"/>
<circle cx="290.59" cy="619.76" r="1.52" fill="#1414c8"/>
<text x="290.00" y="637.96" text-anchor="middle">*</text>
<text x="290.00" y="642.10" text-anchor="middle" font-size="5">#</text>
<text x="337.2" y="516.5" font-size="11" font-weight="bold">h</text>
<line x1="365.40" y1="499.30" x2="376.50" y2="499.30" stroke="#000" stroke-width="1.0" stroke-dasharray="0.8,1.6"/>
<path d="M370.90,497.20 L373.00,500.98 L368.80,500.98 Z" fill="#fff" stroke="#000" stroke-width="0.88"/>
<text x="379.90" y="501.46">WT-Ct</text>
<line x1="365.40" y1="512.90" x2="376.50" y2="512.90" stroke="#e8101a" stroke-width="1.0" stroke-dasharray="1.8,0.9"/>
<path d="M368.80,511.22 L373.00,511.22 L370.90,515.00 Z" fill="#e8101a"/>
<text x="379.90" y="515.06">WT-C/EBPβ OE</text>
<line x1="365.40" y1="529.50" x2="376.50" y2="529.50" stroke="#f39a3c" stroke-width="1.0" stroke-dasharray="2,1"/>
<circle cx="370.90" cy="529.50" r="1.99" fill="#fff" stroke="#f39a3c" stroke-width="1.05"/>
<text x="379.90" y="531.66">3xTg-Ct</text>
<line x1="365.40" y1="543.90" x2="376.50" y2="543.90" stroke="#1414c8" stroke-width="1.0"/>
<circle cx="370.90" cy="543.90" r="1.99" fill="#1414c8"/>
<text x="379.90" y="546.06">3xTg-C/EBPβ OE</text>
<line x1="365.40" y1="555.50" x2="376.50" y2="555.50" stroke="#f0701e" stroke-width="1.0" stroke-dasharray="2,1"/>
<path d="M370.90,553.19 L373.21,555.50 L370.90,557.81 L368.59,555.50 Z" fill="#f0701e"/>
<text x="379.90" y="557.66">3xTg-C/EBPβ+AEP C189S</text>
<line x1="357.30" y1="568.00" x2="357.30" y2="653.10" stroke="#000" stroke-width="1.0"/>
<line x1="355.30" y1="652.60" x2="357.30" y2="652.60" stroke="#000" stroke-width="0.8"/>
<text x="352.80" y="654.76" text-anchor="end">0</text>
<line x1="355.30" y1="624.50" x2="357.30" y2="624.50" stroke="#000" stroke-width="0.8"/>
<text x="352.80" y="626.66" text-anchor="end">20</text>
<line x1="355.30" y1="596.40" x2="357.30" y2="596.40" stroke="#000" stroke-width="0.8"/>
<text x="352.80" y="598.56" text-anchor="end">40</text>
<line x1="355.30" y1="568.30" x2="357.30" y2="568.30" stroke="#000" stroke-width="0.8"/>
<text x="352.80" y="570.46" text-anchor="end">60</text>
<line x1="356.80" y1="652.60" x2="460.00" y2="652.60" stroke="#000" stroke-width="1.0"/>
<line x1="368.80" y1="652.60" x2="368.80" y2="654.60" stroke="#000" stroke-width="0.8"/>
<text x="368.80" y="663.16" text-anchor="middle">1</text>
<line x1="389.85" y1="652.60" x2="389.85" y2="654.60" stroke="#000" stroke-width="0.8"/>
<text x="389.85" y="663.16" text-anchor="middle">2</text>
<line x1="410.90" y1="652.60" x2="410.90" y2="654.60" stroke="#000" stroke-width="0.8"/>
<text x="410.90" y="663.16" text-anchor="middle">3</text>
<line x1="431.95" y1="652.60" x2="431.95" y2="654.60" stroke="#000" stroke-width="0.8"/>
<text x="431.95" y="663.16" text-anchor="middle">4</text>
<line x1="453.00" y1="652.60" x2="453.00" y2="654.60" stroke="#000" stroke-width="0.8"/>
<text x="453.00" y="663.16" text-anchor="middle">5</text>
<text x="410.90" y="672.36" text-anchor="middle">Training day</text>
<text transform="translate(336.80,610.50) rotate(-90)" y="2.16" text-anchor="middle">Latency to mount platform (s)</text>
<polyline points="368.80,590.78 389.85,616.07 410.90,623.80 431.95,625.90 453.00,631.52" fill="none" stroke="#000" stroke-width="0.9" stroke-dasharray="1,1.2"/>
<line x1="368.80" y1="585.16" x2="368.80" y2="596.40" stroke="#000" stroke-width="0.7"/>
<line x1="367.90" y1="585.16" x2="369.70" y2="585.16" stroke="#000" stroke-width="0.7"/>
<line x1="367.90" y1="596.40" x2="369.70" y2="596.40" stroke="#000" stroke-width="0.7"/>
<line x1="389.85" y1="609.05" x2="389.85" y2="623.10" stroke="#000" stroke-width="0.7"/>
<line x1="388.95" y1="609.05" x2="390.75" y2="609.05" stroke="#000" stroke-width="0.7"/>
<line x1="388.95" y1="623.10" x2="390.75" y2="623.10" stroke="#000" stroke-width="0.7"/>
<line x1="410.90" y1="616.77" x2="410.90" y2="630.82" stroke="#000" stroke-width="0.7"/>
<line x1="410.00" y1="616.77" x2="411.80" y2="616.77" stroke="#000" stroke-width="0.7"/>
<line x1="410.00" y1="630.82" x2="411.80" y2="630.82" stroke="#000" stroke-width="0.7"/>
<line x1="431.95" y1="620.28" x2="431.95" y2="631.52" stroke="#000" stroke-width="0.7"/>
<line x1="431.05" y1="620.28" x2="432.85" y2="620.28" stroke="#000" stroke-width="0.7"/>
<line x1="431.05" y1="631.52" x2="432.85" y2="631.52" stroke="#000" stroke-width="0.7"/>
<line x1="453.00" y1="628.72" x2="453.00" y2="634.33" stroke="#000" stroke-width="0.7"/>
<line x1="452.10" y1="628.72" x2="453.90" y2="628.72" stroke="#000" stroke-width="0.7"/>
<line x1="452.10" y1="634.33" x2="453.90" y2="634.33" stroke="#000" stroke-width="0.7"/>
<path d="M368.80,589.33 L370.25,591.94 L367.35,591.94 Z" fill="#000"/>
<path d="M389.85,614.62 L391.30,617.23 L388.40,617.23 Z" fill="#000"/>
<path d="M410.90,622.35 L412.35,624.96 L409.45,624.96 Z" fill="#000"/>
<path d="M431.95,624.45 L433.40,627.06 L430.50,627.06 Z" fill="#000"/>
<path d="M453.00,630.07 L454.45,632.68 L451.55,632.68 Z" fill="#000"/>
<polyline points="368.80,578.13 389.85,604.83 410.90,613.26 431.95,632.93 453.00,630.12" fill="none" stroke="#f39a3c" stroke-width="0.9" stroke-dasharray="2,1"/>
<line x1="368.80" y1="572.51" x2="368.80" y2="583.75" stroke="#f39a3c" stroke-width="0.7"/>
<line x1="367.90" y1="572.51" x2="369.70" y2="572.51" stroke="#f39a3c" stroke-width="0.7"/>
<line x1="367.90" y1="583.75" x2="369.70" y2="583.75" stroke="#f39a3c" stroke-width="0.7"/>
<line x1="389.85" y1="597.81" x2="389.85" y2="611.86" stroke="#f39a3c" stroke-width="0.7"/>
<line x1="388.95" y1="597.81" x2="390.75" y2="597.81" stroke="#f39a3c" stroke-width="0.7"/>
<line x1="388.95" y1="611.86" x2="390.75" y2="611.86" stroke="#f39a3c" stroke-width="0.7"/>
<line x1="410.90" y1="606.24" x2="410.90" y2="620.28" stroke="#f39a3c" stroke-width="0.7"/>
<line x1="410.00" y1="606.24" x2="411.80" y2="606.24" stroke="#f39a3c" stroke-width="0.7"/>
<line x1="410.00" y1="620.28" x2="411.80" y2="620.28" stroke="#f39a3c" stroke-width="0.7"/>
<line x1="431.95" y1="628.72" x2="431.95" y2="637.15" stroke="#f39a3c" stroke-width="0.7"/>
<line x1="431.05" y1="628.72" x2="432.85" y2="628.72" stroke="#f39a3c" stroke-width="0.7"/>
<line x1="431.05" y1="637.15" x2="432.85" y2="637.15" stroke="#f39a3c" stroke-width="0.7"/>
<line x1="453.00" y1="625.90" x2="453.00" y2="634.34" stroke="#f39a3c" stroke-width="0.7"/>
<line x1="452.10" y1="625.90" x2="453.90" y2="625.90" stroke="#f39a3c" stroke-width="0.7"/>
<line x1="452.10" y1="634.34" x2="453.90" y2="634.34" stroke="#f39a3c" stroke-width="0.7"/>
<circle cx="368.80" cy="578.13" r="1.38" fill="#fff" stroke="#f39a3c" stroke-width="0.72"/>
<circle cx="389.85" cy="604.83" r="1.38" fill="#fff" stroke="#f39a3c" stroke-width="0.72"/>
<circle cx="410.90" cy="613.26" r="1.38" fill="#fff" stroke="#f39a3c" stroke-width="0.72"/>
<circle cx="431.95" cy="632.93" r="1.38" fill="#fff" stroke="#f39a3c" stroke-width="0.72"/>
<circle cx="453.00" cy="630.12" r="1.38" fill="#fff" stroke="#f39a3c" stroke-width="0.72"/>
<polyline points="368.80,582.35 389.85,602.02 410.90,608.34 431.95,613.96 453.00,625.90" fill="none" stroke="#e8101a" stroke-width="0.9" stroke-dasharray="3,1,1,1"/>
<line x1="368.80" y1="578.13" x2="368.80" y2="586.57" stroke="#e8101a" stroke-width="0.7"/>
<line x1="367.90" y1="578.13" x2="369.70" y2="578.13" stroke="#e8101a" stroke-width="0.7"/>
<line x1="367.90" y1="586.57" x2="369.70" y2="586.57" stroke="#e8101a" stroke-width="0.7"/>
<line x1="389.85" y1="596.40" x2="389.85" y2="607.64" stroke="#e8101a" stroke-width="0.7"/>
<line x1="388.95" y1="596.40" x2="390.75" y2="596.40" stroke="#e8101a" stroke-width="0.7"/>
<line x1="388.95" y1="607.64" x2="390.75" y2="607.64" stroke="#e8101a" stroke-width="0.7"/>
<line x1="410.90" y1="602.72" x2="410.90" y2="613.96" stroke="#e8101a" stroke-width="0.7"/>
<line x1="410.00" y1="602.72" x2="411.80" y2="602.72" stroke="#e8101a" stroke-width="0.7"/>
<line x1="410.00" y1="613.96" x2="411.80" y2="613.96" stroke="#e8101a" stroke-width="0.7"/>
<line x1="431.95" y1="608.34" x2="431.95" y2="619.58" stroke="#e8101a" stroke-width="0.7"/>
<line x1="431.05" y1="608.34" x2="432.85" y2="608.34" stroke="#e8101a" stroke-width="0.7"/>
<line x1="431.05" y1="619.58" x2="432.85" y2="619.58" stroke="#e8101a" stroke-width="0.7"/>
<line x1="453.00" y1="621.69" x2="453.00" y2="630.12" stroke="#e8101a" stroke-width="0.7"/>
<line x1="452.10" y1="621.69" x2="453.90" y2="621.69" stroke="#e8101a" stroke-width="0.7"/>
<line x1="452.10" y1="630.12" x2="453.90" y2="630.12" stroke="#e8101a" stroke-width="0.7"/>
<path d="M367.35,581.19 L370.25,581.19 L368.80,583.80 Z" fill="#e8101a"/>
<path d="M388.40,600.86 L391.30,600.86 L389.85,603.47 Z" fill="#e8101a"/>
<path d="M409.45,607.18 L412.35,607.18 L410.90,609.79 Z" fill="#e8101a"/>
<path d="M430.50,612.80 L433.40,612.80 L431.95,615.41 Z" fill="#e8101a"/>
<path d="M451.55,624.75 L454.45,624.75 L453.00,627.36 Z" fill="#e8101a"/>
<polyline points="368.80,580.95 389.85,609.05 410.90,616.07 431.95,620.29 453.00,628.72" fill="none" stroke="#f0701e" stroke-width="0.9" stroke-dasharray="2,1"/>
<line x1="368.80" y1="575.33" x2="368.80" y2="586.57" stroke="#f0701e" stroke-width="0.7"/>
<line x1="367.90" y1="575.33" x2="369.70" y2="575.33" stroke="#f0701e" stroke-width="0.7"/>
<line x1="367.90" y1="586.57" x2="369.70" y2="586.57" stroke="#f0701e" stroke-width="0.7"/>
<line x1="389.85" y1="602.02" x2="389.85" y2="616.07" stroke="#f0701e" stroke-width="0.7"/>
<line x1="388.95" y1="602.02" x2="390.75" y2="602.02" stroke="#f0701e" stroke-width="0.7"/>
<line x1="388.95" y1="616.07" x2="390.75" y2="616.07" stroke="#f0701e" stroke-width="0.7"/>
<line x1="410.90" y1="609.05" x2="410.90" y2="623.10" stroke="#f0701e" stroke-width="0.7"/>
<line x1="410.00" y1="609.05" x2="411.80" y2="609.05" stroke="#f0701e" stroke-width="0.7"/>
<line x1="410.00" y1="623.10" x2="411.80" y2="623.10" stroke="#f0701e" stroke-width="0.7"/>
<line x1="431.95" y1="614.67" x2="431.95" y2="625.91" stroke="#f0701e" stroke-width="0.7"/>
<line x1="431.05" y1="614.67" x2="432.85" y2="614.67" stroke="#f0701e" stroke-width="0.7"/>
<line x1="431.05" y1="625.91" x2="432.85" y2="625.91" stroke="#f0701e" stroke-width="0.7"/>
<line x1="453.00" y1="624.50" x2="453.00" y2="632.93" stroke="#f0701e" stroke-width="0.7"/>
<line x1="452.10" y1="624.50" x2="453.90" y2="624.50" stroke="#f0701e" stroke-width="0.7"/>
<line x1="452.10" y1="632.93" x2="453.90" y2="632.93" stroke="#f0701e" stroke-width="0.7"/>
<path d="M368.80,579.35 L370.40,580.95 L368.80,582.54 L367.20,580.95 Z" fill="#f0701e"/>
<path d="M389.85,607.45 L391.45,609.05 L389.85,610.64 L388.25,609.05 Z" fill="#f0701e"/>
<path d="M410.90,614.48 L412.50,616.07 L410.90,617.67 L409.31,616.07 Z" fill="#f0701e"/>
<path d="M431.95,618.69 L433.55,620.29 L431.95,621.88 L430.36,620.29 Z" fill="#f0701e"/>
<path d="M453.00,627.12 L454.60,628.72 L453.00,630.31 L451.40,628.72 Z" fill="#f0701e"/>
<polyline points="368.80,585.16 389.85,595.70 410.90,602.02 431.95,609.75 453.00,621.69" fill="none" stroke="#1414c8" stroke-width="1.1"/>
<line x1="368.80" y1="580.95" x2="368.80" y2="589.38" stroke="#1414c8" stroke-width="0.7"/>
<line x1="367.90" y1="580.95" x2="369.70" y2="580.95" stroke="#1414c8" stroke-width="0.7"/>
<line x1="367.90" y1="589.38" x2="369.70" y2="589.38" stroke="#1414c8" stroke-width="0.7"/>
<line x1="389.85" y1="590.08" x2="389.85" y2="601.32" stroke="#1414c8" stroke-width="0.7"/>
<line x1="388.95" y1="590.08" x2="390.75" y2="590.08" stroke="#1414c8" stroke-width="0.7"/>
<line x1="388.95" y1="601.32" x2="390.75" y2="601.32" stroke="#1414c8" stroke-width="0.7"/>
<line x1="410.90" y1="595.00" x2="410.90" y2="609.04" stroke="#1414c8" stroke-width="0.7"/>
<line x1="410.00" y1="595.00" x2="411.80" y2="595.00" stroke="#1414c8" stroke-width="0.7"/>
<line x1="410.00" y1="609.04" x2="411.80" y2="609.04" stroke="#1414c8" stroke-width="0.7"/>
<line x1="431.95" y1="599.91" x2="431.95" y2="619.58" stroke="#1414c8" stroke-width="0.7"/>
<line x1="431.05" y1="599.91" x2="432.85" y2="599.91" stroke="#1414c8" stroke-width="0.7"/>
<line x1="431.05" y1="619.58" x2="432.85" y2="619.58" stroke="#1414c8" stroke-width="0.7"/>
<line x1="453.00" y1="617.48" x2="453.00" y2="625.91" stroke="#1414c8" stroke-width="0.7"/>
<line x1="452.10" y1="617.48" x2="453.90" y2="617.48" stroke="#1414c8" stroke-width="0.7"/>
<line x1="452.10" y1="625.91" x2="453.90" y2="625.91" stroke="#1414c8" stroke-width="0.7"/>
<circle cx="368.80" cy="585.16" r="1.38" fill="#1414c8"/>
<circle cx="389.85" cy="595.70" r="1.38" fill="#1414c8"/>
<circle cx="410.90" cy="602.02" r="1.38" fill="#1414c8"/>
<circle cx="431.95" cy="609.75" r="1.38" fill="#1414c8"/>
<circle cx="453.00" cy="621.69" r="1.38" fill="#1414c8"/>
<text x="477.8" y="561.2" font-size="11" font-weight="bold">i</text>
<line x1="509.20" y1="566.00" x2="509.20" y2="651.50" stroke="#000" stroke-width="1.2"/>
<line x1="507.20" y1="651.00" x2="509.20" y2="651.00" stroke="#000" stroke-width="0.9"/>
<text x="504.20" y="653.16" text-anchor="end">0</text>
<line x1="507.20" y1="629.90" x2="509.20" y2="629.90" stroke="#000" stroke-width="0.9"/>
<text x="504.20" y="632.06" text-anchor="end">20</text>
<line x1="507.20" y1="608.80" x2="509.20" y2="608.80" stroke="#000" stroke-width="0.9"/>
<text x="504.20" y="610.96" text-anchor="end">40</text>
<line x1="507.20" y1="587.70" x2="509.20" y2="587.70" stroke="#000" stroke-width="0.9"/>
<text x="504.20" y="589.86" text-anchor="end">60</text>
<line x1="507.20" y1="566.60" x2="509.20" y2="566.60" stroke="#000" stroke-width="0.9"/>
<text x="504.20" y="568.76" text-anchor="end">80</text>
<rect x="513.40" y="592.98" width="9.52" height="58.03" fill="#000000"/>
<line x1="518.16" y1="592.98" x2="518.16" y2="589.81" stroke="#000" stroke-width="1.1"/>
<line x1="516.66" y1="589.81" x2="519.66" y2="589.81" stroke="#000" stroke-width="1.1"/>
<rect x="522.92" y="610.38" width="9.52" height="40.62" fill="#fc0a0a"/>
<line x1="527.68" y1="610.38" x2="527.68" y2="605.63" stroke="#000" stroke-width="1.1"/>
<line x1="526.18" y1="605.63" x2="529.18" y2="605.63" stroke="#000" stroke-width="1.1"/>
<rect x="532.44" y="605.63" width="9.52" height="45.37" fill="#fba04c"/>
<line x1="537.20" y1="605.63" x2="537.20" y2="600.89" stroke="#000" stroke-width="1.1"/>
<line x1="535.70" y1="600.89" x2="538.70" y2="600.89" stroke="#000" stroke-width="1.1"/>
<rect x="541.96" y="618.29" width="9.52" height="32.71" fill="#0a0af0"/>
<line x1="546.72" y1="618.29" x2="546.72" y2="613.55" stroke="#000" stroke-width="1.1"/>
<line x1="545.22" y1="613.55" x2="548.22" y2="613.55" stroke="#000" stroke-width="1.1"/>
<rect x="551.48" y="603.00" width="9.52" height="48.00" fill="#fb6a12"/>
<line x1="556.24" y1="603.00" x2="556.24" y2="598.25" stroke="#000" stroke-width="1.1"/>
<line x1="554.74" y1="598.25" x2="557.74" y2="598.25" stroke="#000" stroke-width="1.1"/>
<line x1="508.70" y1="651.00" x2="565.60" y2="651.00" stroke="#000" stroke-width="1.1"/>
<text transform="translate(481.60,610.90) rotate(-90)" y="2.16" text-anchor="middle">% of time spent in platform</text>
<text transform="translate(490.10,610.90) rotate(-90)" y="2.16" text-anchor="middle">quadrant</text>
<polyline points="517.00,569.20 517.00,562.90 536.70,562.90 536.70,569.20" fill="none" stroke="#000" stroke-width="1.0"/>
<text x="526.10" y="561.59" text-anchor="middle" font-size="7.2">*</text>
<polyline points="517.00,583.40 517.00,578.50 527.20,578.50 527.20,583.40" fill="none" stroke="#000" stroke-width="1.0"/>
<text x="521.90" y="576.99" text-anchor="middle" font-size="7.2">*</text>
<polyline points="534.60,590.80 534.60,584.50 546.20,584.50 546.20,590.80" fill="none" stroke="#000" stroke-width="1.0"/>
<text x="540.90" y="582.79" text-anchor="middle" font-size="7.2">*</text>
<polyline points="548.30,590.80 548.30,584.50 560.60,584.50 560.60,590.80" fill="none" stroke="#000" stroke-width="1.0"/>
<text x="554.70" y="582.79" text-anchor="middle" font-size="7.2">*</text>
<text transform="translate(514.80,656.10) rotate(-45)" y="1.75" text-anchor="end" font-size="4.85">WT-Ct</text>
<text transform="translate(528.10,656.80) rotate(-45)" y="1.75" text-anchor="end" font-size="4.85">WT-C/EBPβ OE</text>
<text transform="translate(537.00,655.40) rotate(-45)" y="1.75" text-anchor="end" font-size="4.85">3xTg-Ct</text>
<text transform="translate(548.60,654.70) rotate(-45)" y="1.75" text-anchor="end" font-size="4.85">3xTg-C/EBPβ OE</text>
<text transform="translate(559.20,656.10) rotate(-45)" y="1.75" text-anchor="end" font-size="4.85">3xTg-C/EBPβ OE+</text>
<text transform="translate(563.30,658.70) rotate(-45)" y="1.75" text-anchor="end" font-size="4.85">AEP C189S</text></svg></body></html>
